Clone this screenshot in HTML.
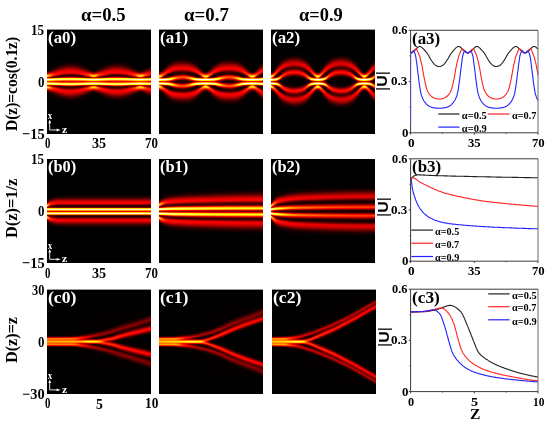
<!DOCTYPE html><html><head><meta charset="utf-8"><title>figure</title><style>
html,body{margin:0;padding:0;background:#fff}
body{width:550px;height:423px;position:relative;overflow:hidden}
.p{position:absolute;width:104px;height:104px;background:#000}
.q{box-shadow:0 -1px 0 rgba(0,0,0,.4)}
.p i{position:absolute;left:0;width:104px;height:1px;display:block}
.t{position:absolute;font-family:"Liberation Serif",serif;font-weight:bold;line-height:1;white-space:pre;transform-origin:0 0;color:#000}
.s{font-family:"Liberation Sans",sans-serif}

</style></head><body>
<div class="p q" style="left:47px;top:30px">
<i style="top:30px;background:linear-gradient(90deg,#000 0.5px,#000 103.5px)"></i>
<i style="top:31px;background:linear-gradient(90deg,#000 0.5px,#040000 29.5px,#050000 65.5px,#000 103.5px)"></i>
<i style="top:32px;background:linear-gradient(90deg,#000 0.5px,#090000 17.5px,#0a0000 28.5px,#000 45.5px,#080000 63.5px,#0b0000 74.5px,#000 90.5px,#010000 103.5px)"></i>
<i style="top:33px;background:linear-gradient(90deg,#000 0.5px,#090000 14.5px,#190000 24.5px,#000 40.5px,#060000 59.5px,#190000 70.5px,#000 87.5px,#020000 103.5px)"></i>
<i style="top:34px;background:linear-gradient(90deg,#000 0.5px,#080000 11.5px,#290000 22.5px,#1c0000 29.5px,#010000 38.5px,#060000 57.5px,#290000 69.5px,#170000 77.5px,#010000 85.5px,#040000 103.5px)"></i>
<i style="top:35px;background:linear-gradient(90deg,#000 0.5px,#070000 9.5px,#3f0000 21.5px,#380000 27.5px,#030000 38.5px,#050000 55.5px,#3d0000 67.5px,#3b0000 73.5px,#030000 85.5px,#030000 101.5px,#090000 103.5px)"></i>
<i style="top:36px;background:linear-gradient(90deg,#000 0.5px,#0a0000 8.5px,#5a0000 20.5px,#590000 26.5px,#050000 39.5px,#050000 53.5px,#190000 57.5px,#570000 66.5px,#5b0000 72.5px,#2a0000 80.5px,#070000 85.5px,#010000 97.5px,#130000 103.5px)"></i>
<i style="top:37px;background:linear-gradient(90deg,#000 0.5px,#0a0000 6.5px,#290000 10.5px,#6d0000 17.5px,#810000 22.5px,#700 27.5px,#3e0000 34.5px,#130000 38.5px,#000 44.5px,#080000 52.5px,#210000 56.5px,#680000 63.5px,#820000 69.5px,#750000 74.5px,#3a0000 81.5px,#100 85.5px,#000 91.5px,#090000 99.5px,#250000 103.5px)"></i>
<i style="top:38px;background:linear-gradient(90deg,#000 0.5px,#0a0000 4.5px,#290000 8.5px,#6f0000 13.5px,#9f0000 19.5px,#a50000 25.5px,#890000 30.5px,#510000 35.5px,#250000 38.5px,#010000 44.5px,#060000 50.5px,#2d0000 55.5px,#730000 60.5px,#a10000 66.5px,#a70000 71.5px,#8e0000 76.5px,#5b0000 81.5px,#200 85.5px,#020000 90.5px,#030000 96.5px,#250000 101.5px,#400000 103.5px)"></i>
<i style="top:39px;background:linear-gradient(90deg,#020000 0.5px,#0e0000 3.5px,#5a0000 9.5px,#8e0000 12.5px,#c00000 18.5px,#cb0000 24.5px,#b10000 30.5px,#890000 34.5px,#380000 39.5px,#050000 44.5px,#040000 48.5px,#1d0000 51.5px,#4e0000 55.5px,#920000 59.5px,#c20000 65.5px,#cb0000 71.5px,#b60000 76.5px,#850000 81.5px,#400000 85.5px,#090000 90.5px,#030000 94.5px,#150000 97.5px,#530000 102.5px,#600 103.5px)"></i>
<i style="top:40px;background:linear-gradient(90deg,#090000 0.5px,#170000 2.5px,#9b0000 10.5px,#c30000 13.5px,#e60000 20.5px,#e30000 27.5px,#c10000 33.5px,#950000 36.5px,#130000 44.5px,#0a0000 47.5px,#1b0000 49.5px,#8e0000 56.5px,#bd0000 59.5px,#e20000 65.5px,#e60000 72.5px,#cd0000 78.5px,#b20000 81.5px,#5d0000 86.5px,#100000 91.5px,#0b0000 94.5px,#320000 97.5px,#950000 103.5px)"></i>
<i style="top:41px;background:linear-gradient(90deg,#200000 0.5px,#3d0000 2.5px,#810000 5.5px,#e20000 12.5px,#f80000 20.5px,#f00000 30.5px,#df0000 34.5px,#7b0000 41.5px,#360000 44.5px,#1f0000 46.5px,#300000 48.5px,#860000 52.5px,#dc0000 58.5px,#f40000 64.5px,#f40000 75.5px,#d00 81.5px,#750000 88.5px,#300000 91.5px,#1f0000 93.5px,#360000 95.5px,#7b0000 98.5px,#c60000 103.5px)"></i>
<i style="top:42px;background:linear-gradient(90deg,#5b0000 0.5px,#870000 2.5px,#b80000 4.5px,#fb0000 11.5px,#f80000 26.5px,#fd0000 34.5px,#c20000 41.5px,#9a0000 43.5px,#650000 45.5px,#590000 46.5px,#5f0000 47.5px,#ab0000 50.5px,#d20000 53.5px,#fc0000 58.5px,#fa0000 74.5px,#fc0000 81.5px,#bd0000 88.5px,#910000 90.5px,#5f0000 92.5px,#590000 93.5px,#640000 94.5px,#b20000 97.5px,#dc0000 101.5px,#f10000 103.5px)"></i>
<i style="top:43px;background:linear-gradient(90deg,#c80000 0.5px,#f40000 2.5px,#ff0700 3.5px,#ff0c00 11.5px,#f00 13.5px,#cb0000 18.5px,#ba0000 23.5px,#ce0000 28.5px,#ff0300 33.5px,#ff0d00 36.5px,#ff0b00 42.5px,#ff0300 43.5px,#d30000 45.5px,#c50000 46.5px,#c00 47.5px,#fb0000 49.5px,#ff0a00 51.5px,#ff0b00 58.5px,#fb0000 60.5px,#c90000 65.5px,#ba0000 70.5px,#d00000 75.5px,#fb0000 79.5px,#ff0d00 83.5px,#ff0a00 89.5px,#fc0000 90.5px,#cd0000 92.5px,#c50000 93.5px,#eb0000 95.5px,#ff0200 96.5px,#ff0b00 98.5px,#ff0d00 103.5px)"></i>
<i style="top:44px;background:linear-gradient(90deg,#ff5800 0.5px,#ff6a00 2.5px,#ff6500 3.5px,#ff3c00 5.5px,#ff1700 9.5px,#ff0500 10.5px,#a50000 14.5px,#7f0000 17.5px,#680000 22.5px,#730000 27.5px,#900 31.5px,#d80000 34.5px,#f30000 35.5px,#ff0c00 36.5px,#ff4000 41.5px,#ff6900 43.5px,#ff5e00 45.5px,#ff5600 46.5px,#ff6b00 49.5px,#ff5e00 50.5px,#ff4500 51.5px,#ff1300 56.5px,#fc0000 57.5px,#b20000 60.5px,#850000 63.5px,#690000 68.5px,#700000 73.5px,#900000 77.5px,#c80000 80.5px,#fc0000 82.5px,#ff1c00 84.5px,#ff4500 88.5px,#ff6b00 90.5px,#ff5600 93.5px,#ff6800 95.5px,#ff6900 96.5px,#ff3400 99.5px,#ff0d00 103.5px)"></i>
<i style="top:45px;background:linear-gradient(90deg,#ffcd00 0.5px,#ffb700 2.5px,#ff9700 3.5px,#f60 4.5px,#ff0500 7.5px,#e60000 8.5px,#7f0000 11.5px,#5a0000 13.5px,#3b0000 17.5px,#340000 25.5px,#410000 30.5px,#5e0000 33.5px,#800 35.5px,#f00000 38.5px,#ff0f00 39.5px,#ff4d00 41.5px,#ffa500 43.5px,#ffbe00 44.5px,#ffcd00 46.5px,#ffc300 48.5px,#ffaf00 49.5px,#ff5900 51.5px,#fb0000 54.5px,#700 58.5px,#4b0000 61.5px,#350000 66.5px,#3a0000 75.5px,#500 79.5px,#760000 81.5px,#b50000 83.5px,#fa0000 85.5px,#ff3700 87.5px,#ff5800 88.5px,#ffaf00 90.5px,#ffc300 91.5px,#ffce00 93.5px,#ffbe00 95.5px,#ffa600 96.5px,#ff4e00 98.5px,#ff1000 100.5px,#f10000 101.5px,#a00 103.5px)"></i>
<i style="top:46px;background:linear-gradient(90deg,#ffd000 0.5px,#ffb500 1.5px,#ff8200 2.5px,#ff3800 3.5px,#de0000 4.5px,#a90000 5.5px,#790000 7.5px,#450000 10.5px,#370000 12.5px,#510000 23.5px,#370000 33.5px,#3e0000 35.5px,#7f0000 39.5px,#940000 40.5px,#b60000 41.5px,#f90000 42.5px,#ff5400 43.5px,#ff9500 44.5px,#ffc100 45.5px,#ffd300 46.5px,#ffca00 47.5px,#ffa700 48.5px,#ff6d00 49.5px,#ff1a00 50.5px,#c80000 51.5px,#9e0000 52.5px,#620000 55.5px,#410000 57.5px,#370000 60.5px,#510000 70.5px,#370000 80.5px,#410000 82.5px,#850000 86.5px,#9d0000 87.5px,#c60000 88.5px,#ff1700 89.5px,#ff6c00 90.5px,#ffa600 91.5px,#ffc900 92.5px,#ffd300 93.5px,#ffc100 94.5px,#ff9600 95.5px,#ff5600 96.5px,#fb0000 97.5px,#b70000 98.5px,#940000 99.5px,#4a0000 103.5px)"></i>
<i style="top:47px;background:linear-gradient(90deg,#e90000 0.5px,#d70000 1.5px,#7d0000 4.5px,#750000 5.5px,#a00000 11.5px,#fe0000 18.5px,#ff1500 22.5px,#ff0c00 26.5px,#fb0000 28.5px,#930000 36.5px,#760000 41.5px,#840000 42.5px,#df0000 45.5px,#eb0000 46.5px,#e50000 47.5px,#b00000 49.5px,#8e0000 50.5px,#790000 51.5px,#7a0000 53.5px,#a40000 58.5px,#f70000 64.5px,#ff0a00 66.5px,#ff1600 70.5px,#ff0200 74.5px,#d00000 78.5px,#900 82.5px,#760000 87.5px,#780000 88.5px,#8e0000 89.5px,#ce0000 91.5px,#e50000 92.5px,#eb0000 93.5px,#df0000 94.5px,#850000 97.5px,#760000 98.5px,#920000 103.5px)"></i>
<i style="top:48px;background:linear-gradient(90deg,#ff8e00 0.5px,#f90 4.5px,#fffd00 13.5px,#ffff2f 18.5px,#ffff3a 24.5px,#ffff26 29.5px,#fffa00 33.5px,#ff9600 42.5px,#ff8e00 47.5px,#ff9c00 51.5px,#ffff02 60.5px,#ffff2b 64.5px,#ffff3b 70.5px,#ffff2b 75.5px,#ffff02 79.5px,#ff9400 89.5px,#ff8e00 95.5px,#ff9f00 98.5px,#ffda00 103.5px)"></i>
<i style="top:49px;background:linear-gradient(90deg,#ffffe3 0.5px,#ffffae 8.5px,#ffff5e 18.5px,#ffff50 23.5px,#ff6 29.5px,#ffffdc 44.5px,#ffffe2 47.5px,#ffffab 55.5px,#ffff5c 65.5px,#ffff52 71.5px,#ffff6f 77.5px,#ffffde 91.5px,#ffffe1 94.5px,#ffffa0 103.5px)"></i>
<i style="top:50px;background:linear-gradient(90deg,#ffe600 0.5px,#ffac00 8.5px,#ff7000 17.5px,#ff6500 24.5px,#ff7c00 31.5px,#ffe400 45.5px,#ffe100 48.5px,#ff7800 62.5px,#ff6400 70.5px,#ff7800 77.5px,#ffd200 89.5px,#ffe700 93.5px,#ffc800 98.5px,#ff9e00 103.5px)"></i>
<i style="top:51px;background:linear-gradient(90deg,#ff2f00 0.5px,#fa0000 9.5px,#d00 17.5px,#da0000 27.5px,#f60000 36.5px,#ff0f00 40.5px,#ff2f00 46.5px,#f10 52.5px,#f80000 56.5px,#da0000 65.5px,#dc0000 75.5px,#f80000 83.5px,#ff1e00 89.5px,#ff2f00 93.5px,#fc0000 102.5px,#f60000 103.5px)"></i>
<i style="top:52px;background:linear-gradient(90deg,#ffb200 0.5px,#ff4c00 15.5px,#ff3a00 23.5px,#ff4e00 31.5px,#ffb000 45.5px,#ffac00 48.5px,#ff5000 61.5px,#ff3a00 68.5px,#ff4600 76.5px,#ff7f00 85.5px,#ffb100 92.5px,#fa0 95.5px,#ff6d00 103.5px)"></i>
<i style="top:53px;background:linear-gradient(90deg,#ffffd2 0.5px,#ffffa2 6.5px,#ffff36 17.5px,#ffff21 22.5px,#ffff2b 27.5px,#ffff67 34.5px,#ffffc9 44.5px,#ffffd1 47.5px,#ffff95 54.5px,#ff3 64.5px,#ffff20 69.5px,#ffff2d 74.5px,#ffff75 82.5px,#ffffcb 91.5px,#ffffcf 94.5px,#ffff87 102.5px,#ffff7c 103.5px)"></i>
<i style="top:54px;background:linear-gradient(90deg,#ffde00 0.5px,#ffeb00 4.5px,#fffd00 6.5px,#ffff54 14.5px,#ffff69 20.5px,#ffff62 29.5px,#ffff3f 34.5px,#fff900 40.5px,#ffdf00 44.5px,#ffe600 50.5px,#ffff01 53.5px,#ffff4f 60.5px,#ffff68 66.5px,#ffff64 75.5px,#ffff46 80.5px,#ffff01 86.5px,#ffe200 90.5px,#ffe300 96.5px,#ffff06 100.5px,#ffff2a 103.5px)"></i>
<i style="top:55px;background:linear-gradient(90deg,#dc0000 0.5px,#960000 4.5px,#9d0000 6.5px,#d40000 11.5px,#ff0500 14.5px,#ff3900 18.5px,#ff4f00 22.5px,#ff4600 26.5px,#ff1e00 30.5px,#f00 32.5px,#b90000 37.5px,#940000 41.5px,#900 42.5px,#d40000 45.5px,#d00 46.5px,#d90000 47.5px,#9f0000 50.5px,#940000 51.5px,#ab0000 54.5px,#d90000 58.5px,#f90000 60.5px,#f40 66.5px,#ff5000 70.5px,#ff3c00 74.5px,#fa0000 79.5px,#c00000 83.5px,#970000 87.5px,#940000 88.5px,#b40000 90.5px,#d90000 92.5px,#de0000 93.5px,#c20000 95.5px,#9a0000 97.5px,#940000 98.5px,#c30000 103.5px)"></i>
<i style="top:56px;background:linear-gradient(90deg,#ffa700 0.5px,#ff8900 1.5px,#ff5300 2.5px,#ff0900 3.5px,#b70000 4.5px,#890000 5.5px,#600 7.5px,#420000 10.5px,#3f0000 13.5px,#690000 22.5px,#590000 28.5px,#3c0000 34.5px,#510000 37.5px,#790000 40.5px,#940000 41.5px,#cf0000 42.5px,#ff2500 43.5px,#f60 44.5px,#ff9600 45.5px,#fa0 46.5px,#ffa000 47.5px,#ff7900 48.5px,#ff3e00 49.5px,#ec0000 50.5px,#a30000 51.5px,#810000 52.5px,#490000 56.5px,#3d0000 59.5px,#680000 68.5px,#610000 73.5px,#3c0000 81.5px,#500 84.5px,#800000 87.5px,#a20000 88.5px,#ea0000 89.5px,#ff3c00 90.5px,#ff7800 91.5px,#ffa000 92.5px,#fa0 93.5px,#ff9600 94.5px,#ff6800 95.5px,#ff2700 96.5px,#d10000 97.5px,#950000 98.5px,#7a0000 99.5px,#450000 103.5px)"></i>
<i style="top:57px;background:linear-gradient(90deg,#ffdb00 0.5px,#ffd200 1.5px,#ffbe00 2.5px,#ff9a00 3.5px,#ff3000 5.5px,#ff0b00 6.5px,#eb0000 7.5px,#6b0000 11.5px,#4b0000 13.5px,#320000 18.5px,#350000 29.5px,#4f0000 33.5px,#730000 35.5px,#f50000 39.5px,#ff1700 40.5px,#ff3e00 41.5px,#ffa900 43.5px,#ffc600 44.5px,#ffdc00 46.5px,#ffcd00 48.5px,#ffb500 49.5px,#ff8900 50.5px,#ff4e00 51.5px,#ff0100 53.5px,#7c0000 57.5px,#530000 59.5px,#360000 63.5px,#320000 74.5px,#3f0000 78.5px,#630000 81.5px,#9c0000 83.5px,#f00 86.5px,#ff4d00 88.5px,#ff8700 89.5px,#ffb400 90.5px,#fc0 91.5px,#ffdc00 93.5px,#ffc600 95.5px,#fa0 96.5px,#ff3f00 98.5px,#ff1700 99.5px,#f50000 100.5px,#910000 103.5px)"></i>
<i style="top:58px;background:linear-gradient(90deg,#ff7400 0.5px,#ff7e00 2.5px,#ff7300 3.5px,#f50 4.5px,#ff2800 7.5px,#f10 9.5px,#f60000 10.5px,#a50000 13.5px,#700 16.5px,#5b0000 21.5px,#5f0000 26.5px,#7a0000 30.5px,#ac0000 33.5px,#f00 36.5px,#ff1700 37.5px,#ff4700 41.5px,#ff7a00 43.5px,#ff7900 45.5px,#ff7600 47.5px,#ff7d00 49.5px,#ff6b00 50.5px,#ff4d00 51.5px,#ff0a00 56.5px,#ec0000 57.5px,#9e0000 60.5px,#740000 63.5px,#5b0000 68.5px,#650000 74.5px,#8c0000 78.5px,#cd0000 81.5px,#ff0900 83.5px,#ff2500 85.5px,#ff4c00 88.5px,#ff6a00 89.5px,#ff7d00 90.5px,#ff7300 93.5px,#ff7e00 95.5px,#ff7a00 96.5px,#ff4700 98.5px,#ff1700 102.5px,#ff0100 103.5px)"></i>
<i style="top:59px;background:linear-gradient(90deg,#e30000 0.5px,#f50000 1.5px,#ff1c00 3.5px,#ff0d00 11.5px,#f70000 13.5px,#c40000 17.5px,#a00 22.5px,#b70000 27.5px,#de0000 31.5px,#fc0000 33.5px,#ff1000 36.5px,#ff1900 43.5px,#ff0600 44.5px,#e10000 46.5px,#e70000 47.5px,#fd0000 48.5px,#ff1d00 50.5px,#ff0b00 58.5px,#ff0200 59.5px,#c10000 64.5px,#ab0000 68.5px,#b30000 73.5px,#d50000 77.5px,#ff0100 80.5px,#ff1000 83.5px,#ff1d00 89.5px,#ff1400 90.5px,#fd0000 91.5px,#e80000 92.5px,#e00000 93.5px,#ff0500 95.5px,#ff1800 96.5px,#ff1600 99.5px,#ff1000 103.5px)"></i>
<i style="top:60px;background:linear-gradient(90deg,#6c0000 0.5px,#9a0000 2.5px,#c80000 4.5px,#ff0100 11.5px,#ef0000 24.5px,#ff0200 34.5px,#e70000 38.5px,#c30000 42.5px,#700 45.5px,#6a0000 46.5px,#710000 47.5px,#bd0000 50.5px,#de0000 53.5px,#ff0100 58.5px,#ef0000 71.5px,#ff0100 81.5px,#d70000 87.5px,#be0000 89.5px,#710000 92.5px,#6a0000 93.5px,#700 94.5px,#c30000 97.5px,#e70000 101.5px,#f80000 103.5px)"></i>
<i style="top:61px;background:linear-gradient(90deg,#290000 0.5px,#490000 2.5px,#8e0000 5.5px,#e10000 11.5px,#f70000 17.5px,#f60000 29.5px,#e60000 34.5px,#890000 41.5px,#2f0000 45.5px,#270000 46.5px,#2b0000 47.5px,#510000 49.5px,#930000 52.5px,#e40000 58.5px,#f90000 66.5px,#f10000 78.5px,#d90000 82.5px,#820000 88.5px,#3a0000 91.5px,#2b0000 92.5px,#270000 93.5px,#410000 95.5px,#800 98.5px,#cf0000 103.5px)"></i>
<i style="top:62px;background:linear-gradient(90deg,#0c0000 0.5px,#1c0000 2.5px,#620000 6.5px,#c30000 12.5px,#e90000 19.5px,#e80000 27.5px,#c90000 33.5px,#9f0000 36.5px,#180000 44.5px,#0b0000 46.5px,#140000 48.5px,#b00 58.5px,#df0000 63.5px,#ed0000 70.5px,#da0000 77.5px,#b00 81.5px,#140000 91.5px,#0b0000 93.5px,#260000 96.5px,#5d0000 99.5px,#9e0000 103.5px)"></i>
<i style="top:63px;background:linear-gradient(90deg,#030000 0.5px,#100 3.5px,#620000 9.5px,#970000 12.5px,#c70000 18.5px,#d20000 24.5px,#b90000 30.5px,#920000 34.5px,#3f0000 39.5px,#070000 44.5px,#060000 48.5px,#200 51.5px,#680000 56.5px,#9a0000 59.5px,#c90000 65.5px,#d10000 71.5px,#be0000 76.5px,#8e0000 81.5px,#470000 85.5px,#0b0000 90.5px,#040000 94.5px,#190000 97.5px,#5b0000 102.5px,#6f0000 103.5px)"></i>
<i style="top:64px;background:linear-gradient(90deg,#000 0.5px,#0c0000 4.5px,#3c0000 9.5px,#700 13.5px,#a70000 19.5px,#ad0000 25.5px,#910000 30.5px,#680000 34.5px,#2a0000 38.5px,#040000 43.5px,#030000 49.5px,#320000 55.5px,#700000 59.5px,#a40000 65.5px,#ae0000 71.5px,#960000 76.5px,#630000 81.5px,#270000 85.5px,#030000 90.5px,#040000 96.5px,#370000 102.5px,#470000 103.5px)"></i>
<i style="top:65px;background:linear-gradient(90deg,#000 0.5px,#0c0000 6.5px,#2e0000 10.5px,#6c0000 16.5px,#870000 21.5px,#830000 26.5px,#580000 32.5px,#150000 38.5px,#000 44.5px,#090000 52.5px,#250000 56.5px,#670000 62.5px,#860000 67.5px,#820000 73.5px,#4b0000 80.5px,#130000 85.5px,#000 91.5px,#060000 98.5px,#1e0000 102.5px,#2a0000 103.5px)"></i>
<i style="top:66px;background:linear-gradient(90deg,#000 0.5px,#0b0000 8.5px,#5c0000 19.5px,#640000 24.5px,#480000 30.5px,#0a0000 38.5px,#000 48.5px,#0d0000 55.5px,#590000 65.5px,#650000 70.5px,#4d0000 76.5px,#090000 85.5px,#000 96.5px,#0f0000 102.5px,#160000 103.5px)"></i>
<i style="top:67px;background:linear-gradient(90deg,#000 0.5px,#080000 9.5px,#420000 20.5px,#410000 26.5px,#040000 38.5px,#030000 54.5px,#430000 67.5px,#400000 73.5px,#030000 85.5px,#040000 101.5px,#0b0000 103.5px)"></i>
<i style="top:68px;background:linear-gradient(90deg,#000 0.5px,#090000 11.5px,#2d0000 22.5px,#1f0000 29.5px,#010000 39.5px,#040000 56.5px,#2d0000 69.5px,#1e0000 76.5px,#010000 85.5px,#050000 103.5px)"></i>
<i style="top:69px;background:linear-gradient(90deg,#000 0.5px,#080000 13.5px,#1c0000 23.5px,#000 40.5px,#050000 58.5px,#1c0000 70.5px,#000 86.5px,#020000 103.5px)"></i>
<i style="top:70px;background:linear-gradient(90deg,#000 0.5px,#080000 16.5px,#0e0000 26.5px,#000 41.5px,#070000 62.5px,#0e0000 73.5px,#000 88.5px,#010000 103.5px)"></i>
<i style="top:71px;background:linear-gradient(90deg,#000 0.5px,#060000 28.5px,#020000 60.5px,#060000 74.5px,#000 103.5px)"></i>
<i style="top:72px;background:linear-gradient(90deg,#000 0.5px,#000 103.5px)"></i>
</div>
<div class="p q" style="left:159px;top:30px">
<i style="top:27px;background:linear-gradient(90deg,#000 0.5px,#000 103.5px)"></i>
<i style="top:28px;background:linear-gradient(90deg,#000 0.5px,#070000 29.5px,#000 53.5px,#080000 75.5px,#000 93.5px,#000 103.5px)"></i>
<i style="top:29px;background:linear-gradient(90deg,#000 0.5px,#060000 13.5px,#120000 25.5px,#000 41.5px,#060000 60.5px,#120000 72.5px,#000 86.5px,#010000 103.5px)"></i>
<i style="top:30px;background:linear-gradient(90deg,#000 0.5px,#050000 11.5px,#1f0000 21.5px,#150000 30.5px,#000 38.5px,#030000 57.5px,#1f0000 68.5px,#140000 77.5px,#000 85.5px,#020000 103.5px)"></i>
<i style="top:31px;background:linear-gradient(90deg,#000 0.5px,#060000 10.5px,#2f0000 19.5px,#2e0000 27.5px,#020000 37.5px,#030000 56.5px,#2d0000 65.5px,#300000 73.5px,#000 85.5px,#040000 103.5px)"></i>
<i style="top:32px;background:linear-gradient(90deg,#000 0.5px,#060000 9.5px,#450000 18.5px,#4b0000 25.5px,#300 31.5px,#050000 37.5px,#030000 55.5px,#420000 64.5px,#4c0000 71.5px,#380000 77.5px,#030000 84.5px,#040000 102.5px,#0a0000 103.5px)"></i>
<i style="top:33px;background:linear-gradient(90deg,#000 0.5px,#060000 8.5px,#590000 16.5px,#6c0000 22.5px,#620000 28.5px,#450000 32.5px,#0b0000 37.5px,#000 41.5px,#030000 54.5px,#1c0000 57.5px,#540000 62.5px,#6c0000 68.5px,#610000 75.5px,#350000 80.5px,#080000 84.5px,#000 92.5px,#040000 101.5px,#140000 103.5px)"></i>
<i style="top:34px;background:linear-gradient(90deg,#000 0.5px,#060000 7.5px,#2c0000 10.5px,#6a0000 14.5px,#800 18.5px,#8f0000 25.5px,#7a0000 30.5px,#490000 34.5px,#0b0000 38.5px,#000 42.5px,#030000 53.5px,#200000 56.5px,#6d0000 61.5px,#890000 65.5px,#8f0000 72.5px,#700 77.5px,#400 81.5px,#080000 85.5px,#000 93.5px,#040000 100.5px,#260000 103.5px)"></i>
<i style="top:35px;background:linear-gradient(90deg,#000 0.5px,#050000 6.5px,#1d0000 8.5px,#730000 12.5px,#9b0000 15.5px,#b10000 19.5px,#b00000 27.5px,#980000 31.5px,#6d0000 34.5px,#180000 38.5px,#040000 40.5px,#020000 52.5px,#230000 55.5px,#780000 59.5px,#a60000 63.5px,#b50000 69.5px,#ab0000 75.5px,#950000 78.5px,#670000 81.5px,#130000 85.5px,#020000 87.5px,#040000 99.5px,#180000 101.5px,#410000 103.5px)"></i>
<i style="top:36px;background:linear-gradient(90deg,#000 0.5px,#050000 5.5px,#1f0000 7.5px,#890000 11.5px,#b90000 14.5px,#d10000 18.5px,#d00000 28.5px,#b50000 32.5px,#820000 35.5px,#190000 39.5px,#030000 41.5px,#020000 51.5px,#130000 53.5px,#5d0000 56.5px,#a20000 59.5px,#c50000 62.5px,#d50000 68.5px,#cb0000 76.5px,#b10000 79.5px,#790000 82.5px,#270000 85.5px,#070000 87.5px,#000 94.5px,#0a0000 99.5px,#2e0000 101.5px,#600 103.5px)"></i>
<i style="top:37px;background:linear-gradient(90deg,#000 0.5px,#040000 4.5px,#1f0000 6.5px,#9e0000 10.5px,#c60000 12.5px,#e30000 15.5px,#ec0000 24.5px,#e10000 31.5px,#c10000 34.5px,#950000 36.5px,#320000 39.5px,#180000 40.5px,#030000 42.5px,#020000 50.5px,#120000 52.5px,#470000 54.5px,#a60000 57.5px,#d60000 60.5px,#ea0000 64.5px,#e80000 76.5px,#d70000 79.5px,#a70000 82.5px,#280000 86.5px,#120000 87.5px,#020000 89.5px,#030000 97.5px,#180000 99.5px,#520000 101.5px,#940000 103.5px)"></i>
<i style="top:38px;background:linear-gradient(90deg,#000 0.5px,#040000 3.5px,#1f0000 5.5px,#670000 7.5px,#b20000 9.5px,#d00 11.5px,#f50000 14.5px,#f40000 32.5px,#d80000 35.5px,#a70000 37.5px,#300 40.5px,#180000 41.5px,#020000 43.5px,#060000 50.5px,#280000 52.5px,#b00 56.5px,#e20000 58.5px,#f80000 62.5px,#f60000 78.5px,#e20000 81.5px,#bc0000 83.5px,#760000 85.5px,#290000 87.5px,#120000 88.5px,#010000 90.5px,#080000 97.5px,#170000 98.5px,#320000 99.5px,#a60000 102.5px,#c40000 103.5px)"></i>
<i style="top:39px;background:linear-gradient(90deg,#010000 0.5px,#0c0000 3.5px,#200000 4.5px,#410000 5.5px,#9e0000 7.5px,#c50000 8.5px,#e10000 9.5px,#fa0000 11.5px,#fc0000 15.5px,#de0000 21.5px,#e20000 26.5px,#f00 32.5px,#f80000 35.5px,#d90000 37.5px,#ba0000 38.5px,#350000 41.5px,#180000 42.5px,#080000 43.5px,#020000 48.5px,#100 50.5px,#2a0000 51.5px,#4e0000 52.5px,#ac0000 54.5px,#cf0000 55.5px,#f50000 57.5px,#fe0000 61.5px,#dc0000 69.5px,#e00 75.5px,#f00 79.5px,#f50000 82.5px,#e80000 83.5px,#d00000 84.5px,#ad0000 85.5px,#500000 87.5px,#2a0000 88.5px,#120000 89.5px,#020000 91.5px,#080000 96.5px,#180000 97.5px,#340000 98.5px,#b90000 101.5px,#ed0000 103.5px)"></i>
<i style="top:40px;background:linear-gradient(90deg,#050000 0.5px,#0f0000 2.5px,#200 3.5px,#460000 4.5px,#d80000 7.5px,#f50000 8.5px,#ff0700 10.5px,#fc0000 12.5px,#b50000 17.5px,#9b0000 21.5px,#a00000 26.5px,#c50000 30.5px,#f00 34.5px,#ff0700 36.5px,#f00 37.5px,#ed0000 38.5px,#ca0000 39.5px,#390000 42.5px,#1a0000 43.5px,#060000 45.5px,#090000 48.5px,#130000 49.5px,#2c0000 50.5px,#860000 52.5px,#ba0000 53.5px,#e30000 54.5px,#fb0000 55.5px,#ff0300 58.5px,#e90000 60.5px,#b20000 64.5px,#9a0000 68.5px,#a20000 73.5px,#ca0000 77.5px,#f70000 80.5px,#ff0700 82.5px,#fb0000 84.5px,#e40000 85.5px,#800 87.5px,#2d0000 89.5px,#140000 90.5px,#050000 92.5px,#0b0000 95.5px,#190000 96.5px,#380000 97.5px,#c90000 100.5px,#ed0000 101.5px,#f00 102.5px,#ff0700 103.5px)"></i>
<i style="top:41px;background:linear-gradient(90deg,#120000 0.5px,#1a0000 1.5px,#2d0000 2.5px,#500000 3.5px,#e80000 6.5px,#ff0800 7.5px,#ff1300 8.5px,#ff1000 9.5px,#fb0000 10.5px,#a60000 13.5px,#730000 16.5px,#570000 20.5px,#580000 26.5px,#700 30.5px,#ad0000 33.5px,#ff0500 36.5px,#ff1200 37.5px,#f10 38.5px,#f00 39.5px,#da0000 40.5px,#420000 43.5px,#250000 44.5px,#120000 46.5px,#1f0000 48.5px,#360000 49.5px,#940000 51.5px,#f40000 53.5px,#ff0d00 54.5px,#ff1300 55.5px,#ff0c00 56.5px,#f20000 57.5px,#9e0000 60.5px,#6f0000 63.5px,#560000 67.5px,#590000 73.5px,#7b0000 77.5px,#b60000 80.5px,#f10000 82.5px,#ff0b00 83.5px,#ff1300 84.5px,#f50000 86.5px,#cb0000 87.5px,#610000 89.5px,#360000 90.5px,#1f0000 91.5px,#120000 93.5px,#160000 94.5px,#250000 95.5px,#410000 96.5px,#d90000 99.5px,#f00 100.5px,#f10 101.5px,#ff1200 102.5px,#ff0500 103.5px)"></i>
<i style="top:42px;background:linear-gradient(90deg,#3b0000 0.5px,#4b0000 1.5px,#6b0000 2.5px,#fd0000 5.5px,#ff1900 6.5px,#ff1f00 7.5px,#ff0d00 8.5px,#de0000 9.5px,#850000 11.5px,#500 13.5px,#350000 16.5px,#2b0000 22.5px,#310000 29.5px,#4b0000 32.5px,#710000 34.5px,#910000 35.5px,#e00 37.5px,#ff1700 38.5px,#ff2000 39.5px,#ff1300 40.5px,#f00000 41.5px,#5f0000 44.5px,#400 45.5px,#390000 46.5px,#3e0000 47.5px,#530000 48.5px,#790000 49.5px,#e00000 51.5px,#ff0900 52.5px,#ff1e00 53.5px,#ff1d00 54.5px,#fe0000 55.5px,#9f0000 57.5px,#7b0000 58.5px,#500000 60.5px,#300 63.5px,#2b0000 71.5px,#320000 76.5px,#4f0000 79.5px,#7a0000 81.5px,#c00 83.5px,#fd0000 84.5px,#ff1d00 85.5px,#ff1e00 86.5px,#ff0a00 87.5px,#e10000 88.5px,#7a0000 90.5px,#540000 91.5px,#3e0000 92.5px,#390000 93.5px,#430000 94.5px,#5e0000 95.5px,#890000 96.5px,#ef0000 98.5px,#ff1200 99.5px,#ff2000 100.5px,#ff1800 101.5px,#ef0000 102.5px,#bd0000 103.5px)"></i>
<i style="top:43px;background:linear-gradient(90deg,#920000 0.5px,#a90000 1.5px,#f00 3.5px,#ff1f00 4.5px,#ff2f00 5.5px,#ff2c00 6.5px,#f90000 7.5px,#b20000 8.5px,#7a0000 9.5px,#530000 10.5px,#2a0000 12.5px,#190000 15.5px,#2e0000 24.5px,#190000 31.5px,#2f0000 34.5px,#410000 35.5px,#5e0000 36.5px,#8a0000 37.5px,#c80000 38.5px,#ff1000 39.5px,#ff2f00 40.5px,#ff2b00 41.5px,#ff1700 42.5px,#f00000 43.5px,#9f0000 45.5px,#900000 46.5px,#970000 47.5px,#b50000 48.5px,#e00000 49.5px,#ff0d00 50.5px,#ff2500 51.5px,#ff3000 52.5px,#ff2300 53.5px,#e10000 54.5px,#9e0000 55.5px,#6b0000 56.5px,#490000 57.5px,#270000 59.5px,#190000 62.5px,#2f0000 70.5px,#190000 77.5px,#270000 80.5px,#490000 82.5px,#6a0000 83.5px,#9d0000 84.5px,#df0000 85.5px,#f20 86.5px,#ff3000 87.5px,#ff2500 88.5px,#ff0d00 89.5px,#e10000 90.5px,#b60000 91.5px,#980000 92.5px,#900000 93.5px,#9f0000 94.5px,#ef0000 96.5px,#ff1600 97.5px,#ff2b00 98.5px,#ff2f00 99.5px,#ff1200 100.5px,#ca0000 101.5px,#8c0000 102.5px,#5e0000 103.5px)"></i>
<i style="top:44px;background:linear-gradient(90deg,#ff1d00 0.5px,#ff4b00 2.5px,#ff5a00 3.5px,#ff4e00 4.5px,#ff3600 5.5px,#d00 6.5px,#840000 7.5px,#4c0000 8.5px,#2d0000 9.5px,#130000 11.5px,#150000 14.5px,#630000 21.5px,#600 24.5px,#400000 28.5px,#130000 32.5px,#150000 35.5px,#350000 37.5px,#5b0000 38.5px,#9d0000 39.5px,#fe0000 40.5px,#ff4200 41.5px,#ff5400 42.5px,#ff5800 43.5px,#ff2800 45.5px,#ff1b00 46.5px,#f20 47.5px,#ff5200 49.5px,#ff5900 50.5px,#ff4800 51.5px,#ff1f00 52.5px,#bd0000 53.5px,#6e0000 54.5px,#400000 55.5px,#260000 56.5px,#100 58.5px,#180000 61.5px,#5e0000 67.5px,#680000 70.5px,#500 73.5px,#180000 78.5px,#100 81.5px,#260000 83.5px,#3f0000 84.5px,#6c0000 85.5px,#ba0000 86.5px,#ff1d00 87.5px,#ff4700 88.5px,#ff5900 89.5px,#ff5300 90.5px,#f20 92.5px,#ff1b00 93.5px,#ff2800 94.5px,#ff5800 96.5px,#f50 97.5px,#ff4200 98.5px,#ff0100 99.5px,#9f0000 100.5px,#5c0000 101.5px,#360000 102.5px,#210000 103.5px)"></i>
<i style="top:45px;background:linear-gradient(90deg,#ffb000 0.5px,#ffa700 2.5px,#ff8700 3.5px,#ff2f00 4.5px,#b40000 5.5px,#590000 6.5px,#2a0000 7.5px,#160000 8.5px,#0b0000 10.5px,#1c0000 12.5px,#610000 15.5px,#a70000 18.5px,#ca0000 21.5px,#cd0000 24.5px,#b20000 27.5px,#730000 30.5px,#280000 33.5px,#0e0000 35.5px,#0f0000 37.5px,#1b0000 38.5px,#350000 39.5px,#710000 40.5px,#db0000 41.5px,#ff5600 42.5px,#ff9500 43.5px,#ffac00 44.5px,#ffae00 48.5px,#ffa100 49.5px,#ff7500 50.5px,#ff0600 51.5px,#910000 52.5px,#450000 53.5px,#200 54.5px,#0c0000 56.5px,#140000 58.5px,#360000 60.5px,#900 64.5px,#c50000 67.5px,#ce0000 70.5px,#b00 73.5px,#830000 76.5px,#200 80.5px,#0c0000 82.5px,#120000 84.5px,#210000 85.5px,#400 86.5px,#8f0000 87.5px,#ff0300 88.5px,#ff7300 89.5px,#ffa000 90.5px,#ffae00 91.5px,#ffac00 95.5px,#ff9600 96.5px,#ff5800 97.5px,#de0000 98.5px,#730000 99.5px,#360000 100.5px,#1b0000 101.5px,#0b0000 103.5px)"></i>
<i style="top:46px;background:linear-gradient(90deg,#ffff06 0.5px,#ffe800 1.5px,#ffa400 2.5px,#ff1600 3.5px,#810000 4.5px,#380000 5.5px,#1b0000 6.5px,#120000 8.5px,#1b0000 9.5px,#310000 10.5px,#f50000 15.5px,#ff2000 17.5px,#ff3500 20.5px,#ff3100 27.5px,#ff1b00 29.5px,#ff0700 30.5px,#ea0000 31.5px,#480000 35.5px,#280000 36.5px,#170000 37.5px,#140000 39.5px,#200 40.5px,#490000 41.5px,#a90000 42.5px,#ff4c00 43.5px,#ffc200 44.5px,#fff300 45.5px,#ffff0b 46.5px,#fffc00 47.5px,#ffd900 48.5px,#ff7f00 49.5px,#de0000 50.5px,#620000 51.5px,#2b0000 52.5px,#170000 53.5px,#140000 55.5px,#200000 56.5px,#610000 58.5px,#de0000 61.5px,#fe0000 62.5px,#ff2500 64.5px,#ff3500 67.5px,#ff2f00 74.5px,#ff1600 76.5px,#fe0000 77.5px,#b80000 79.5px,#3d0000 82.5px,#210000 83.5px,#140000 84.5px,#170000 86.5px,#2a0000 87.5px,#600000 88.5px,#da0000 89.5px,#ff7c00 90.5px,#ffd800 91.5px,#fffc00 92.5px,#ffff0b 93.5px,#fff400 94.5px,#ffc400 95.5px,#ff5000 96.5px,#ad0000 97.5px,#4b0000 98.5px,#200 99.5px,#120000 101.5px,#160000 102.5px,#280000 103.5px)"></i>
<i style="top:47px;background:linear-gradient(90deg,#ff8e00 0.5px,#ff4800 1.5px,#e10000 2.5px,#890000 3.5px,#5f0000 4.5px,#5a0000 5.5px,#810000 8.5px,#a80000 9.5px,#e60000 10.5px,#ff2800 11.5px,#ff5b00 12.5px,#ff8000 13.5px,#ff9400 14.5px,#f90 15.5px,#ff6f00 19.5px,#ff5400 22.5px,#ff5c00 25.5px,#ff9600 30.5px,#f90 31.5px,#ff9000 32.5px,#ff7600 33.5px,#ff4c00 34.5px,#ff1400 35.5px,#d10000 36.5px,#980000 37.5px,#7b0000 38.5px,#5f0000 40.5px,#590000 41.5px,#670000 42.5px,#a20000 43.5px,#ff0300 44.5px,#ff6500 45.5px,#ff9700 46.5px,#ff7e00 47.5px,#ff2700 48.5px,#c20000 49.5px,#750000 50.5px,#5b0000 51.5px,#600 53.5px,#8a0000 55.5px,#ba0000 56.5px,#fc0000 57.5px,#ff3a00 58.5px,#ff6900 59.5px,#ff8900 60.5px,#ff9700 61.5px,#ff9100 63.5px,#ff5700 68.5px,#ff5700 71.5px,#ff9800 77.5px,#ff9700 78.5px,#ff8900 79.5px,#ff6a00 80.5px,#ff3b00 81.5px,#fe0000 82.5px,#bc0000 83.5px,#8b0000 84.5px,#670000 86.5px,#5b0000 88.5px,#740000 89.5px,#c00000 90.5px,#ff2500 91.5px,#ff7c00 92.5px,#ff9700 93.5px,#ff6700 94.5px,#ff0600 95.5px,#a40000 96.5px,#670000 97.5px,#590000 98.5px,#6b0000 100.5px,#7b0000 101.5px,#960000 102.5px,#cf0000 103.5px)"></i>
<i style="top:48px;background:linear-gradient(90deg,#ff9f00 0.5px,#ff7800 2.5px,#ff7300 3.5px,#ff8c00 5.5px,#ffcb00 8.5px,#fe0 9.5px,#ffff20 10.5px,#ffff3c 11.5px,#ffff39 12.5px,#ffff17 13.5px,#ffe900 14.5px,#ff6f00 17.5px,#ff3100 19.5px,#ff0d00 21.5px,#ff0200 23.5px,#f10 25.5px,#ff3a00 27.5px,#ffa100 30.5px,#fff600 32.5px,#ffff25 33.5px,#ffff3d 34.5px,#ffff36 35.5px,#ffff10 36.5px,#ffe100 37.5px,#ffae00 39.5px,#ff7800 42.5px,#ff7300 43.5px,#ff7d00 44.5px,#ffa200 46.5px,#ff9a00 47.5px,#ff7500 49.5px,#ff7500 50.5px,#ffa700 53.5px,#ffd400 55.5px,#fffc00 56.5px,#ffff2d 57.5px,#ffff3e 58.5px,#ffff31 59.5px,#ffff07 60.5px,#ff8700 63.5px,#f40 65.5px,#ff1600 67.5px,#ff0200 69.5px,#ff0900 71.5px,#ff2900 73.5px,#ff8600 76.5px,#ffff05 79.5px,#ffff30 80.5px,#ffff3e 81.5px,#ffff2e 82.5px,#fffd00 83.5px,#ffd500 84.5px,#ff8100 88.5px,#ff7500 89.5px,#ff7500 90.5px,#f90 92.5px,#ffa200 93.5px,#ff7d00 95.5px,#ff7300 96.5px,#ff8600 98.5px,#ffc300 101.5px,#ffe000 102.5px,#ffff0e 103.5px)"></i>
<i style="top:49px;background:linear-gradient(90deg,#fff 0.5px,#ffffef 6.5px,#ffd 8.5px,#ffffc0 9.5px,#ffff85 10.5px,#ffff39 11.5px,#ffef00 12.5px,#ff3400 15.5px,#ff0500 16.5px,#c00000 18.5px,#980000 20.5px,#860000 22.5px,#8f0000 25.5px,#b00000 27.5px,#ea0000 29.5px,#ff1300 30.5px,#ff8200 32.5px,#ffff04 34.5px,#ffff9b 36.5px,#ffffcd 37.5px,#ffffe1 38.5px,#fffff8 42.5px,#fffffd 48.5px,#ffffed 53.5px,#ffffd7 55.5px,#ffffaf 56.5px,#ffff6d 57.5px,#ffff20 58.5px,#ffdb00 59.5px,#ff5a00 61.5px,#ff2400 62.5px,#f70000 63.5px,#b80000 65.5px,#930000 67.5px,#850000 70.5px,#930000 72.5px,#b70000 74.5px,#f60000 76.5px,#f20 77.5px,#ff9800 79.5px,#ffda00 80.5px,#ffff1e 81.5px,#ffffae 83.5px,#ffffd7 84.5px,#fffff7 88.5px,#fff 94.5px,#ffffea 100.5px,#ffffce 102.5px,#ffff9c 103.5px)"></i>
<i style="top:50px;background:linear-gradient(90deg,#fff400 0.5px,#ffeb00 3.5px,#ffbc00 7.5px,#ffad00 8.5px,#ff8e00 9.5px,#ff0300 12.5px,#a00 14.5px,#6e0000 16.5px,#400000 19.5px,#2f0000 23.5px,#430000 27.5px,#760000 30.5px,#b70000 32.5px,#e30000 33.5px,#ff1200 34.5px,#ff9b00 37.5px,#ffc100 39.5px,#ffed00 43.5px,#fff300 48.5px,#ffd400 52.5px,#ffa500 55.5px,#ff8000 56.5px,#ff2100 58.5px,#f30000 59.5px,#9e0000 61.5px,#680000 63.5px,#3d0000 66.5px,#2f0000 70.5px,#470000 74.5px,#7e0000 77.5px,#c50000 79.5px,#f20000 80.5px,#ff2000 81.5px,#ff7f00 83.5px,#ffa500 84.5px,#ffdf00 88.5px,#fff300 91.5px,#ffed00 96.5px,#ffc100 100.5px,#ff9b00 102.5px,#ff7100 103.5px)"></i>
<i style="top:51px;background:linear-gradient(90deg,#ff0800 0.5px,#fa0000 4.5px,#d50000 8.5px,#930000 11.5px,#3e0000 15.5px,#1a0000 19.5px,#150000 25.5px,#2a0000 29.5px,#500 32.5px,#cb0000 37.5px,#fc0000 42.5px,#ff0700 48.5px,#f70000 51.5px,#d10000 55.5px,#490000 61.5px,#240000 64.5px,#130000 69.5px,#1e0000 74.5px,#390000 77.5px,#740000 80.5px,#d10000 84.5px,#fe0000 89.5px,#ff0600 95.5px,#f50000 98.5px,#c00 102.5px,#b50000 103.5px)"></i>
<i style="top:52px;background:linear-gradient(90deg,#ffb300 0.5px,#ffa100 4.5px,#ff6e00 8.5px,#ff5300 9.5px,#f00 11.5px,#8d0000 14.5px,#5a0000 16.5px,#300 19.5px,#250000 23.5px,#360000 27.5px,#600000 30.5px,#980000 32.5px,#e50000 34.5px,#ff0d00 35.5px,#ff5e00 37.5px,#ff8e00 40.5px,#ffb000 44.5px,#ffad00 49.5px,#ff8600 53.5px,#ff6800 55.5px,#ff1c00 57.5px,#f20000 58.5px,#830000 61.5px,#540000 63.5px,#310000 66.5px,#250000 70.5px,#390000 74.5px,#670000 77.5px,#a30000 79.5px,#f10000 81.5px,#ff1b00 82.5px,#ff6700 84.5px,#ff9e00 88.5px,#ffb200 92.5px,#ffab00 96.5px,#ff8200 100.5px,#ff5e00 102.5px,#ff3900 103.5px)"></i>
<i style="top:53px;background:linear-gradient(90deg,#fff 0.5px,#fffff1 4.5px,#ffffd0 7.5px,#ffffc0 8.5px,#ff9 9.5px,#ffff52 10.5px,#fffe00 11.5px,#ff0f00 15.5px,#e20000 16.5px,#a40000 18.5px,#800000 20.5px,#6f0000 23.5px,#780000 25.5px,#950000 27.5px,#ca0000 29.5px,#ef0000 30.5px,#ff1f00 31.5px,#ffd900 34.5px,#ffff1a 35.5px,#ffff6c 36.5px,#ffa 37.5px,#ffffc6 38.5px,#ffffec 41.5px,#fff 46.5px,#fffff5 50.5px,#ffffcb 54.5px,#ffffb8 55.5px,#ffff85 56.5px,#ffff38 57.5px,#ffec00 58.5px,#f30 61.5px,#fe0000 62.5px,#b60000 64.5px,#890000 66.5px,#6f0000 69.5px,#7c0000 72.5px,#9c0000 74.5px,#d50000 76.5px,#fd0000 77.5px,#ff3100 78.5px,#ffea00 81.5px,#ffff36 82.5px,#ffff83 83.5px,#ffffb7 84.5px,#ffffe5 87.5px,#fffffd 91.5px,#fffff8 96.5px,#ffffe2 99.5px,#ffffc6 101.5px,#ffffab 102.5px,#ffff6e 103.5px)"></i>
<i style="top:54px;background:linear-gradient(90deg,#fd0 0.5px,#ffc500 2.5px,#ffcf00 4.5px,#ffff02 7.5px,#ffff1c 8.5px,#ffff63 10.5px,#ffff65 11.5px,#ffff4d 12.5px,#ffff19 13.5px,#ffe000 14.5px,#ff7f00 16.5px,#ff3500 18.5px,#ff0300 20.5px,#ea0000 22.5px,#ec0000 24.5px,#ff0900 26.5px,#ff3f00 28.5px,#ff8e00 30.5px,#fff000 32.5px,#ffff2d 33.5px,#ffff58 34.5px,#ffff68 35.5px,#ffff5b 36.5px,#ffff14 38.5px,#fffb00 39.5px,#ffcb00 42.5px,#ffc700 44.5px,#ffdf00 46.5px,#ffc400 49.5px,#ffd300 51.5px,#fff400 53.5px,#ffff0b 54.5px,#ffff27 55.5px,#ffff50 56.5px,#ffff67 57.5px,#ffff60 58.5px,#ffff3f 59.5px,#ffff03 60.5px,#ff7200 63.5px,#ff2b00 65.5px,#fc0000 67.5px,#e90000 69.5px,#ef0000 71.5px,#fc0000 72.5px,#ff2a00 74.5px,#ff7100 76.5px,#ffff01 79.5px,#ffff3e 80.5px,#ffff60 81.5px,#ffff67 82.5px,#ffff51 83.5px,#ffff28 84.5px,#ffff0b 85.5px,#fff500 86.5px,#ffc800 89.5px,#ffc400 90.5px,#ffdf00 93.5px,#ffc400 96.5px,#ffd800 98.5px,#fffa00 100.5px,#ffff13 101.5px,#ffff5b 103.5px)"></i>
<i style="top:55px;background:linear-gradient(90deg,#ff6b00 0.5px,#ff2b00 1.5px,#d60000 2.5px,#950000 3.5px,#7c0000 4.5px,#8c0000 6.5px,#b30000 8.5px,#de0000 9.5px,#ff2100 10.5px,#ff6000 11.5px,#ff8e00 12.5px,#fa0 13.5px,#ffb400 14.5px,#ffa100 16.5px,#ff5e00 20.5px,#ff4c00 22.5px,#ff5600 25.5px,#ffb100 31.5px,#ffb300 32.5px,#ffa300 33.5px,#ff8100 34.5px,#ff4d00 35.5px,#ff0b00 36.5px,#c00 37.5px,#ac0000 38.5px,#7d0000 41.5px,#800000 42.5px,#a70000 43.5px,#f00000 44.5px,#ff4500 45.5px,#ff7300 46.5px,#ff5c00 47.5px,#ff1000 48.5px,#be0000 49.5px,#800 50.5px,#7c0000 51.5px,#920000 53.5px,#bd0000 55.5px,#f20000 56.5px,#ff3700 57.5px,#ff7100 58.5px,#f90 59.5px,#ffaf00 60.5px,#ffb300 61.5px,#ff9c00 63.5px,#ff5a00 67.5px,#ff4b00 70.5px,#ff6800 73.5px,#fa0 77.5px,#ffb300 78.5px,#ffb000 79.5px,#ff9a00 80.5px,#ff7200 81.5px,#ff3900 82.5px,#f40000 83.5px,#be0000 84.5px,#920000 86.5px,#7c0000 88.5px,#800 89.5px,#bd0000 90.5px,#ff0d00 91.5px,#ff5a00 92.5px,#ff7300 93.5px,#ff4700 94.5px,#f30000 95.5px,#a80000 96.5px,#810000 97.5px,#7d0000 98.5px,#980000 100.5px,#ab0000 101.5px,#cb0000 102.5px,#ff0900 103.5px)"></i>
<i style="top:56px;background:linear-gradient(90deg,#ffff0d 0.5px,#ffe000 1.5px,#ff8100 2.5px,#e90000 3.5px,#600 4.5px,#2f0000 5.5px,#1c0000 6.5px,#1b0000 8.5px,#280000 9.5px,#470000 10.5px,#f90000 14.5px,#ff2e00 16.5px,#ff4300 18.5px,#ff4200 28.5px,#ff2900 30.5px,#ff1000 31.5px,#ec0000 32.5px,#3b0000 36.5px,#200 37.5px,#180000 39.5px,#1f0000 40.5px,#3b0000 41.5px,#800 42.5px,#ff2000 43.5px,#ffa700 44.5px,#fff200 45.5px,#ffff13 46.5px,#ffff01 47.5px,#ffc800 48.5px,#ff5600 49.5px,#b70000 50.5px,#4e0000 51.5px,#260000 52.5px,#1a0000 53.5px,#1d0000 55.5px,#300000 56.5px,#810000 58.5px,#d00 60.5px,#ff0500 61.5px,#ff3400 63.5px,#ff4600 66.5px,#ff4500 74.5px,#ff3400 76.5px,#ff0600 78.5px,#de0000 79.5px,#500 82.5px,#310000 83.5px,#1e0000 84.5px,#190000 86.5px,#250000 87.5px,#4c0000 88.5px,#b30000 89.5px,#ff5300 90.5px,#ffc600 91.5px,#ff0 92.5px,#ffff13 93.5px,#fff300 94.5px,#ffa900 95.5px,#ff2400 96.5px,#8b0000 97.5px,#3c0000 98.5px,#200000 99.5px,#190000 101.5px,#200 102.5px,#3a0000 103.5px)"></i>
<i style="top:57px;background:linear-gradient(90deg,#ffc800 0.5px,#ffb200 2.5px,#f80 3.5px,#ff1000 4.5px,#940000 5.5px,#450000 6.5px,#200000 7.5px,#0b0000 9.5px,#160000 11.5px,#3e0000 13.5px,#ac0000 17.5px,#d00000 19.5px,#e40000 22.5px,#df0000 25.5px,#ba0000 28.5px,#6f0000 31.5px,#350000 33.5px,#120000 35.5px,#0c0000 37.5px,#140000 38.5px,#290000 39.5px,#590000 40.5px,#b80000 41.5px,#ff3e00 42.5px,#f90 43.5px,#ffb900 44.5px,#ffc900 46.5px,#ffbe00 48.5px,#ffa800 49.5px,#ff6a00 50.5px,#e30000 51.5px,#750000 52.5px,#350000 53.5px,#1a0000 54.5px,#0b0000 56.5px,#1b0000 58.5px,#470000 60.5px,#b30000 64.5px,#d00 67.5px,#e30000 71.5px,#c60000 74.5px,#820000 77.5px,#2e0000 80.5px,#0f0000 82.5px,#0e0000 84.5px,#190000 85.5px,#340000 86.5px,#730000 87.5px,#e00000 88.5px,#ff6800 89.5px,#ffa700 90.5px,#ffbe00 91.5px,#ffc900 93.5px,#ffb900 95.5px,#ff9b00 96.5px,#ff4200 97.5px,#b00 98.5px,#5b0000 99.5px,#2a0000 100.5px,#150000 101.5px,#0b0000 103.5px)"></i>
<i style="top:58px;background:linear-gradient(90deg,#ff3c00 0.5px,#ff6200 2.5px,#ff6800 3.5px,#ff5200 4.5px,#ff2700 5.5px,#c10000 6.5px,#6d0000 7.5px,#3d0000 8.5px,#230000 9.5px,#0f0000 11.5px,#190000 14.5px,#6c0000 20.5px,#7a0000 23.5px,#690000 26.5px,#160000 32.5px,#100 35.5px,#2a0000 37.5px,#490000 38.5px,#840000 39.5px,#e30000 40.5px,#ff3d00 41.5px,#ff5b00 42.5px,#ff6900 43.5px,#ff4500 45.5px,#ff3b00 46.5px,#ff4000 47.5px,#ff6700 49.5px,#ff6400 50.5px,#ff4900 51.5px,#ff0900 52.5px,#a20000 53.5px,#5a0000 54.5px,#300 55.5px,#130000 57.5px,#130000 60.5px,#6f0000 67.5px,#790000 70.5px,#650000 73.5px,#140000 79.5px,#0e0000 81.5px,#1d0000 83.5px,#320000 84.5px,#590000 85.5px,#a00000 86.5px,#ff0600 87.5px,#ff4900 88.5px,#ff6300 89.5px,#ff6700 90.5px,#ff4000 92.5px,#ff3b00 93.5px,#ff4500 94.5px,#ff6900 96.5px,#ff5c00 97.5px,#ff3f00 98.5px,#e60000 99.5px,#860000 100.5px,#4a0000 101.5px,#2b0000 102.5px,#190000 103.5px)"></i>
<i style="top:59px;background:linear-gradient(90deg,#ab0000 0.5px,#c10000 1.5px,#e90000 2.5px,#ff1400 3.5px,#ff2b00 4.5px,#ff3400 5.5px,#ff2800 6.5px,#e40000 7.5px,#9c0000 8.5px,#670000 9.5px,#400 10.5px,#200 12.5px,#160000 15.5px,#360000 23.5px,#160000 31.5px,#260000 34.5px,#4e0000 36.5px,#760000 37.5px,#b10000 38.5px,#fe0000 39.5px,#ff3000 40.5px,#f30 41.5px,#ff2600 42.5px,#ff0700 43.5px,#b80000 45.5px,#a80000 46.5px,#b00000 47.5px,#cd0000 48.5px,#f70000 49.5px,#ff1e00 50.5px,#ff2f00 51.5px,#f30 52.5px,#ff1800 53.5px,#cb0000 54.5px,#890000 55.5px,#5a0000 56.5px,#3c0000 57.5px,#1f0000 59.5px,#170000 62.5px,#360000 69.5px,#2b0000 73.5px,#160000 78.5px,#2a0000 81.5px,#3c0000 82.5px,#590000 83.5px,#870000 84.5px,#c90000 85.5px,#ff1600 86.5px,#f30 87.5px,#ff2f00 88.5px,#ff1f00 89.5px,#f80000 90.5px,#ce0000 91.5px,#b00000 92.5px,#a80000 93.5px,#b70000 94.5px,#ff0600 96.5px,#ff2600 97.5px,#f30 98.5px,#ff3100 99.5px,#ff0100 100.5px,#b30000 101.5px,#700 102.5px,#4f0000 103.5px)"></i>
<i style="top:60px;background:linear-gradient(90deg,#480000 0.5px,#5a0000 1.5px,#7d0000 2.5px,#e20000 4.5px,#ff0a00 5.5px,#ff2000 6.5px,#ff2000 7.5px,#ff0100 8.5px,#900 10.5px,#740000 11.5px,#480000 13.5px,#2c0000 16.5px,#270000 28.5px,#3f0000 32.5px,#610000 34.5px,#7f0000 35.5px,#a80000 36.5px,#d00 37.5px,#ff0f00 38.5px,#f20 39.5px,#ff1b00 40.5px,#fd0000 41.5px,#d30000 42.5px,#700000 44.5px,#520000 45.5px,#460000 46.5px,#4c0000 47.5px,#630000 48.5px,#8b0000 49.5px,#ef0000 51.5px,#ff1300 52.5px,#f20 53.5px,#ff1b00 54.5px,#ef0000 55.5px,#8c0000 57.5px,#6a0000 58.5px,#430000 60.5px,#2b0000 63.5px,#2a0000 76.5px,#430000 79.5px,#6a0000 81.5px,#8b0000 82.5px,#e00 84.5px,#ff1a00 85.5px,#f20 86.5px,#ff1400 87.5px,#f00000 88.5px,#8d0000 90.5px,#640000 91.5px,#4c0000 92.5px,#460000 93.5px,#510000 94.5px,#6f0000 95.5px,#fc0000 98.5px,#ff1b00 99.5px,#f20 100.5px,#ff1000 101.5px,#de0000 102.5px,#a00 103.5px)"></i>
<i style="top:61px;background:linear-gradient(90deg,#180000 0.5px,#210000 1.5px,#360000 2.5px,#5d0000 3.5px,#c70000 5.5px,#f40000 6.5px,#ff0f00 7.5px,#ff1500 8.5px,#ff0e00 9.5px,#f00000 10.5px,#940000 13.5px,#640000 16.5px,#4b0000 20.5px,#4c0000 26.5px,#680000 30.5px,#9c0000 33.5px,#fb0000 36.5px,#ff1200 37.5px,#ff1500 38.5px,#ff0900 39.5px,#e70000 40.5px,#4e0000 43.5px,#2e0000 44.5px,#1d0000 45.5px,#1a0000 47.5px,#260000 48.5px,#400000 49.5px,#d70000 52.5px,#fe0000 53.5px,#ff1300 54.5px,#ff1400 55.5px,#ff0600 56.5px,#8d0000 60.5px,#610000 63.5px,#4b0000 67.5px,#4d0000 73.5px,#6c0000 77.5px,#a40000 80.5px,#ff0500 83.5px,#ff1400 84.5px,#ff1300 85.5px,#f00 86.5px,#d80000 87.5px,#410000 90.5px,#270000 91.5px,#170000 93.5px,#1c0000 94.5px,#2d0000 95.5px,#4d0000 96.5px,#e60000 99.5px,#ff0800 100.5px,#ff1500 101.5px,#ff1200 102.5px,#fc0000 103.5px)"></i>
<i style="top:62px;background:linear-gradient(90deg,#060000 0.5px,#130000 2.5px,#290000 3.5px,#820000 5.5px,#e20000 7.5px,#fc0000 8.5px,#ff0900 10.5px,#ff0400 11.5px,#a60000 17.5px,#8c0000 21.5px,#910000 26.5px,#b60000 30.5px,#fa0000 34.5px,#ff0600 37.5px,#f60000 38.5px,#d60000 39.5px,#420000 42.5px,#200000 43.5px,#080000 45.5px,#0c0000 48.5px,#180000 49.5px,#340000 50.5px,#c60000 53.5px,#ed0000 54.5px,#ff0200 55.5px,#ff0800 57.5px,#f00 58.5px,#ae0000 63.5px,#8e0000 67.5px,#8e0000 72.5px,#ad0000 76.5px,#fe0000 81.5px,#ff0900 83.5px,#ff0200 84.5px,#e00 85.5px,#c80000 86.5px,#350000 89.5px,#190000 90.5px,#070000 92.5px,#0f0000 95.5px,#1f0000 96.5px,#410000 97.5px,#d50000 100.5px,#f50000 101.5px,#ff0900 103.5px)"></i>
<i style="top:63px;background:linear-gradient(90deg,#010000 0.5px,#050000 2.5px,#0f0000 3.5px,#260000 4.5px,#4a0000 5.5px,#a90000 7.5px,#d00000 8.5px,#e90000 9.5px,#fd0000 11.5px,#f80000 15.5px,#d30000 21.5px,#d80000 26.5px,#fe0000 32.5px,#fc0000 35.5px,#e20000 37.5px,#c50000 38.5px,#3d0000 41.5px,#1d0000 42.5px,#0b0000 43.5px,#010000 47.5px,#070000 49.5px,#150000 50.5px,#300000 51.5px,#b70000 54.5px,#d90000 55.5px,#fa0000 57.5px,#fc0000 61.5px,#d20000 68.5px,#d90000 73.5px,#f00 79.5px,#fa0000 82.5px,#da0000 84.5px,#b80000 85.5px,#310000 88.5px,#160000 89.5px,#030000 91.5px,#040000 95.5px,#0a0000 96.5px,#1d0000 97.5px,#3c0000 98.5px,#c40000 101.5px,#e10000 102.5px,#f30000 103.5px)"></i>
<i style="top:64px;background:linear-gradient(90deg,#000 0.5px,#050000 3.5px,#0f0000 4.5px,#250000 5.5px,#b00 9.5px,#e40000 11.5px,#f80000 14.5px,#f90000 28.5px,#f30000 33.5px,#e00000 35.5px,#b10000 37.5px,#3a0000 40.5px,#1c0000 41.5px,#030000 43.5px,#020000 49.5px,#150000 51.5px,#2e0000 52.5px,#a60000 55.5px,#da0000 57.5px,#f60000 60.5px,#f60000 79.5px,#db0000 82.5px,#a70000 84.5px,#2f0000 87.5px,#070000 89.5px,#010000 95.5px,#0b0000 97.5px,#1c0000 98.5px,#390000 99.5px,#b10000 102.5px,#cd0000 103.5px)"></i>
<i style="top:65px;background:linear-gradient(90deg,#000 0.5px,#050000 4.5px,#240000 6.5px,#a70000 10.5px,#ce0000 12.5px,#ec0000 16.5px,#eb0000 30.5px,#d60000 33.5px,#b70000 35.5px,#7f0000 37.5px,#380000 39.5px,#0c0000 41.5px,#000 44.5px,#020000 50.5px,#150000 52.5px,#4f0000 54.5px,#af0000 57.5px,#d20000 59.5px,#ec0000 63.5px,#ea0000 77.5px,#d30000 80.5px,#b00000 82.5px,#500000 85.5px,#160000 87.5px,#020000 89.5px,#030000 97.5px,#1c0000 99.5px,#9e0000 103.5px)"></i>
<i style="top:66px;background:linear-gradient(90deg,#000 0.5px,#060000 5.5px,#240000 7.5px,#920000 11.5px,#c00000 14.5px,#d70000 18.5px,#d60000 28.5px,#bd0000 32.5px,#8a0000 35.5px,#1d0000 39.5px,#040000 41.5px,#030000 51.5px,#160000 53.5px,#900 58.5px,#c40000 61.5px,#d90000 66.5px,#d50000 75.5px,#b90000 79.5px,#820000 82.5px,#160000 86.5px,#030000 88.5px,#040000 98.5px,#1c0000 100.5px,#6f0000 103.5px)"></i>
<i style="top:67px;background:linear-gradient(90deg,#000 0.5px,#070000 6.5px,#200 8.5px,#7b0000 12.5px,#a30000 15.5px,#ba0000 20.5px,#b40000 28.5px,#950000 32.5px,#600000 35.5px,#1c0000 38.5px,#050000 40.5px,#030000 52.5px,#160000 54.5px,#800000 59.5px,#a60000 62.5px,#b00 67.5px,#b30000 75.5px,#900000 79.5px,#590000 82.5px,#160000 85.5px,#030000 87.5px,#040000 99.5px,#1b0000 101.5px,#480000 103.5px)"></i>
<i style="top:68px;background:linear-gradient(90deg,#000 0.5px,#070000 7.5px,#310000 10.5px,#710000 14.5px,#900000 18.5px,#970000 25.5px,#820000 30.5px,#4f0000 34.5px,#0d0000 38.5px,#000 42.5px,#040000 53.5px,#240000 56.5px,#680000 60.5px,#8d0000 64.5px,#980000 71.5px,#870000 76.5px,#5a0000 80.5px,#0a0000 85.5px,#000 90.5px,#050000 100.5px,#2a0000 103.5px)"></i>
<i style="top:69px;background:linear-gradient(90deg,#000 0.5px,#070000 8.5px,#600000 16.5px,#730000 22.5px,#690000 28.5px,#4b0000 32.5px,#0c0000 37.5px,#000 41.5px,#040000 54.5px,#200000 57.5px,#5b0000 62.5px,#730000 68.5px,#680000 75.5px,#3b0000 80.5px,#0a0000 84.5px,#000 89.5px,#050000 101.5px,#170000 103.5px)"></i>
<i style="top:70px;background:linear-gradient(90deg,#000 0.5px,#070000 9.5px,#460000 17.5px,#520000 24.5px,#3f0000 30.5px,#050000 37.5px,#040000 55.5px,#480000 64.5px,#520000 71.5px,#3d0000 77.5px,#040000 84.5px,#050000 102.5px,#0b0000 103.5px)"></i>
<i style="top:71px;background:linear-gradient(90deg,#000 0.5px,#070000 10.5px,#300 19.5px,#320000 27.5px,#010000 38.5px,#040000 56.5px,#320000 65.5px,#320000 74.5px,#020000 84.5px,#050000 103.5px)"></i>
<i style="top:72px;background:linear-gradient(90deg,#000 0.5px,#060000 11.5px,#200 21.5px,#1a0000 29.5px,#000 38.5px,#040000 57.5px,#200 67.5px,#1a0000 76.5px,#000 85.5px,#020000 103.5px)"></i>
<i style="top:73px;background:linear-gradient(90deg,#000 0.5px,#060000 13.5px,#140000 24.5px,#000 40.5px,#050000 59.5px,#150000 70.5px,#000 87.5px,#010000 103.5px)"></i>
<i style="top:74px;background:linear-gradient(90deg,#000 0.5px,#090000 18.5px,#040000 32.5px,#050000 61.5px,#090000 75.5px,#000 92.5px,#000 103.5px)"></i>
<i style="top:75px;background:linear-gradient(90deg,#000 0.5px,#020000 32.5px,#010000 80.5px,#000 103.5px)"></i>
</div>
<div class="p q" style="left:271px;top:30px">
<i style="top:24px;background:linear-gradient(90deg,#000 0.5px,#030000 29.5px,#050000 65.5px,#000 103.5px)"></i>
<i style="top:25px;background:linear-gradient(90deg,#000 0.5px,#060000 16.5px,#0d0000 26.5px,#000 39.5px,#050000 62.5px,#0d0000 72.5px,#000 86.5px,#000 103.5px)"></i>
<i style="top:26px;background:linear-gradient(90deg,#000 0.5px,#070000 14.5px,#1b0000 24.5px,#000 37.5px,#050000 60.5px,#1b0000 70.5px,#000 84.5px,#000 103.5px)"></i>
<i style="top:27px;background:linear-gradient(90deg,#000 0.5px,#060000 12.5px,#2c0000 21.5px,#260000 27.5px,#020000 35.5px,#040000 58.5px,#2d0000 68.5px,#240000 74.5px,#020000 82.5px,#010000 103.5px)"></i>
<i style="top:28px;background:linear-gradient(90deg,#000 0.5px,#030000 10.5px,#400 20.5px,#460000 25.5px,#020000 36.5px,#040000 57.5px,#450000 67.5px,#450000 72.5px,#040000 82.5px,#020000 103.5px)"></i>
<i style="top:29px;background:linear-gradient(90deg,#000 0.5px,#030000 9.5px,#230000 13.5px,#5f0000 19.5px,#690000 24.5px,#560000 28.5px,#060000 36.5px,#000 54.5px,#120000 58.5px,#5b0000 65.5px,#6a0000 70.5px,#5b0000 74.5px,#0a0000 82.5px,#000 87.5px,#060000 103.5px)"></i>
<i style="top:30px;background:linear-gradient(90deg,#000 0.5px,#030000 8.5px,#1d0000 11.5px,#740000 17.5px,#8d0000 21.5px,#800 26.5px,#640000 30.5px,#0d0000 36.5px,#000 40.5px,#040000 55.5px,#200 58.5px,#6c0000 63.5px,#8b0000 67.5px,#8b0000 72.5px,#6d0000 76.5px,#0a0000 83.5px,#000 88.5px,#050000 102.5px,#0d0000 103.5px)"></i>
<i style="top:31px;background:linear-gradient(90deg,#000 0.5px,#020000 7.5px,#200000 10.5px,#820000 15.5px,#a00 19.5px,#b30000 24.5px,#a10000 28.5px,#6b0000 32.5px,#1b0000 36.5px,#050000 38.5px,#030000 54.5px,#150000 56.5px,#870000 62.5px,#ac0000 66.5px,#b20000 71.5px,#9e0000 75.5px,#700 78.5px,#160000 83.5px,#030000 85.5px,#050000 101.5px,#1a0000 103.5px)"></i>
<i style="top:32px;background:linear-gradient(90deg,#000 0.5px,#050000 7.5px,#200 9.5px,#9a0000 14.5px,#bf0000 17.5px,#d00000 22.5px,#c40000 28.5px,#a50000 31.5px,#670000 34.5px,#1b0000 37.5px,#030000 39.5px,#020000 53.5px,#150000 55.5px,#8e0000 60.5px,#ba0000 63.5px,#cf0000 68.5px,#c70000 74.5px,#af0000 77.5px,#780000 80.5px,#150000 84.5px,#020000 86.5px,#030000 100.5px,#1b0000 102.5px,#310000 103.5px)"></i>
<i style="top:33px;background:linear-gradient(90deg,#000 0.5px,#030000 6.5px,#210000 8.5px,#9b0000 12.5px,#c20000 14.5px,#da0000 17.5px,#dc0000 28.5px,#ca0000 31.5px,#a00 33.5px,#540000 36.5px,#1a0000 38.5px,#020000 40.5px,#010000 52.5px,#130000 54.5px,#480000 56.5px,#a30000 59.5px,#d00000 62.5px,#df0000 67.5px,#d70000 76.5px,#b70000 79.5px,#890000 81.5px,#2a0000 84.5px,#060000 86.5px,#000 98.5px,#090000 100.5px,#300 102.5px,#530000 103.5px)"></i>
<i style="top:34px;background:linear-gradient(90deg,#000 0.5px,#020000 5.5px,#090000 6.5px,#1e0000 7.5px,#ac0000 11.5px,#d50000 13.5px,#e60000 16.5px,#d90000 24.5px,#e50000 30.5px,#d00000 33.5px,#a20000 35.5px,#320000 38.5px,#150000 39.5px,#010000 41.5px,#030000 52.5px,#0e0000 53.5px,#4a0000 55.5px,#970000 57.5px,#cb0000 59.5px,#e10000 61.5px,#e30000 65.5px,#d90000 71.5px,#e50000 77.5px,#d90000 79.5px,#b60000 81.5px,#720000 83.5px,#280000 85.5px,#0f0000 86.5px,#000 88.5px,#060000 99.5px,#150000 100.5px,#570000 102.5px,#7e0000 103.5px)"></i>
<i style="top:35px;background:linear-gradient(90deg,#000 0.5px,#060000 5.5px,#170000 6.5px,#670000 8.5px,#ba0000 10.5px,#d50000 11.5px,#eb0000 13.5px,#e80000 15.5px,#b30000 20.5px,#ab0000 24.5px,#ca0000 28.5px,#ea0000 31.5px,#ea0000 33.5px,#ce0000 35.5px,#860000 37.5px,#2c0000 39.5px,#0f0000 40.5px,#000 42.5px,#020000 51.5px,#090000 52.5px,#200000 53.5px,#a20000 56.5px,#c40000 57.5px,#db0000 58.5px,#ec0000 60.5px,#da0000 63.5px,#b10000 67.5px,#a90000 70.5px,#c20000 74.5px,#eb0000 78.5px,#e70000 80.5px,#dc0000 81.5px,#c50000 82.5px,#700 84.5px,#210000 86.5px,#0a0000 87.5px,#000 90.5px,#030000 98.5px,#0f0000 99.5px,#2b0000 100.5px,#ae0000 103.5px)"></i>
<i style="top:36px;background:linear-gradient(90deg,#000 0.5px,#030000 4.5px,#100000 5.5px,#300000 6.5px,#900 8.5px,#c50000 9.5px,#e20000 10.5px,#f00000 11.5px,#eb0000 13.5px,#8a0000 18.5px,#6e0000 22.5px,#790000 26.5px,#9f0000 29.5px,#ef0000 33.5px,#ed0000 35.5px,#da0000 36.5px,#b80000 37.5px,#230000 40.5px,#0a0000 41.5px,#000 44.5px,#060000 51.5px,#180000 52.5px,#3f0000 53.5px,#a90000 55.5px,#d00000 56.5px,#e80000 57.5px,#f20000 58.5px,#e60000 60.5px,#940000 64.5px,#750000 67.5px,#700000 71.5px,#860000 74.5px,#ba0000 77.5px,#e50000 79.5px,#f10000 80.5px,#f20000 81.5px,#e80000 82.5px,#d10000 83.5px,#a00 84.5px,#400000 86.5px,#180000 87.5px,#060000 88.5px,#000 96.5px,#0a0000 98.5px,#200 99.5px,#b70000 102.5px,#da0000 103.5px)"></i>
<i style="top:37px;background:linear-gradient(90deg,#000 0.5px,#020000 3.5px,#0b0000 4.5px,#250000 5.5px,#590000 6.5px,#900 7.5px,#cd0000 8.5px,#ec0000 9.5px,#f80000 10.5px,#f50000 11.5px,#bc0000 13.5px,#810000 15.5px,#5e0000 17.5px,#480000 21.5px,#500000 27.5px,#620000 29.5px,#890000 31.5px,#e60000 34.5px,#f80000 35.5px,#f60000 36.5px,#e40000 37.5px,#bf0000 38.5px,#460000 40.5px,#1a0000 41.5px,#060000 42.5px,#000 49.5px,#030000 50.5px,#100 51.5px,#300 52.5px,#ac0000 54.5px,#d90000 55.5px,#f20000 56.5px,#f90000 57.5px,#ef0000 58.5px,#920000 61.5px,#670000 63.5px,#4d0000 66.5px,#4a0000 72.5px,#5a0000 75.5px,#790000 77.5px,#e00 81.5px,#f90000 82.5px,#f20000 83.5px,#da0000 84.5px,#ae0000 85.5px,#350000 87.5px,#100 88.5px,#030000 89.5px,#010000 96.5px,#060000 97.5px,#190000 98.5px,#400 99.5px,#bd0000 101.5px,#e40000 102.5px,#f60000 103.5px)"></i>
<i style="top:38px;background:linear-gradient(90deg,#000 0.5px,#060000 3.5px,#1c0000 4.5px,#4c0000 5.5px,#d10000 7.5px,#f60000 8.5px,#ff0100 9.5px,#f10000 10.5px,#750000 13.5px,#4b0000 15.5px,#410000 18.5px,#480000 25.5px,#410000 29.5px,#4f0000 31.5px,#620000 32.5px,#a80000 34.5px,#fa0000 36.5px,#f00 37.5px,#ed0000 38.5px,#bf0000 39.5px,#390000 41.5px,#130000 42.5px,#030000 43.5px,#020000 49.5px,#0b0000 50.5px,#290000 51.5px,#610000 52.5px,#a80000 53.5px,#e10000 54.5px,#fb0000 55.5px,#f00 56.5px,#e50000 57.5px,#8d0000 59.5px,#6b0000 60.5px,#480000 62.5px,#420000 65.5px,#490000 71.5px,#420000 76.5px,#540000 78.5px,#8c0000 80.5px,#e40000 82.5px,#fe0000 83.5px,#fc0000 84.5px,#e20000 85.5px,#a00 86.5px,#620000 87.5px,#2a0000 88.5px,#0b0000 89.5px,#000 91.5px,#030000 96.5px,#120000 97.5px,#380000 98.5px,#bd0000 100.5px,#ec0000 101.5px,#f00 102.5px,#fa0000 103.5px)"></i>
<i style="top:39px;background:linear-gradient(90deg,#000 0.5px,#040000 2.5px,#140000 3.5px,#410000 4.5px,#cf0000 6.5px,#fe0000 7.5px,#ff0800 8.5px,#ea0000 9.5px,#7a0000 11.5px,#540000 12.5px,#3e0000 13.5px,#370000 14.5px,#510000 17.5px,#700 21.5px,#750000 25.5px,#390000 31.5px,#380000 32.5px,#400 33.5px,#5f0000 34.5px,#8a0000 35.5px,#f90000 37.5px,#ff0900 38.5px,#f30000 39.5px,#b90000 40.5px,#6d0000 41.5px,#2f0000 42.5px,#0c0000 43.5px,#000 45.5px,#070000 49.5px,#1f0000 50.5px,#500 51.5px,#e30000 53.5px,#ff0600 54.5px,#ff0500 55.5px,#d80000 56.5px,#6c0000 58.5px,#4b0000 59.5px,#3b0000 60.5px,#3e0000 62.5px,#730000 67.5px,#7b0000 70.5px,#610000 74.5px,#380000 78.5px,#3a0000 79.5px,#4b0000 80.5px,#6b0000 81.5px,#9b0000 82.5px,#d70000 83.5px,#ff0500 84.5px,#ff0600 85.5px,#e40000 86.5px,#560000 88.5px,#200000 89.5px,#070000 90.5px,#000 94.5px,#0c0000 96.5px,#2e0000 97.5px,#6b0000 98.5px,#b70000 99.5px,#f20000 100.5px,#ff0900 101.5px,#fa0000 102.5px,#c50000 103.5px)"></i>
<i style="top:40px;background:linear-gradient(90deg,#020000 0.5px,#0f0000 2.5px,#350000 3.5px,#cb0000 5.5px,#ff0600 6.5px,#ff1300 7.5px,#e50000 8.5px,#9a0000 9.5px,#5f0000 10.5px,#3b0000 11.5px,#2c0000 12.5px,#300000 13.5px,#a10000 18.5px,#c20000 21.5px,#c50000 24.5px,#ac0000 27.5px,#6f0000 30.5px,#3b0000 32.5px,#2d0000 33.5px,#2f0000 34.5px,#400 35.5px,#6f0000 36.5px,#fb0000 38.5px,#ff1300 39.5px,#f60000 40.5px,#b20000 41.5px,#630000 42.5px,#240000 43.5px,#0a0000 44.5px,#020000 47.5px,#060000 48.5px,#170000 49.5px,#4a0000 50.5px,#e20000 52.5px,#ff0f00 53.5px,#ff0d00 54.5px,#cd0000 55.5px,#840000 56.5px,#510000 57.5px,#340000 58.5px,#2c0000 59.5px,#350000 60.5px,#950000 64.5px,#be0000 67.5px,#c70000 70.5px,#b40000 73.5px,#800000 76.5px,#350000 79.5px,#2c0000 80.5px,#340000 81.5px,#500000 82.5px,#830000 83.5px,#cb0000 84.5px,#ff0c00 85.5px,#ff0f00 86.5px,#e30000 87.5px,#4b0000 89.5px,#180000 90.5px,#070000 91.5px,#030000 94.5px,#0a0000 95.5px,#230000 96.5px,#610000 97.5px,#f50000 99.5px,#ff1300 100.5px,#fc0000 101.5px,#710000 103.5px)"></i>
<i style="top:41px;background:linear-gradient(90deg,#090000 0.5px,#130000 1.5px,#2f0000 2.5px,#740000 3.5px,#cb0000 4.5px,#ff0c00 5.5px,#ff2000 6.5px,#e80000 7.5px,#800 8.5px,#480000 9.5px,#280000 10.5px,#200 11.5px,#320000 12.5px,#7f0000 14.5px,#c70000 16.5px,#ed0000 18.5px,#ff0300 21.5px,#fc0000 26.5px,#d80000 29.5px,#9b0000 31.5px,#470000 33.5px,#2a0000 34.5px,#210000 35.5px,#300000 36.5px,#590000 37.5px,#a50000 38.5px,#ff0600 39.5px,#ff2000 40.5px,#fa0000 41.5px,#b00000 42.5px,#590000 43.5px,#230000 44.5px,#0e0000 45.5px,#0b0000 47.5px,#190000 48.5px,#410000 49.5px,#e30000 51.5px,#ff1900 52.5px,#ff1b00 53.5px,#c70000 54.5px,#700000 55.5px,#3b0000 56.5px,#230000 57.5px,#250000 58.5px,#3b0000 59.5px,#b30000 62.5px,#e40000 64.5px,#f00 67.5px,#fa0000 73.5px,#e40000 75.5px,#b40000 77.5px,#3c0000 80.5px,#250000 81.5px,#230000 82.5px,#3a0000 83.5px,#6e0000 84.5px,#c40000 85.5px,#ff1a00 86.5px,#ff1900 87.5px,#e50000 88.5px,#420000 90.5px,#1a0000 91.5px,#0b0000 92.5px,#0e0000 94.5px,#200 95.5px,#570000 96.5px,#ae0000 97.5px,#f90000 98.5px,#ff1f00 99.5px,#ff0800 100.5px,#a70000 101.5px,#5b0000 102.5px,#300000 103.5px)"></i>
<i style="top:42px;background:linear-gradient(90deg,#270000 0.5px,#3f0000 1.5px,#760000 2.5px,#d00000 3.5px,#ff1900 4.5px,#ff3100 5.5px,#f80000 6.5px,#7f0000 7.5px,#380000 8.5px,#1a0000 9.5px,#1b0000 10.5px,#390000 11.5px,#d70000 14.5px,#f80000 15.5px,#ff1200 17.5px,#ff1000 26.5px,#ff1000 29.5px,#ff0600 30.5px,#ef0000 31.5px,#c90000 32.5px,#5a0000 34.5px,#2c0000 35.5px,#170000 36.5px,#210000 37.5px,#490000 38.5px,#a30000 39.5px,#ff1c00 40.5px,#ff2f00 41.5px,#ff0700 42.5px,#600000 44.5px,#340000 45.5px,#240000 46.5px,#2c0000 47.5px,#4d0000 48.5px,#900000 49.5px,#ec0000 50.5px,#ff2700 51.5px,#ff2e00 52.5px,#cf0000 53.5px,#610000 54.5px,#2b0000 55.5px,#170000 56.5px,#210000 57.5px,#480000 58.5px,#b70000 60.5px,#e40000 61.5px,#f00 62.5px,#ff1300 64.5px,#ff0f00 72.5px,#ff0e00 76.5px,#ff0100 77.5px,#e50000 78.5px,#b80000 79.5px,#4a0000 81.5px,#200 82.5px,#170000 83.5px,#2a0000 84.5px,#5f0000 85.5px,#c00 86.5px,#ff2e00 87.5px,#ff2700 88.5px,#e00 89.5px,#930000 90.5px,#4e0000 91.5px,#2c0000 92.5px,#240000 93.5px,#300 94.5px,#5e0000 95.5px,#ff0500 97.5px,#ff2f00 98.5px,#ff1e00 99.5px,#a60000 100.5px,#4a0000 101.5px,#210000 102.5px,#170000 103.5px)"></i>
<i style="top:43px;background:linear-gradient(90deg,#750000 0.5px,#9e0000 1.5px,#e50000 2.5px,#f30 3.5px,#ff4900 4.5px,#ff1200 5.5px,#800000 6.5px,#2d0000 7.5px,#120000 8.5px,#150000 9.5px,#3f0000 10.5px,#cd0000 12.5px,#ff0200 13.5px,#ff1a00 14.5px,#ff1c00 15.5px,#f90000 18.5px,#d00 22.5px,#e80000 26.5px,#fd0000 28.5px,#ff1d00 31.5px,#ff1500 32.5px,#f30000 33.5px,#b80000 34.5px,#2d0000 36.5px,#100000 37.5px,#170000 38.5px,#3f0000 39.5px,#ac0000 40.5px,#ff3600 41.5px,#ff4900 42.5px,#ff1e00 43.5px,#c00 44.5px,#8d0000 45.5px,#710000 46.5px,#7e0000 47.5px,#b30000 48.5px,#ff0200 49.5px,#ff4100 50.5px,#ff4500 51.5px,#e20000 52.5px,#5c0000 53.5px,#200000 54.5px,#100000 55.5px,#1e0000 56.5px,#500 57.5px,#e10000 59.5px,#ff0c00 60.5px,#ff1c00 61.5px,#ff0f00 63.5px,#ff0200 64.5px,#df0000 68.5px,#df0000 71.5px,#ff0200 75.5px,#ff1a00 77.5px,#ff1c00 78.5px,#ff0d00 79.5px,#e20000 80.5px,#a20000 81.5px,#570000 82.5px,#1f0000 83.5px,#0f0000 84.5px,#1f0000 85.5px,#5a0000 86.5px,#de0000 87.5px,#f40 88.5px,#ff4200 89.5px,#ff0400 90.5px,#b50000 91.5px,#7f0000 92.5px,#710000 93.5px,#8c0000 94.5px,#ca0000 95.5px,#ff1c00 96.5px,#ff4900 97.5px,#ff3800 98.5px,#b00000 99.5px,#410000 100.5px,#170000 101.5px,#100000 102.5px,#2b0000 103.5px)"></i>
<i style="top:44px;background:linear-gradient(90deg,#ff0800 0.5px,#ff6200 2.5px,#ff7300 3.5px,#ff2900 4.5px,#850000 5.5px,#270000 6.5px,#0e0000 7.5px,#150000 8.5px,#400 9.5px,#f80000 11.5px,#ff2500 12.5px,#ff2b00 13.5px,#f90000 15.5px,#b50000 18.5px,#960000 21.5px,#980000 25.5px,#ba0000 28.5px,#ff0400 31.5px,#ff2000 32.5px,#ff2d00 33.5px,#ff1b00 34.5px,#e00000 35.5px,#800000 36.5px,#2f0000 37.5px,#100000 38.5px,#100 39.5px,#3b0000 40.5px,#b70000 41.5px,#ff5400 42.5px,#ff7400 43.5px,#ff5300 44.5px,#ff2000 45.5px,#ff0300 46.5px,#ff1200 47.5px,#ff6e00 49.5px,#ff6a00 50.5px,#f30000 51.5px,#5c0000 52.5px,#1a0000 53.5px,#0d0000 54.5px,#1f0000 55.5px,#5f0000 56.5px,#c10000 57.5px,#ff0c00 58.5px,#ff2b00 59.5px,#ff2700 60.5px,#ff0e00 61.5px,#f00000 62.5px,#c00000 64.5px,#9a0000 67.5px,#920000 70.5px,#a30000 73.5px,#d50000 76.5px,#ef0000 77.5px,#ff0e00 78.5px,#ff2600 79.5px,#ff2b00 80.5px,#ff0d00 81.5px,#c30000 82.5px,#610000 83.5px,#1f0000 84.5px,#0d0000 85.5px,#190000 86.5px,#590000 87.5px,#ef0000 88.5px,#ff6900 89.5px,#ff6f00 90.5px,#ff1300 92.5px,#ff0300 93.5px,#ff1f00 94.5px,#ff5100 95.5px,#ff7400 96.5px,#ff5700 97.5px,#bc0000 98.5px,#3d0000 99.5px,#120000 100.5px,#100000 101.5px,#2d0000 102.5px,#7e0000 103.5px)"></i>
<i style="top:45px;background:linear-gradient(90deg,#ffb500 0.5px,#ffba00 1.5px,#ffad00 2.5px,#ff4b00 3.5px,#820000 4.5px,#230000 5.5px,#0e0000 6.5px,#210000 7.5px,#560000 8.5px,#bd0000 9.5px,#ff2500 10.5px,#ff4500 11.5px,#ff3100 12.5px,#ff0500 13.5px,#ab0000 15.5px,#780000 17.5px,#560000 20.5px,#4f0000 24.5px,#610000 27.5px,#7e0000 29.5px,#b70000 31.5px,#e30000 32.5px,#ff1500 33.5px,#ff3b00 34.5px,#ff4300 35.5px,#ff0900 36.5px,#970000 37.5px,#410000 38.5px,#170000 39.5px,#100000 40.5px,#370000 41.5px,#b00 42.5px,#ff8100 43.5px,#ffb500 44.5px,#ffb900 48.5px,#ff9f00 49.5px,#ff0600 50.5px,#580000 51.5px,#170000 52.5px,#100000 53.5px,#2f0000 54.5px,#720000 55.5px,#e30000 56.5px,#ff3800 57.5px,#ff4200 58.5px,#ff2400 59.5px,#f40000 60.5px,#a10000 62.5px,#720000 64.5px,#540000 67.5px,#500000 71.5px,#640000 74.5px,#850000 76.5px,#c50000 78.5px,#f30000 79.5px,#ff2300 80.5px,#ff4200 81.5px,#ff3900 82.5px,#e60000 83.5px,#740000 84.5px,#300000 85.5px,#100 86.5px,#160000 87.5px,#500 88.5px,#f00 89.5px,#ff9e00 90.5px,#ffb900 91.5px,#ffb500 95.5px,#ff8500 96.5px,#c00000 97.5px,#390000 98.5px,#100000 99.5px,#160000 100.5px,#400000 101.5px,#940000 102.5px,#ff0700 103.5px)"></i>
<i style="top:46px;background:linear-gradient(90deg,#ffff29 0.5px,#ffe700 1.5px,#f50 2.5px,#850000 3.5px,#280000 4.5px,#1d0000 5.5px,#3e0000 6.5px,#900000 7.5px,#f60000 8.5px,#ff5b00 9.5px,#ff6d00 10.5px,#ff2f00 11.5px,#e90000 12.5px,#ab0000 13.5px,#7c0000 14.5px,#5c0000 15.5px,#390000 17.5px,#230000 21.5px,#270000 26.5px,#3d0000 29.5px,#650000 31.5px,#8a0000 32.5px,#be0000 33.5px,#f00 34.5px,#ff4700 35.5px,#ff7300 36.5px,#ff3f00 37.5px,#d40000 38.5px,#710000 39.5px,#2e0000 40.5px,#1c0000 41.5px,#380000 42.5px,#c20000 43.5px,#ff9100 44.5px,#ff0 45.5px,#ff3 46.5px,#ffff18 47.5px,#ffc400 48.5px,#ff0f00 49.5px,#580000 50.5px,#1f0000 51.5px,#200 52.5px,#540000 53.5px,#b00000 54.5px,#ff1a00 55.5px,#ff6d00 56.5px,#ff5e00 57.5px,#ff1700 58.5px,#d30000 59.5px,#9a0000 60.5px,#700000 61.5px,#420000 63.5px,#280000 66.5px,#250000 72.5px,#360000 75.5px,#540000 77.5px,#6f0000 78.5px,#900 79.5px,#d20000 80.5px,#ff1600 81.5px,#ff5c00 82.5px,#ff6e00 83.5px,#ff1d00 84.5px,#b30000 85.5px,#560000 86.5px,#230000 87.5px,#1f0000 88.5px,#500 89.5px,#ff0900 90.5px,#ffc100 91.5px,#ffff17 92.5px,#ff3 93.5px,#ffff01 94.5px,#ff9500 95.5px,#c70000 96.5px,#3a0000 97.5px,#1c0000 98.5px,#2d0000 99.5px,#6e0000 100.5px,#d20000 101.5px,#ff3d00 102.5px,#ff7300 103.5px)"></i>
<i style="top:47px;background:linear-gradient(90deg,#f90 0.5px,#ff2300 1.5px,#a60000 2.5px,#6e0000 3.5px,#7a0000 4.5px,#a10000 5.5px,#f00 6.5px,#ff6f00 7.5px,#ffab00 8.5px,#ff9e00 9.5px,#ff3500 10.5px,#c80000 11.5px,#830000 12.5px,#500 13.5px,#380000 14.5px,#1c0000 16.5px,#0c0000 22.5px,#180000 29.5px,#2b0000 31.5px,#400000 32.5px,#620000 33.5px,#960000 34.5px,#e70000 35.5px,#ff5c00 36.5px,#ffae00 37.5px,#ff9e00 38.5px,#ff4f00 39.5px,#db0000 40.5px,#910000 41.5px,#730000 42.5px,#700 43.5px,#c90000 44.5px,#ff5000 45.5px,#fa0 46.5px,#ff7b00 47.5px,#f50000 48.5px,#8a0000 49.5px,#6e0000 50.5px,#850000 51.5px,#b90000 52.5px,#ff2700 53.5px,#ff8a00 54.5px,#ffb200 55.5px,#ff8300 56.5px,#ff0e00 57.5px,#ae0000 58.5px,#720000 59.5px,#4a0000 60.5px,#310000 61.5px,#140000 64.5px,#0d0000 72.5px,#1a0000 76.5px,#310000 78.5px,#490000 79.5px,#700000 80.5px,#ac0000 81.5px,#ff0b00 82.5px,#ff8000 83.5px,#ffb200 84.5px,#ff8b00 85.5px,#ff2a00 86.5px,#bc0000 87.5px,#850000 88.5px,#6e0000 89.5px,#800 90.5px,#f20000 91.5px,#ff7800 92.5px,#fa0 93.5px,#ff5300 94.5px,#c00 95.5px,#780000 96.5px,#720000 97.5px,#900000 98.5px,#d80000 99.5px,#ff4c00 100.5px,#ff9d00 101.5px,#ffaf00 102.5px,#ff5f00 103.5px)"></i>
<i style="top:48px;background:linear-gradient(90deg,#ff8f00 0.5px,#ff7300 1.5px,#ff7000 2.5px,#ff8900 3.5px,#ffde00 5.5px,#ffff1f 6.5px,#ffff13 7.5px,#ffc000 8.5px,#ff3800 9.5px,#af0000 10.5px,#5e0000 11.5px,#360000 12.5px,#130000 14.5px,#040000 19.5px,#0a0000 30.5px,#170000 32.5px,#260000 33.5px,#400000 34.5px,#720000 35.5px,#d60000 36.5px,#ff6900 37.5px,#ffde00 38.5px,#ffff25 39.5px,#ffff0b 40.5px,#ffce00 41.5px,#ff7f00 43.5px,#ff6d00 44.5px,#ff7b00 45.5px,#ff9500 46.5px,#ff6e00 48.5px,#ff7500 49.5px,#ffc000 51.5px,#fff200 52.5px,#ffff29 53.5px,#fff900 54.5px,#ff9a00 55.5px,#ff0800 56.5px,#8e0000 57.5px,#4e0000 58.5px,#2d0000 59.5px,#100 61.5px,#030000 68.5px,#0b0000 77.5px,#1a0000 79.5px,#2d0000 80.5px,#4d0000 81.5px,#8c0000 82.5px,#ff0400 83.5px,#ff9700 84.5px,#fff700 85.5px,#ffff29 86.5px,#fff300 87.5px,#ff9700 89.5px,#ff7600 90.5px,#ff6e00 91.5px,#ff9500 93.5px,#ff6d00 95.5px,#ff7e00 96.5px,#ffcd00 98.5px,#ffff09 99.5px,#ffff25 100.5px,#ffe000 101.5px,#ff6d00 102.5px,#da0000 103.5px)"></i>
<i style="top:49px;background:linear-gradient(90deg,#fffff1 0.5px,#ffffe8 3.5px,#ffffda 4.5px,#ffffb9 5.5px,#ffff36 6.5px,#ff9300 7.5px,#ff0d00 8.5px,#910000 9.5px,#430000 10.5px,#1f0000 11.5px,#090000 13.5px,#010000 25.5px,#060000 32.5px,#140000 34.5px,#270000 35.5px,#570000 36.5px,#b60000 37.5px,#ff3500 38.5px,#ffc400 39.5px,#ffff6d 40.5px,#ffffc8 41.5px,#ffffe0 42.5px,#ffffef 45.5px,#ffffe5 50.5px,#ffffd2 51.5px,#ffff9c 52.5px,#fff700 53.5px,#ff6400 54.5px,#e20000 55.5px,#720000 56.5px,#340000 57.5px,#190000 58.5px,#040000 61.5px,#040000 78.5px,#190000 81.5px,#300 82.5px,#700000 83.5px,#df0000 84.5px,#ff6000 85.5px,#fff300 86.5px,#ff9 87.5px,#ffffd2 88.5px,#ffffec 90.5px,#ffffef 94.5px,#ffffe0 97.5px,#ffffc9 98.5px,#ffff71 99.5px,#ffc800 100.5px,#ff3800 101.5px,#b90000 102.5px,#580000 103.5px)"></i>
<i style="top:50px;background:linear-gradient(90deg,#fff600 0.5px,#fff100 1.5px,#ffdf00 2.5px,#ff9a00 4.5px,#ff6900 5.5px,#ff0600 6.5px,#9f0000 7.5px,#5b0000 8.5px,#2a0000 9.5px,#100 10.5px,#020000 13.5px,#050000 34.5px,#170000 36.5px,#380000 37.5px,#6e0000 38.5px,#bd0000 39.5px,#ff2900 40.5px,#ff7c00 41.5px,#fc0 43.5px,#ffe600 44.5px,#fff400 45.5px,#fff600 47.5px,#ffed00 48.5px,#ffd700 49.5px,#ff8b00 51.5px,#ff4d00 52.5px,#e10000 53.5px,#850000 54.5px,#490000 55.5px,#200000 56.5px,#0d0000 57.5px,#010000 61.5px,#060000 81.5px,#0d0000 82.5px,#1f0000 83.5px,#480000 84.5px,#830000 85.5px,#de0000 86.5px,#ff4b00 87.5px,#ff8a00 88.5px,#ffd600 90.5px,#ffec00 91.5px,#fff600 93.5px,#fff400 94.5px,#ffe700 95.5px,#ffcd00 96.5px,#ff7d00 98.5px,#ff2c00 99.5px,#c00000 100.5px,#6f0000 101.5px,#390000 102.5px,#180000 103.5px)"></i>
<i style="top:51px;background:linear-gradient(90deg,#e30000 0.5px,#d10000 2.5px,#890000 5.5px,#340000 7.5px,#0c0000 9.5px,#010000 13.5px,#030000 35.5px,#100 37.5px,#3f0000 39.5px,#930000 41.5px,#d70000 44.5px,#e30000 46.5px,#db0000 48.5px,#9c0000 51.5px,#7b0000 52.5px,#4d0000 53.5px,#2b0000 54.5px,#090000 56.5px,#000 64.5px,#040000 82.5px,#160000 84.5px,#2a0000 85.5px,#4c0000 86.5px,#7a0000 87.5px,#b40000 89.5px,#db0000 91.5px,#e10000 94.5px,#c50000 96.5px,#930000 98.5px,#400000 100.5px,#230000 101.5px,#070000 103.5px)"></i>
<i style="top:52px;background:linear-gradient(90deg,#ffab00 0.5px,#ffa600 1.5px,#ff9400 2.5px,#ff5200 4.5px,#ff2500 5.5px,#cf0000 6.5px,#7c0000 7.5px,#450000 8.5px,#200000 9.5px,#0d0000 10.5px,#010000 14.5px,#030000 34.5px,#100 36.5px,#2a0000 37.5px,#540000 38.5px,#940000 39.5px,#ed0000 40.5px,#ff3600 41.5px,#ff8100 43.5px,#ff9b00 44.5px,#ffab00 46.5px,#ffa100 48.5px,#ff8c00 49.5px,#ff4500 51.5px,#ff0d00 52.5px,#b10000 53.5px,#670000 54.5px,#370000 55.5px,#180000 56.5px,#040000 58.5px,#040000 81.5px,#170000 83.5px,#360000 84.5px,#650000 85.5px,#af0000 86.5px,#ff0b00 87.5px,#f40 88.5px,#ff8b00 90.5px,#ffa100 91.5px,#ffab00 93.5px,#ffa900 94.5px,#ff9c00 95.5px,#ff5f00 97.5px,#ff3700 98.5px,#ef0000 99.5px,#960000 100.5px,#500 101.5px,#2b0000 102.5px,#120000 103.5px)"></i>
<i style="top:53px;background:linear-gradient(90deg,#fff 0.5px,#fffff6 2.5px,#ffffe4 3.5px,#ffffc4 4.5px,#ffff90 5.5px,#fff600 6.5px,#ff6100 7.5px,#e10000 8.5px,#760000 9.5px,#350000 10.5px,#180000 11.5px,#070000 13.5px,#020000 30.5px,#0f0000 34.5px,#1f0000 35.5px,#450000 36.5px,#950000 37.5px,#ff0700 38.5px,#ff9100 39.5px,#ffff31 40.5px,#ffffa7 41.5px,#ffffd0 42.5px,#ffffeb 43.5px,#fff 45.5px,#fffffc 48.5px,#fffff1 49.5px,#ffffdb 50.5px,#ffffb7 51.5px,#ffff6a 52.5px,#ffc600 53.5px,#f30 54.5px,#bc0000 55.5px,#5b0000 56.5px,#280000 57.5px,#130000 58.5px,#020000 62.5px,#050000 79.5px,#130000 81.5px,#270000 82.5px,#590000 83.5px,#b90000 84.5px,#ff3000 85.5px,#ffc300 86.5px,#ff6 87.5px,#ffffb6 88.5px,#ffffda 89.5px,#fffff1 90.5px,#fff 92.5px,#fffffa 95.5px,#ffffeb 96.5px,#ffffd1 97.5px,#ffffa8 98.5px,#ffff36 99.5px,#ff9500 100.5px,#ff0a00 101.5px,#980000 102.5px,#460000 103.5px)"></i>
<i style="top:54px;background:linear-gradient(90deg,#ffc700 0.5px,#ffb700 1.5px,#ffbc00 2.5px,#fff900 4.5px,#ffff53 6.5px,#ffff14 7.5px,#ffa700 8.5px,#ff1700 9.5px,#950000 10.5px,#4d0000 11.5px,#2c0000 12.5px,#0f0000 14.5px,#030000 21.5px,#0b0000 31.5px,#1e0000 33.5px,#340000 34.5px,#5f0000 35.5px,#b90000 36.5px,#ff4800 37.5px,#ffcb00 38.5px,#ffff35 39.5px,#ffff4e 40.5px,#ffff19 41.5px,#ffed00 42.5px,#fc0 43.5px,#ffb700 44.5px,#fb0 45.5px,#ffcb00 46.5px,#ffb600 48.5px,#ffc200 49.5px,#ffff08 51.5px,#ffff3e 52.5px,#ffff4c 53.5px,#ffef00 54.5px,#ff7d00 55.5px,#e60000 56.5px,#780000 57.5px,#400000 58.5px,#240000 59.5px,#0d0000 61.5px,#030000 71.5px,#0d0000 78.5px,#240000 80.5px,#3f0000 81.5px,#760000 82.5px,#e30000 83.5px,#ff7900 84.5px,#ffed00 85.5px,#ffff4b 86.5px,#ffff40 87.5px,#ffff09 88.5px,#ffc300 90.5px,#ffb600 91.5px,#ffcb00 93.5px,#ffb700 95.5px,#ffcb00 96.5px,#ffec00 97.5px,#ffff18 98.5px,#ffff4d 99.5px,#ffff37 100.5px,#ffce00 101.5px,#ff4c00 102.5px,#bc0000 103.5px)"></i>
<i style="top:55px;background:linear-gradient(90deg,#ff7100 0.5px,#ff0a00 1.5px,#ac0000 2.5px,#900000 3.5px,#a80000 4.5px,#d50000 5.5px,#ff3a00 6.5px,#ff9d00 7.5px,#ffc100 8.5px,#ff9700 9.5px,#ff1d00 10.5px,#b00000 11.5px,#700000 12.5px,#470000 13.5px,#1f0000 15.5px,#0b0000 20.5px,#0f0000 28.5px,#230000 31.5px,#350000 32.5px,#530000 33.5px,#820000 34.5px,#ce0000 35.5px,#ff4700 36.5px,#ffb000 37.5px,#ffbd00 38.5px,#ff8200 39.5px,#ff1500 40.5px,#c30000 41.5px,#9d0000 42.5px,#910000 43.5px,#c40000 44.5px,#ff3000 45.5px,#ff8000 46.5px,#ff5600 47.5px,#e50000 48.5px,#9a0000 49.5px,#940000 50.5px,#b40000 51.5px,#f00000 52.5px,#ff5e00 53.5px,#ffb000 54.5px,#ffbf00 55.5px,#ff7300 56.5px,#f40000 57.5px,#980000 58.5px,#610000 59.5px,#3e0000 60.5px,#1c0000 62.5px,#0a0000 67.5px,#100000 75.5px,#280000 78.5px,#3d0000 79.5px,#600000 80.5px,#960000 81.5px,#f10000 82.5px,#ff7000 83.5px,#ffbe00 84.5px,#ffb100 85.5px,#ff6100 86.5px,#f20000 87.5px,#b50000 88.5px,#940000 89.5px,#900 90.5px,#e30000 91.5px,#ff5300 92.5px,#ff8100 93.5px,#f30 94.5px,#c60000 95.5px,#910000 96.5px,#9c0000 97.5px,#c20000 98.5px,#ff1200 99.5px,#ff8000 100.5px,#ffbc00 101.5px,#ffb200 102.5px,#ff4b00 103.5px)"></i>
<i style="top:56px;background:linear-gradient(90deg,#ffff31 0.5px,#ffd000 1.5px,#ff2500 2.5px,#6b0000 3.5px,#280000 4.5px,#280000 5.5px,#570000 6.5px,#b50000 7.5px,#ff1e00 8.5px,#ff7400 9.5px,#ff6c00 10.5px,#ff1f00 11.5px,#d50000 12.5px,#980000 13.5px,#6c0000 14.5px,#3c0000 16.5px,#230000 19.5px,#1e0000 25.5px,#340000 29.5px,#570000 31.5px,#780000 32.5px,#a00 33.5px,#eb0000 34.5px,#ff3a00 35.5px,#ff7a00 36.5px,#ff5f00 37.5px,#fd0000 38.5px,#930000 39.5px,#420000 40.5px,#240000 41.5px,#320000 42.5px,#9c0000 43.5px,#ff6500 44.5px,#fff500 45.5px,#ffff3d 46.5px,#ffff19 47.5px,#ffa100 48.5px,#e00000 49.5px,#480000 50.5px,#240000 51.5px,#320000 52.5px,#710000 53.5px,#d80000 54.5px,#ff3f00 55.5px,#ff7e00 56.5px,#ff5600 57.5px,#ff0500 58.5px,#800 60.5px,#610000 61.5px,#380000 63.5px,#1e0000 67.5px,#210000 73.5px,#370000 76.5px,#600000 78.5px,#870000 79.5px,#ff0300 81.5px,#ff5400 82.5px,#ff7e00 83.5px,#ff4200 84.5px,#db0000 85.5px,#730000 86.5px,#300 87.5px,#240000 88.5px,#460000 89.5px,#db0000 90.5px,#ff9d00 91.5px,#ffff17 92.5px,#ffff3d 93.5px,#fff700 94.5px,#ff6a00 95.5px,#a10000 96.5px,#300 97.5px,#240000 98.5px,#400000 99.5px,#900000 100.5px,#fa0000 101.5px,#ff5d00 102.5px,#ff7b00 103.5px)"></i>
<i style="top:57px;background:linear-gradient(90deg,#ffd300 0.5px,#ffcd00 1.5px,#ffb100 2.5px,#ff2600 3.5px,#650000 4.5px,#1a0000 5.5px,#100000 6.5px,#2d0000 7.5px,#6f0000 8.5px,#dc0000 9.5px,#ff3b00 10.5px,#ff4900 11.5px,#f50000 13.5px,#c20000 14.5px,#9a0000 15.5px,#6a0000 17.5px,#4a0000 20.5px,#400 24.5px,#540000 27.5px,#6f0000 29.5px,#a60000 31.5px,#ff0700 33.5px,#ff3600 34.5px,#ff4d00 35.5px,#ff2500 36.5px,#b50000 37.5px,#560000 38.5px,#200000 39.5px,#0f0000 40.5px,#290000 41.5px,#970000 42.5px,#ff6900 43.5px,#ffbe00 44.5px,#ffd000 45.5px,#ffd200 47.5px,#ffc700 48.5px,#ff9c00 49.5px,#dc0000 50.5px,#420000 51.5px,#120000 52.5px,#160000 53.5px,#3f0000 54.5px,#8e0000 55.5px,#ff0300 56.5px,#ff4800 57.5px,#ff4200 58.5px,#ff1900 59.5px,#e30000 60.5px,#b40000 61.5px,#760000 63.5px,#4f0000 66.5px,#430000 70.5px,#570000 74.5px,#760000 76.5px,#8f0000 77.5px,#b30000 78.5px,#e20000 79.5px,#ff1800 80.5px,#ff4100 81.5px,#ff4900 82.5px,#ff0600 83.5px,#900000 84.5px,#410000 85.5px,#160000 86.5px,#120000 87.5px,#400000 88.5px,#d70000 89.5px,#f90 90.5px,#ffc700 91.5px,#ffd300 93.5px,#ffd000 94.5px,#ffbf00 95.5px,#ff6e00 96.5px,#9b0000 97.5px,#2b0000 98.5px,#0f0000 99.5px,#1f0000 100.5px,#540000 101.5px,#b20000 102.5px,#ff2300 103.5px)"></i>
<i style="top:58px;background:linear-gradient(90deg,#ff2c00 0.5px,#f70 2.5px,#ff7800 3.5px,#ff0c00 4.5px,#6a0000 5.5px,#1d0000 6.5px,#0d0000 7.5px,#1c0000 8.5px,#560000 9.5px,#b00 10.5px,#ff0d00 11.5px,#ff2f00 12.5px,#ff2a00 13.5px,#ff0e00 14.5px,#ec0000 15.5px,#b70000 17.5px,#8e0000 20.5px,#830000 23.5px,#900000 26.5px,#be0000 29.5px,#f70000 31.5px,#ff2f00 33.5px,#ff2900 34.5px,#f70000 35.5px,#3d0000 37.5px,#140000 38.5px,#0e0000 39.5px,#2d0000 40.5px,#980000 41.5px,#ff4300 42.5px,#ff7f00 43.5px,#ff6b00 44.5px,#ff4100 45.5px,#ff2700 46.5px,#ff3400 47.5px,#ff7e00 49.5px,#ff6a00 50.5px,#d20000 51.5px,#470000 52.5px,#140000 53.5px,#0f0000 54.5px,#280000 55.5px,#740000 56.5px,#db0000 57.5px,#ff1d00 58.5px,#ff3100 59.5px,#f20 60.5px,#ff0300 61.5px,#b10000 64.5px,#8b0000 67.5px,#830000 70.5px,#930000 73.5px,#c60000 76.5px,#ff0300 78.5px,#f20 79.5px,#ff3100 80.5px,#ff1e00 81.5px,#d00 82.5px,#700 83.5px,#2a0000 84.5px,#0f0000 85.5px,#130000 86.5px,#450000 87.5px,#ce0000 88.5px,#ff6800 89.5px,#ff7e00 90.5px,#ff3500 92.5px,#ff2700 93.5px,#ff4000 94.5px,#ff6b00 95.5px,#ff7f00 96.5px,#ff4600 97.5px,#9c0000 98.5px,#2e0000 99.5px,#0f0000 100.5px,#140000 101.5px,#3b0000 102.5px,#960000 103.5px)"></i>
<i style="top:59px;background:linear-gradient(90deg,#8d0000 0.5px,#b80000 1.5px,#f00 2.5px,#f40 3.5px,#ff4d00 4.5px,#f90000 5.5px,#690000 6.5px,#230000 7.5px,#0f0000 8.5px,#190000 9.5px,#4e0000 10.5px,#e20000 12.5px,#ff1000 13.5px,#ff1f00 14.5px,#ff0d00 16.5px,#fc0000 17.5px,#d90000 20.5px,#ce0000 23.5px,#db0000 26.5px,#ff0200 29.5px,#ff1e00 31.5px,#ff1d00 32.5px,#ff0400 33.5px,#ce0000 34.5px,#380000 36.5px,#120000 37.5px,#120000 38.5px,#320000 39.5px,#910000 40.5px,#ff2700 41.5px,#ff5100 42.5px,#ff3200 43.5px,#e60000 44.5px,#a60000 45.5px,#800 46.5px,#970000 47.5px,#cd0000 48.5px,#ff1a00 49.5px,#ff4e00 50.5px,#ff4500 51.5px,#c60000 52.5px,#4a0000 53.5px,#190000 54.5px,#0f0000 55.5px,#250000 56.5px,#670000 57.5px,#b60000 58.5px,#f40000 59.5px,#ff1800 60.5px,#ff1f00 61.5px,#ff0800 63.5px,#ea0000 65.5px,#d10000 68.5px,#d60000 72.5px,#f70000 75.5px,#ff1600 77.5px,#ff1f00 78.5px,#ff1800 79.5px,#f50000 80.5px,#b70000 81.5px,#690000 82.5px,#270000 83.5px,#0f0000 84.5px,#180000 85.5px,#480000 86.5px,#c20000 87.5px,#ff4300 88.5px,#ff4e00 89.5px,#ff1b00 90.5px,#cf0000 91.5px,#980000 92.5px,#800 93.5px,#a50000 94.5px,#e40000 95.5px,#ff3100 96.5px,#ff5100 97.5px,#ff2a00 98.5px,#950000 99.5px,#300 100.5px,#120000 101.5px,#120000 102.5px,#360000 103.5px)"></i>
<i style="top:60px;background:linear-gradient(90deg,#310000 0.5px,#4d0000 1.5px,#890000 2.5px,#e40000 3.5px,#ff2600 4.5px,#ff3400 5.5px,#e30000 6.5px,#6a0000 7.5px,#2c0000 8.5px,#160000 9.5px,#1d0000 10.5px,#450000 11.5px,#b90000 13.5px,#e80000 14.5px,#ff0500 15.5px,#ff1500 17.5px,#ff0800 24.5px,#ff1500 29.5px,#fd0000 31.5px,#da0000 32.5px,#350000 35.5px,#170000 36.5px,#1a0000 37.5px,#3b0000 38.5px,#8c0000 39.5px,#ff0d00 40.5px,#ff3500 41.5px,#ff1700 42.5px,#c60000 43.5px,#710000 44.5px,#410000 45.5px,#2e0000 46.5px,#370000 47.5px,#5d0000 48.5px,#a50000 49.5px,#f00 50.5px,#ff3000 51.5px,#ff2b00 52.5px,#b70000 53.5px,#500000 54.5px,#200 55.5px,#150000 56.5px,#270000 57.5px,#560000 58.5px,#ca0000 60.5px,#f30000 61.5px,#ff0b00 62.5px,#ff1500 64.5px,#ff0700 70.5px,#ff1400 76.5px,#ff0b00 77.5px,#f40000 78.5px,#cb0000 79.5px,#570000 81.5px,#280000 82.5px,#150000 83.5px,#210000 84.5px,#4e0000 85.5px,#b40000 86.5px,#ff2a00 87.5px,#ff3100 88.5px,#ff0200 89.5px,#a70000 90.5px,#5e0000 91.5px,#380000 92.5px,#2e0000 93.5px,#400000 94.5px,#700000 95.5px,#c40000 96.5px,#ff1600 97.5px,#ff3500 98.5px,#ff1000 99.5px,#8f0000 100.5px,#3c0000 101.5px,#1b0000 102.5px,#170000 103.5px)"></i>
<i style="top:61px;background:linear-gradient(90deg,#0d0000 0.5px,#190000 1.5px,#3a0000 2.5px,#840000 3.5px,#db0000 4.5px,#ff1700 5.5px,#ff2100 6.5px,#d50000 7.5px,#750000 8.5px,#3c0000 9.5px,#200 10.5px,#200 11.5px,#390000 12.5px,#b90000 15.5px,#ec0000 17.5px,#ff0200 19.5px,#ff0b00 24.5px,#f00 27.5px,#e60000 29.5px,#cf0000 30.5px,#810000 32.5px,#530000 33.5px,#300000 34.5px,#200000 35.5px,#270000 36.5px,#4b0000 37.5px,#900000 38.5px,#f70000 39.5px,#ff2400 40.5px,#ff0800 41.5px,#c10000 42.5px,#680000 43.5px,#2c0000 44.5px,#130000 45.5px,#0f0000 47.5px,#200000 48.5px,#4e0000 49.5px,#f20000 51.5px,#ff2000 52.5px,#ff1500 53.5px,#b20000 54.5px,#5f0000 55.5px,#300000 56.5px,#1f0000 57.5px,#280000 58.5px,#450000 59.5px,#c40000 62.5px,#f10000 64.5px,#ff0400 66.5px,#ff0b00 71.5px,#fd0000 74.5px,#e00000 76.5px,#c50000 77.5px,#460000 80.5px,#280000 81.5px,#1f0000 82.5px,#300000 83.5px,#5d0000 84.5px,#b00000 85.5px,#ff1300 86.5px,#ff2000 87.5px,#f40000 88.5px,#4f0000 90.5px,#210000 91.5px,#0f0000 92.5px,#130000 94.5px,#2b0000 95.5px,#600 96.5px,#bf0000 97.5px,#ff0700 98.5px,#ff2400 99.5px,#f90000 100.5px,#920000 101.5px,#4c0000 102.5px,#280000 103.5px)"></i>
<i style="top:62px;background:linear-gradient(90deg,#020000 0.5px,#130000 2.5px,#3f0000 3.5px,#d90000 5.5px,#ff0d00 6.5px,#ff1300 7.5px,#d50000 8.5px,#800 9.5px,#510000 10.5px,#300 11.5px,#290000 12.5px,#300 13.5px,#9e0000 17.5px,#ca0000 20.5px,#d60000 23.5px,#c70000 26.5px,#970000 29.5px,#420000 32.5px,#2e0000 33.5px,#2a0000 34.5px,#3a0000 35.5px,#600000 36.5px,#9f0000 37.5px,#e00 38.5px,#ff1600 39.5px,#ff0200 40.5px,#c10000 41.5px,#710000 42.5px,#2c0000 43.5px,#0d0000 44.5px,#020000 46.5px,#090000 48.5px,#1d0000 49.5px,#560000 50.5px,#e00 52.5px,#ff1400 53.5px,#ff0600 54.5px,#730000 56.5px,#400 57.5px,#2d0000 58.5px,#2b0000 59.5px,#3a0000 60.5px,#a50000 64.5px,#cd0000 67.5px,#d60000 70.5px,#c40000 73.5px,#8f0000 76.5px,#3a0000 79.5px,#2b0000 80.5px,#2d0000 81.5px,#400 82.5px,#720000 83.5px,#ff0400 85.5px,#ff1400 86.5px,#f00000 87.5px,#570000 89.5px,#1e0000 90.5px,#090000 91.5px,#040000 94.5px,#0d0000 95.5px,#2b0000 96.5px,#6f0000 97.5px,#bf0000 98.5px,#f00 99.5px,#ff1600 100.5px,#f00000 101.5px,#a10000 102.5px,#610000 103.5px)"></i>
<i style="top:63px;background:linear-gradient(90deg,#000 0.5px,#050000 2.5px,#190000 3.5px,#4b0000 4.5px,#db0000 6.5px,#ff0500 7.5px,#ff0900 8.5px,#d00 9.5px,#6b0000 11.5px,#490000 12.5px,#380000 13.5px,#3e0000 15.5px,#7e0000 20.5px,#890000 23.5px,#7b0000 26.5px,#3a0000 31.5px,#350000 32.5px,#3c0000 33.5px,#520000 34.5px,#7a0000 35.5px,#f00000 37.5px,#ff0b00 38.5px,#fb0000 39.5px,#c60000 40.5px,#790000 41.5px,#370000 42.5px,#0f0000 43.5px,#010000 45.5px,#090000 49.5px,#250000 50.5px,#600000 51.5px,#ac0000 52.5px,#ed0000 53.5px,#ff0a00 54.5px,#f00 55.5px,#8c0000 57.5px,#5e0000 58.5px,#420000 59.5px,#360000 60.5px,#420000 62.5px,#800000 67.5px,#890000 70.5px,#780000 73.5px,#370000 78.5px,#360000 79.5px,#410000 80.5px,#5d0000 81.5px,#8b0000 82.5px,#fe0000 84.5px,#ff0a00 85.5px,#e00 86.5px,#ae0000 87.5px,#620000 88.5px,#270000 89.5px,#090000 90.5px,#010000 94.5px,#0f0000 96.5px,#360000 97.5px,#700 98.5px,#c40000 99.5px,#fb0000 100.5px,#ff0b00 101.5px,#f10000 102.5px,#b40000 103.5px)"></i>
<i style="top:64px;background:linear-gradient(90deg,#000 0.5px,#080000 3.5px,#200 4.5px,#560000 5.5px,#dc0000 7.5px,#fb0000 8.5px,#ff0100 9.5px,#e80000 10.5px,#8b0000 12.5px,#680000 13.5px,#400 15.5px,#430000 18.5px,#500000 24.5px,#400000 30.5px,#570000 32.5px,#720000 33.5px,#f40000 36.5px,#ff0200 37.5px,#f40000 38.5px,#ca0000 39.5px,#420000 41.5px,#170000 42.5px,#040000 43.5px,#020000 49.5px,#0e0000 50.5px,#300000 51.5px,#6c0000 52.5px,#b40000 53.5px,#e90000 54.5px,#f00 55.5px,#fd0000 56.5px,#d90000 57.5px,#7e0000 59.5px,#5f0000 60.5px,#4b0000 61.5px,#3f0000 63.5px,#500000 70.5px,#420000 77.5px,#5e0000 79.5px,#7d0000 80.5px,#d80000 82.5px,#fc0000 83.5px,#ff0100 84.5px,#ea0000 85.5px,#b60000 86.5px,#6e0000 87.5px,#310000 88.5px,#0e0000 89.5px,#000 91.5px,#040000 96.5px,#160000 97.5px,#400000 98.5px,#c90000 100.5px,#f40000 101.5px,#ff0200 102.5px,#f50000 103.5px)"></i>
<i style="top:65px;background:linear-gradient(90deg,#000 0.5px,#020000 3.5px,#0d0000 4.5px,#2b0000 5.5px,#a50000 7.5px,#d60000 8.5px,#f20000 9.5px,#fa0000 10.5px,#f00000 11.5px,#740000 15.5px,#4d0000 18.5px,#450000 25.5px,#590000 29.5px,#7c0000 31.5px,#b90000 33.5px,#d00 34.5px,#f60000 35.5px,#f90000 36.5px,#eb0000 37.5px,#c90000 38.5px,#4f0000 40.5px,#1f0000 41.5px,#080000 42.5px,#000 46.5px,#040000 50.5px,#140000 51.5px,#3b0000 52.5px,#b70000 54.5px,#e20000 55.5px,#f70000 56.5px,#fa0000 57.5px,#e80000 58.5px,#850000 61.5px,#5d0000 63.5px,#480000 66.5px,#470000 73.5px,#5d0000 76.5px,#840000 78.5px,#e70000 81.5px,#f90000 82.5px,#f70000 83.5px,#e20000 84.5px,#b90000 85.5px,#3c0000 87.5px,#150000 88.5px,#040000 89.5px,#010000 96.5px,#080000 97.5px,#1e0000 98.5px,#4d0000 99.5px,#c80000 101.5px,#eb0000 102.5px,#f90000 103.5px)"></i>
<i style="top:66px;background:linear-gradient(90deg,#000 0.5px,#040000 4.5px,#130000 5.5px,#370000 6.5px,#a40000 8.5px,#ce0000 9.5px,#e80000 10.5px,#f30000 11.5px,#f20000 12.5px,#ce0000 14.5px,#8d0000 17.5px,#6c0000 20.5px,#650000 24.5px,#760000 27.5px,#a60000 30.5px,#eb0000 33.5px,#f40000 34.5px,#f10000 35.5px,#e10000 36.5px,#c20000 37.5px,#940000 38.5px,#290000 40.5px,#0c0000 41.5px,#000 43.5px,#010000 50.5px,#070000 51.5px,#1c0000 52.5px,#470000 53.5px,#b30000 55.5px,#d80000 56.5px,#ed0000 57.5px,#f40000 58.5px,#f00000 59.5px,#870000 64.5px,#6a0000 67.5px,#600 71.5px,#7a0000 74.5px,#ae0000 77.5px,#ef0000 80.5px,#f40000 81.5px,#ed0000 82.5px,#d90000 83.5px,#b40000 84.5px,#490000 86.5px,#1d0000 87.5px,#080000 88.5px,#000 92.5px,#020000 97.5px,#0c0000 98.5px,#280000 99.5px,#c10000 102.5px,#e10000 103.5px)"></i>
<i style="top:67px;background:linear-gradient(90deg,#000 0.5px,#070000 5.5px,#1b0000 6.5px,#700000 8.5px,#c30000 10.5px,#dc0000 11.5px,#ed0000 13.5px,#e40000 15.5px,#a70000 20.5px,#9f0000 24.5px,#bf0000 28.5px,#e70000 31.5px,#ec0000 33.5px,#e60000 34.5px,#d50000 35.5px,#b80000 36.5px,#300 39.5px,#120000 40.5px,#040000 41.5px,#020000 51.5px,#0c0000 52.5px,#250000 53.5px,#ab0000 56.5px,#cd0000 57.5px,#eb0000 59.5px,#ea0000 61.5px,#a50000 67.5px,#9d0000 70.5px,#b70000 74.5px,#ea0000 78.5px,#eb0000 80.5px,#cd0000 82.5px,#810000 84.5px,#260000 86.5px,#0c0000 87.5px,#000 89.5px,#040000 98.5px,#120000 99.5px,#320000 100.5px,#b70000 103.5px)"></i>
<i style="top:68px;background:linear-gradient(90deg,#000 0.5px,#020000 5.5px,#0b0000 6.5px,#200 7.5px,#b50000 11.5px,#db0000 13.5px,#e70000 16.5px,#d10000 23.5px,#e70000 30.5px,#d70000 33.5px,#ac0000 35.5px,#190000 39.5px,#070000 40.5px,#000 47.5px,#040000 52.5px,#100 53.5px,#2c0000 54.5px,#a00000 57.5px,#d20000 59.5px,#e70000 62.5px,#d10000 70.5px,#e70000 77.5px,#d20000 80.5px,#a10000 82.5px,#2d0000 85.5px,#120000 86.5px,#040000 87.5px,#010000 98.5px,#070000 99.5px,#180000 100.5px,#5f0000 102.5px,#800 103.5px)"></i>
<i style="top:69px;background:linear-gradient(90deg,#000 0.5px,#040000 6.5px,#260000 8.5px,#a30000 12.5px,#c90000 14.5px,#de0000 17.5px,#d00 29.5px,#c40000 32.5px,#9b0000 34.5px,#1e0000 38.5px,#020000 40.5px,#010000 52.5px,#160000 54.5px,#4f0000 56.5px,#920000 58.5px,#bf0000 60.5px,#db0000 63.5px,#db0000 76.5px,#bf0000 79.5px,#920000 81.5px,#300000 84.5px,#070000 86.5px,#000 93.5px,#020000 99.5px,#1d0000 101.5px,#5b0000 103.5px)"></i>
<i style="top:70px;background:linear-gradient(90deg,#000 0.5px,#070000 7.5px,#270000 9.5px,#8f0000 13.5px,#bd0000 16.5px,#d20000 20.5px,#ce0000 27.5px,#ba0000 30.5px,#800 33.5px,#1f0000 37.5px,#040000 39.5px,#020000 53.5px,#180000 55.5px,#960000 60.5px,#c00000 63.5px,#d40000 68.5px,#cd0000 74.5px,#b60000 77.5px,#800000 80.5px,#190000 84.5px,#030000 86.5px,#040000 100.5px,#1f0000 102.5px,#370000 103.5px)"></i>
<i style="top:71px;background:linear-gradient(90deg,#000 0.5px,#020000 7.5px,#140000 9.5px,#8a0000 15.5px,#ab0000 18.5px,#ba0000 23.5px,#a90000 28.5px,#850000 31.5px,#0f0000 37.5px,#000 40.5px,#040000 54.5px,#190000 56.5px,#8f0000 62.5px,#b30000 66.5px,#b70000 72.5px,#9c0000 76.5px,#580000 80.5px,#190000 83.5px,#010000 86.5px,#010000 100.5px,#0f0000 102.5px,#1e0000 103.5px)"></i>
<i style="top:72px;background:linear-gradient(90deg,#000 0.5px,#030000 8.5px,#210000 11.5px,#7c0000 17.5px,#950000 21.5px,#900000 26.5px,#6c0000 30.5px,#0f0000 36.5px,#000 39.5px,#050000 55.5px,#260000 58.5px,#740000 63.5px,#920000 67.5px,#930000 72.5px,#740000 76.5px,#0c0000 83.5px,#000 87.5px,#020000 101.5px,#0f0000 103.5px)"></i>
<i style="top:73px;background:linear-gradient(90deg,#000 0.5px,#040000 9.5px,#270000 13.5px,#5f0000 18.5px,#720000 23.5px,#5d0000 28.5px,#070000 36.5px,#000 46.5px,#050000 56.5px,#2c0000 60.5px,#620000 65.5px,#710000 70.5px,#620000 74.5px,#0b0000 82.5px,#000 87.5px,#030000 102.5px,#070000 103.5px)"></i>
<i style="top:74px;background:linear-gradient(90deg,#000 0.5px,#040000 10.5px,#4a0000 20.5px,#4c0000 25.5px,#240000 31.5px,#030000 36.5px,#050000 57.5px,#4b0000 67.5px,#4b0000 72.5px,#210000 78.5px,#020000 83.5px,#030000 103.5px)"></i>
<i style="top:75px;background:linear-gradient(90deg,#000 0.5px,#030000 11.5px,#310000 21.5px,#2a0000 27.5px,#030000 35.5px,#040000 58.5px,#320000 68.5px,#280000 74.5px,#020000 82.5px,#010000 103.5px)"></i>
<i style="top:76px;background:linear-gradient(90deg,#000 0.5px,#050000 13.5px,#1e0000 23.5px,#000 37.5px,#060000 60.5px,#1e0000 69.5px,#0c0000 77.5px,#000 86.5px,#000 103.5px)"></i>
<i style="top:77px;background:linear-gradient(90deg,#000 0.5px,#070000 16.5px,#100000 25.5px,#000 39.5px,#060000 62.5px,#0f0000 72.5px,#000 85.5px,#000 103.5px)"></i>
<i style="top:78px;background:linear-gradient(90deg,#000 0.5px,#050000 28.5px,#050000 64.5px,#030000 77.5px,#000 103.5px)"></i>
<i style="top:79px;background:linear-gradient(90deg,#000 0.5px,#000 103.5px)"></i>
</div>
<div class="p" style="left:47px;top:159px">
<i style="top:35px;background:linear-gradient(90deg,#000 0.5px,#050000 103.5px)"></i>
<i style="top:36px;background:linear-gradient(90deg,#000 0.5px,#0c0000 18.5px,#0c0000 103.5px)"></i>
<i style="top:37px;background:linear-gradient(90deg,#000 0.5px,#120000 8.5px,#190000 18.5px,#190000 103.5px)"></i>
<i style="top:38px;background:linear-gradient(90deg,#000 0.5px,#140000 5.5px,#300000 11.5px,#300000 103.5px)"></i>
<i style="top:39px;background:linear-gradient(90deg,#000 0.5px,#0a0000 2.5px,#4d0000 9.5px,#540000 19.5px,#540000 103.5px)"></i>
<i style="top:40px;background:linear-gradient(90deg,#010000 0.5px,#090000 1.5px,#530000 5.5px,#7a0000 9.5px,#810000 16.5px,#810000 103.5px)"></i>
<i style="top:41px;background:linear-gradient(90deg,#060000 0.5px,#1e0000 1.5px,#600 3.5px,#960000 6.5px,#b00000 10.5px,#b20000 103.5px)"></i>
<i style="top:42px;background:linear-gradient(90deg,#1a0000 0.5px,#8a0000 2.5px,#ab0000 3.5px,#cf0000 6.5px,#dc0000 12.5px,#dc0000 103.5px)"></i>
<i style="top:43px;background:linear-gradient(90deg,#580000 0.5px,#b10000 1.5px,#e50000 2.5px,#f40000 3.5px,#f90000 7.5px,#f30000 31.5px,#f30000 103.5px)"></i>
<i style="top:44px;background:linear-gradient(90deg,#d70000 0.5px,#ff2a00 1.5px,#ff3900 2.5px,#ff1b00 4.5px,#ff0200 7.5px,#e40000 11.5px,#e40000 103.5px)"></i>
<i style="top:45px;background:linear-gradient(90deg,#ff7900 0.5px,#f80 1.5px,#ff6000 2.5px,#ff2c00 3.5px,#ff0400 4.5px,#ae0000 8.5px,#950000 11.5px,#940000 103.5px)"></i>
<i style="top:46px;background:linear-gradient(90deg,#ffdb00 0.5px,#ff8300 1.5px,#ff0d00 2.5px,#bd0000 3.5px,#940000 4.5px,#5c0000 7.5px,#400 10.5px,#420000 103.5px)"></i>
<i style="top:47px;background:linear-gradient(90deg,#ff4c00 0.5px,#bd0000 1.5px,#740000 2.5px,#500000 3.5px,#360000 5.5px,#210000 10.5px,#200000 103.5px)"></i>
<i style="top:48px;background:linear-gradient(90deg,#bd0000 0.5px,#a10000 1.5px,#8d0000 3.5px,#840000 16.5px,#840000 103.5px)"></i>
<i style="top:49px;background:linear-gradient(90deg,#ffd900 0.5px,#ffd700 103.5px)"></i>
<i style="top:50px;background:linear-gradient(90deg,#ffffc0 0.5px,#ffffc0 103.5px)"></i>
<i style="top:51px;background:linear-gradient(90deg,#ff8d00 0.5px,#ff8d00 103.5px)"></i>
<i style="top:52px;background:linear-gradient(90deg,#f60000 0.5px,#f60000 103.5px)"></i>
<i style="top:53px;background:linear-gradient(90deg,#ffc900 0.5px,#ffc900 103.5px)"></i>
<i style="top:54px;background:linear-gradient(90deg,#ffffcd 0.5px,#ffffcd 103.5px)"></i>
<i style="top:55px;background:linear-gradient(90deg,#ff8f00 0.5px,#ff8a00 103.5px)"></i>
<i style="top:56px;background:linear-gradient(90deg,#b60000 0.5px,#890000 1.5px,#6b0000 3.5px,#5d0000 11.5px,#5d0000 103.5px)"></i>
<i style="top:57px;background:linear-gradient(90deg,#ff8400 0.5px,#e50000 1.5px,#8b0000 2.5px,#5e0000 3.5px,#3c0000 5.5px,#200 10.5px,#210000 103.5px)"></i>
<i style="top:58px;background:linear-gradient(90deg,#ffd100 0.5px,#ff9600 1.5px,#ff2b00 2.5px,#d80000 3.5px,#ac0000 4.5px,#6e0000 7.5px,#530000 10.5px,#500000 103.5px)"></i>
<i style="top:59px;background:linear-gradient(90deg,#ff5a00 0.5px,#ff7a00 1.5px,#ff5d00 2.5px,#ff1200 4.5px,#fb0000 5.5px,#c10000 8.5px,#a70000 11.5px,#a70000 103.5px)"></i>
<i style="top:60px;background:linear-gradient(90deg,#b80000 0.5px,#ff1200 1.5px,#ff2b00 2.5px,#ff0400 7.5px,#ed0000 12.5px,#ed0000 103.5px)"></i>
<i style="top:61px;background:linear-gradient(90deg,#470000 0.5px,#9b0000 1.5px,#d20000 2.5px,#e60000 3.5px,#f40000 7.5px,#f00000 103.5px)"></i>
<i style="top:62px;background:linear-gradient(90deg,#140000 0.5px,#7a0000 2.5px,#9c0000 3.5px,#c40000 6.5px,#d40000 11.5px,#d40000 103.5px)"></i>
<i style="top:63px;background:linear-gradient(90deg,#040000 0.5px,#180000 1.5px,#5a0000 3.5px,#8a0000 6.5px,#a60000 10.5px,#a80000 103.5px)"></i>
<i style="top:64px;background:linear-gradient(90deg,#010000 0.5px,#060000 1.5px,#490000 5.5px,#700000 9.5px,#700 16.5px,#700 103.5px)"></i>
<i style="top:65px;background:linear-gradient(90deg,#000 0.5px,#120000 3.5px,#450000 9.5px,#4c0000 19.5px,#4c0000 103.5px)"></i>
<i style="top:66px;background:linear-gradient(90deg,#000 0.5px,#100 5.5px,#2b0000 11.5px,#2b0000 103.5px)"></i>
<i style="top:67px;background:linear-gradient(90deg,#000 0.5px,#160000 13.5px,#160000 103.5px)"></i>
<i style="top:68px;background:linear-gradient(90deg,#000 0.5px,#0a0000 22.5px,#0a0000 103.5px)"></i>
<i style="top:69px;background:linear-gradient(90deg,#000 0.5px,#040000 103.5px)"></i>
</div>
<div class="p" style="left:159px;top:159px">
<i style="top:30px;background:linear-gradient(90deg,#000 0.5px,#070000 103.5px)"></i>
<i style="top:31px;background:linear-gradient(90deg,#000 0.5px,#0d0000 103.5px)"></i>
<i style="top:32px;background:linear-gradient(90deg,#000 0.5px,#180000 103.5px)"></i>
<i style="top:33px;background:linear-gradient(90deg,#000 0.5px,#280000 100.5px,#280000 103.5px)"></i>
<i style="top:34px;background:linear-gradient(90deg,#000 0.5px,#3c0000 84.5px,#400000 103.5px)"></i>
<i style="top:35px;background:linear-gradient(90deg,#000 0.5px,#150000 14.5px,#450000 54.5px,#5e0000 99.5px,#5e0000 103.5px)"></i>
<i style="top:36px;background:linear-gradient(90deg,#000 0.5px,#0e0000 6.5px,#400000 24.5px,#760000 71.5px,#820000 103.5px)"></i>
<i style="top:37px;background:linear-gradient(90deg,#000 0.5px,#0d0000 4.5px,#3d0000 12.5px,#670000 26.5px,#900 66.5px,#a70000 103.5px)"></i>
<i style="top:38px;background:linear-gradient(90deg,#000 0.5px,#100000 3.5px,#400 7.5px,#7b0000 17.5px,#9e0000 33.5px,#c40000 74.5px,#cb0000 103.5px)"></i>
<i style="top:39px;background:linear-gradient(90deg,#010000 0.5px,#140000 2.5px,#570000 5.5px,#810000 9.5px,#ae0000 18.5px,#cd0000 37.5px,#e40000 83.5px,#e60000 103.5px)"></i>
<i style="top:40px;background:linear-gradient(90deg,#070000 0.5px,#170000 1.5px,#780000 4.5px,#9e0000 6.5px,#c80000 12.5px,#e30000 23.5px,#f30000 61.5px,#f40000 103.5px)"></i>
<i style="top:41px;background:linear-gradient(90deg,#1b0000 0.5px,#730000 2.5px,#a00000 3.5px,#c00000 4.5px,#da0000 6.5px,#f80000 14.5px,#fd0000 46.5px,#e90000 103.5px)"></i>
<i style="top:42px;background:linear-gradient(90deg,#530000 0.5px,#d20000 2.5px,#f90000 3.5px,#ff0f00 5.5px,#ff0500 23.5px,#da0000 51.5px,#b10000 87.5px,#ac0000 103.5px)"></i>
<i style="top:43px;background:linear-gradient(90deg,#c30000 0.5px,#ff1000 1.5px,#ff3d00 2.5px,#ff4a00 3.5px,#ff3400 5.5px,#ff1e00 7.5px,#fa0000 14.5px,#c10000 26.5px,#7f0000 59.5px,#650000 95.5px,#640000 103.5px)"></i>
<i style="top:44px;background:linear-gradient(90deg,#ff5d00 0.5px,#f80 1.5px,#ff8b00 2.5px,#ff5300 4.5px,#ff0400 6.5px,#b30000 12.5px,#7d0000 20.5px,#5d0000 33.5px,#420000 64.5px,#3b0000 103.5px)"></i>
<i style="top:45px;background:linear-gradient(90deg,#ffd600 0.5px,#ffc300 1.5px,#ff8d00 2.5px,#ff3900 3.5px,#ed0000 4.5px,#b60000 5.5px,#930000 6.5px,#760000 8.5px,#4b0000 15.5px,#390000 27.5px,#4c0000 103.5px)"></i>
<i style="top:46px;background:linear-gradient(90deg,#ffbf00 0.5px,#ff4300 1.5px,#d90000 2.5px,#920000 3.5px,#600 4.5px,#4e0000 5.5px,#3e0000 7.5px,#940000 66.5px,#a40000 103.5px)"></i>
<i style="top:47px;background:linear-gradient(90deg,#b50000 0.5px,#7a0000 1.5px,#5e0000 2.5px,#540000 3.5px,#5d0000 5.5px,#ae0000 12.5px,#da0000 23.5px,#ff0400 38.5px,#ff2c00 66.5px,#ff3b00 103.5px)"></i>
<i style="top:48px;background:linear-gradient(90deg,#c00000 0.5px,#fe0000 3.5px,#ff6500 8.5px,#ff9100 12.5px,#ffb300 24.5px,#fc0 50.5px,#ffcf00 103.5px)"></i>
<i style="top:49px;background:linear-gradient(90deg,#ffff2e 0.5px,#ffff63 3.5px,#ffff7d 7.5px,#ffff1d 68.5px,#ffff09 101.5px,#ffff09 103.5px)"></i>
<i style="top:50px;background:linear-gradient(90deg,#ffffd3 0.5px,#ffff34 10.5px,#ffff10 14.5px,#fffd00 18.5px,#ffb500 48.5px,#ff8d00 82.5px,#ff8600 103.5px)"></i>
<i style="top:51px;background:linear-gradient(90deg,#ff5c00 0.5px,#ff1900 11.5px,#fb0000 25.5px,#cd0000 68.5px,#c30000 103.5px)"></i>
<i style="top:52px;background:linear-gradient(90deg,#b90000 0.5px,#960000 29.5px,#7c0000 87.5px,#7b0000 103.5px)"></i>
<i style="top:53px;background:linear-gradient(90deg,#ffa000 0.5px,#ff5100 10.5px,#ff3000 21.5px,#fe0000 53.5px,#e50000 95.5px,#e50000 103.5px)"></i>
<i style="top:54px;background:linear-gradient(90deg,#fffff5 0.5px,#ffff60 11.5px,#ffff3e 16.5px,#fffe00 32.5px,#ffc400 64.5px,#ffad00 98.5px,#ffac00 103.5px)"></i>
<i style="top:55px;background:linear-gradient(90deg,#ffd300 0.5px,#fff800 2.5px,#ffff2f 5.5px,#ffff4f 9.5px,#ffff52 18.5px,#ffff0e 84.5px,#ffff09 103.5px)"></i>
<i style="top:56px;background:linear-gradient(90deg,#9a0000 0.5px,#b30000 2.5px,#f30000 5.5px,#ff0900 6.5px,#ff4b00 10.5px,#ff6b00 14.5px,#ff9700 32.5px,#ffb100 60.5px,#ffb600 103.5px)"></i>
<i style="top:57px;background:linear-gradient(90deg,#e30000 0.5px,#920000 1.5px,#650000 2.5px,#510000 3.5px,#4c0000 5.5px,#950000 13.5px,#e30000 40.5px,#ff0400 60.5px,#ff1a00 96.5px,#ff1a00 103.5px)"></i>
<i style="top:58px;background:linear-gradient(90deg,#ffdf00 0.5px,#ff0400 2.5px,#b10000 3.5px,#7c0000 4.5px,#5c0000 5.5px,#400 7.5px,#480000 24.5px,#810000 70.5px,#8d0000 103.5px)"></i>
<i style="top:59px;background:linear-gradient(90deg,#ffc400 0.5px,#ffbf00 1.5px,#ff9a00 2.5px,#ff0b00 4.5px,#d10000 5.5px,#ab0000 6.5px,#8a0000 8.5px,#5c0000 14.5px,#410000 23.5px,#3b0000 53.5px,#430000 103.5px)"></i>
<i style="top:60px;background:linear-gradient(90deg,#ff3e00 0.5px,#ff7300 1.5px,#ff7f00 2.5px,#ff7000 3.5px,#ff1400 6.5px,#f00 7.5px,#ae0000 15.5px,#830000 23.5px,#5c0000 43.5px,#420000 82.5px,#3f0000 103.5px)"></i>
<i style="top:61px;background:linear-gradient(90deg,#a80000 0.5px,#f50000 1.5px,#ff2800 2.5px,#ff3c00 3.5px,#ff3b00 4.5px,#ff1d00 7.5px,#fb0000 16.5px,#ca0000 29.5px,#8b0000 62.5px,#720000 96.5px,#710000 103.5px)"></i>
<i style="top:62px;background:linear-gradient(90deg,#400 0.5px,#bd0000 2.5px,#e70000 3.5px,#fc0000 4.5px,#ff0b00 15.5px,#fa0000 36.5px,#c20000 83.5px,#b00 103.5px)"></i>
<i style="top:63px;background:linear-gradient(90deg,#150000 0.5px,#360000 1.5px,#900000 3.5px,#b10000 4.5px,#ce0000 6.5px,#ef0000 13.5px,#fc0000 32.5px,#ef0000 103.5px)"></i>
<i style="top:64px;background:linear-gradient(90deg,#050000 0.5px,#120000 1.5px,#830000 5.5px,#a50000 8.5px,#cd0000 16.5px,#e50000 32.5px,#f20000 88.5px,#f20000 103.5px)"></i>
<i style="top:65px;background:linear-gradient(90deg,#010000 0.5px,#100000 2.5px,#5c0000 6.5px,#8a0000 12.5px,#af0000 22.5px,#d20000 52.5px,#e10000 103.5px)"></i>
<i style="top:66px;background:linear-gradient(90deg,#000 0.5px,#0d0000 3.5px,#3c0000 7.5px,#720000 17.5px,#970000 34.5px,#be0000 76.5px,#c40000 103.5px)"></i>
<i style="top:67px;background:linear-gradient(90deg,#000 0.5px,#0a0000 4.5px,#320000 11.5px,#5e0000 25.5px,#920000 67.5px,#a00000 103.5px)"></i>
<i style="top:68px;background:linear-gradient(90deg,#000 0.5px,#0c0000 6.5px,#3d0000 26.5px,#710000 75.5px,#7a0000 103.5px)"></i>
<i style="top:69px;background:linear-gradient(90deg,#000 0.5px,#3b0000 49.5px,#570000 97.5px,#570000 103.5px)"></i>
<i style="top:70px;background:linear-gradient(90deg,#000 0.5px,#380000 87.5px,#3a0000 103.5px)"></i>
<i style="top:71px;background:linear-gradient(90deg,#000 0.5px,#250000 103.5px)"></i>
<i style="top:72px;background:linear-gradient(90deg,#000 0.5px,#160000 103.5px)"></i>
<i style="top:73px;background:linear-gradient(90deg,#000 0.5px,#0c0000 103.5px)"></i>
<i style="top:74px;background:linear-gradient(90deg,#000 0.5px,#060000 103.5px)"></i>
</div>
<div class="p" style="left:271px;top:159px">
<i style="top:27px;background:linear-gradient(90deg,#000 0.5px,#050000 103.5px)"></i>
<i style="top:28px;background:linear-gradient(90deg,#000 0.5px,#0a0000 103.5px)"></i>
<i style="top:29px;background:linear-gradient(90deg,#000 0.5px,#120000 103.5px)"></i>
<i style="top:30px;background:linear-gradient(90deg,#000 0.5px,#200000 103.5px)"></i>
<i style="top:31px;background:linear-gradient(90deg,#000 0.5px,#100000 30.5px,#340000 95.5px,#350000 103.5px)"></i>
<i style="top:32px;background:linear-gradient(90deg,#000 0.5px,#0d0000 18.5px,#460000 72.5px,#500000 103.5px)"></i>
<i style="top:33px;background:linear-gradient(90deg,#000 0.5px,#0e0000 13.5px,#390000 33.5px,#6a0000 77.5px,#720000 103.5px)"></i>
<i style="top:34px;background:linear-gradient(90deg,#000 0.5px,#0a0000 8.5px,#510000 28.5px,#870000 66.5px,#970000 103.5px)"></i>
<i style="top:35px;background:linear-gradient(90deg,#000 0.5px,#060000 5.5px,#690000 23.5px,#970000 46.5px,#b50000 81.5px,#b90000 103.5px)"></i>
<i style="top:36px;background:linear-gradient(90deg,#000 0.5px,#060000 4.5px,#6e0000 16.5px,#9b0000 25.5px,#bf0000 47.5px,#d20000 87.5px,#d30000 103.5px)"></i>
<i style="top:37px;background:linear-gradient(90deg,#000 0.5px,#050000 3.5px,#500000 8.5px,#9d0000 16.5px,#c30000 24.5px,#db0000 44.5px,#e00000 103.5px)"></i>
<i style="top:38px;background:linear-gradient(90deg,#000 0.5px,#030000 2.5px,#0f0000 3.5px,#5f0000 6.5px,#a30000 11.5px,#d10000 17.5px,#e80000 26.5px,#e70000 60.5px,#d30000 103.5px)"></i>
<i style="top:39px;background:linear-gradient(90deg,#000 0.5px,#0b0000 2.5px,#270000 3.5px,#790000 5.5px,#960000 6.5px,#cd0000 10.5px,#ed0000 15.5px,#f70000 24.5px,#e00000 45.5px,#a70000 81.5px,#9c0000 103.5px)"></i>
<i style="top:40px;background:linear-gradient(90deg,#000 0.5px,#060000 1.5px,#200 2.5px,#8f0000 4.5px,#b90000 5.5px,#d20000 6.5px,#f30000 9.5px,#ff0300 13.5px,#f90000 20.5px,#b90000 37.5px,#7c0000 62.5px,#5e0000 89.5px,#5b0000 103.5px)"></i>
<i style="top:41px;background:linear-gradient(90deg,#030000 0.5px,#190000 1.5px,#540000 2.5px,#a00000 3.5px,#db0000 4.5px,#fa0000 5.5px,#ff1200 9.5px,#ff0800 13.5px,#f60000 15.5px,#a60000 23.5px,#7e0000 31.5px,#4a0000 53.5px,#2e0000 84.5px,#2a0000 103.5px)"></i>
<i style="top:42px;background:linear-gradient(90deg,#100000 0.5px,#4b0000 1.5px,#a00 2.5px,#fb0000 3.5px,#ff2400 4.5px,#ff2b00 5.5px,#ff0e00 9.5px,#fd0000 10.5px,#8b0000 17.5px,#5c0000 22.5px,#3d0000 30.5px,#1f0000 55.5px,#160000 103.5px)"></i>
<i style="top:43px;background:linear-gradient(90deg,#3d0000 0.5px,#ad0000 1.5px,#ff1a00 2.5px,#ff4e00 3.5px,#ff5000 4.5px,#ff3a00 5.5px,#ff1000 6.5px,#ed0000 7.5px,#8c0000 11.5px,#510000 15.5px,#2e0000 20.5px,#1c0000 30.5px,#1d0000 103.5px)"></i>
<i style="top:44px;background:linear-gradient(90deg,#a90000 0.5px,#ff3500 1.5px,#ff7a00 2.5px,#f70 3.5px,#ff3d00 4.5px,#e50000 5.5px,#a40000 6.5px,#800000 7.5px,#480000 10.5px,#280000 14.5px,#1f0000 23.5px,#430000 96.5px,#430000 103.5px)"></i>
<i style="top:45px;background:linear-gradient(90deg,#ff4f00 0.5px,#ffa800 1.5px,#ff9d00 2.5px,#ff2b00 3.5px,#b20000 4.5px,#6a0000 5.5px,#470000 6.5px,#310000 8.5px,#2e0000 13.5px,#580000 31.5px,#810000 73.5px,#890000 103.5px)"></i>
<i style="top:46px;background:linear-gradient(90deg,#ffd800 0.5px,#ffb500 1.5px,#ff0800 2.5px,#870000 3.5px,#510000 4.5px,#430000 5.5px,#610000 10.5px,#980000 18.5px,#b80000 30.5px,#d90000 64.5px,#e10000 103.5px)"></i>
<i style="top:47px;background:linear-gradient(90deg,#ffb200 0.5px,#e10000 1.5px,#830000 2.5px,#700 3.5px,#cf0000 7.5px,#f00 11.5px,#ff2400 17.5px,#ff3100 36.5px,#ff2900 103.5px)"></i>
<i style="top:48px;background:linear-gradient(90deg,#f90000 0.5px,#e80000 1.5px,#ff1000 2.5px,#ff6700 4.5px,#ff9700 6.5px,#ffaf00 10.5px,#ffa700 16.5px,#ff7900 29.5px,#ff3c00 81.5px,#ff3400 103.5px)"></i>
<i style="top:49px;background:linear-gradient(90deg,#ffed00 0.5px,#ffff21 1.5px,#ffff48 2.5px,#ffff58 3.5px,#ffff4e 5.5px,#ff0 10.5px,#ff8c00 20.5px,#f50 28.5px,#ff0d00 56.5px,#f70000 69.5px,#e10000 100.5px,#e10000 103.5px)"></i>
<i style="top:50px;background:linear-gradient(90deg,#ffffe3 0.5px,#ffff2d 3.5px,#fff500 4.5px,#ffb200 6.5px,#ff6200 10.5px,#ff0d00 16.5px,#f70000 18.5px,#c50000 25.5px,#9b0000 43.5px,#700 76.5px,#700000 103.5px)"></i>
<i style="top:51px;background:linear-gradient(90deg,#f60 0.5px,#f10 2.5px,#ef0000 3.5px,#bd0000 5.5px,#950000 8.5px,#5e0000 16.5px,#400000 27.5px,#290000 77.5px,#270000 103.5px)"></i>
<i style="top:52px;background:linear-gradient(90deg,#ad0000 0.5px,#6e0000 3.5px,#480000 7.5px,#250000 19.5px,#170000 54.5px,#140000 103.5px)"></i>
<i style="top:53px;background:linear-gradient(90deg,#ffb100 0.5px,#ff2a00 3.5px,#ff0900 4.5px,#d90000 6.5px,#9d0000 11.5px,#690000 19.5px,#4e0000 30.5px,#340000 76.5px,#310000 103.5px)"></i>
<i style="top:54px;background:linear-gradient(90deg,#ffffef 0.5px,#ffc 1.5px,#ffff01 5.5px,#ffb600 8.5px,#ff5100 14.5px,#ff0c00 20.5px,#f40000 23.5px,#d40000 30.5px,#9f0000 58.5px,#850000 94.5px,#840000 103.5px)"></i>
<i style="top:55px;background:linear-gradient(90deg,#ffa600 0.5px,#ffd700 1.5px,#fffd00 2.5px,#ffff20 3.5px,#ffff2f 4.5px,#ffff2b 6.5px,#fffe00 10.5px,#ff8600 23.5px,#ff6400 30.5px,#ff1f00 59.5px,#fd0000 85.5px,#f70000 103.5px)"></i>
<i style="top:56px;background:linear-gradient(90deg,#ff0200 0.5px,#c60000 1.5px,#ff0a00 3.5px,#ff5300 5.5px,#ff7800 7.5px,#ff9100 11.5px,#ff9000 17.5px,#ff6f00 31.5px,#ff3e00 84.5px,#ff3900 103.5px)"></i>
<i style="top:57px;background:linear-gradient(90deg,#ffda00 0.5px,#ff0b00 1.5px,#8b0000 2.5px,#690000 3.5px,#710000 4.5px,#b90000 8.5px,#f40000 14.5px,#ff0500 17.5px,#ff1700 28.5px,#ff2100 68.5px,#ff1e00 103.5px)"></i>
<i style="top:58px;background:linear-gradient(90deg,#ffc400 0.5px,#ffc400 1.5px,#ff3200 2.5px,#a20000 3.5px,#5a0000 4.5px,#410000 5.5px,#3e0000 7.5px,#890000 20.5px,#a80000 34.5px,#c90000 71.5px,#d00000 103.5px)"></i>
<i style="top:59px;background:linear-gradient(90deg,#ff2c00 0.5px,#ff9600 1.5px,#ff9d00 2.5px,#ff4900 3.5px,#d00000 4.5px,#7f0000 5.5px,#540000 6.5px,#360000 8.5px,#280000 12.5px,#540000 40.5px,#760000 85.5px,#790000 103.5px)"></i>
<i style="top:60px;background:linear-gradient(90deg,#8d0000 0.5px,#ff1900 1.5px,#ff6a00 2.5px,#ff7300 3.5px,#ff4c00 4.5px,#fe0000 5.5px,#bc0000 6.5px,#950000 7.5px,#560000 10.5px,#2e0000 14.5px,#1d0000 21.5px,#390000 103.5px)"></i>
<i style="top:61px;background:linear-gradient(90deg,#300000 0.5px,#ff0300 2.5px,#ff4000 3.5px,#ff4b00 4.5px,#ff3a00 5.5px,#f00 7.5px,#8d0000 12.5px,#540000 16.5px,#2e0000 22.5px,#1b0000 36.5px,#1a0000 103.5px)"></i>
<i style="top:62px;background:linear-gradient(90deg,#0b0000 0.5px,#3d0000 1.5px,#e90000 3.5px,#ff1700 4.5px,#ff2400 5.5px,#ff1400 9.5px,#fa0000 11.5px,#900000 18.5px,#5e0000 24.5px,#3f0000 34.5px,#200000 62.5px,#180000 103.5px)"></i>
<i style="top:63px;background:linear-gradient(90deg,#020000 0.5px,#130000 1.5px,#470000 2.5px,#8f0000 3.5px,#cb0000 4.5px,#e00 5.5px,#fd0000 6.5px,#ff0f00 11.5px,#fe0000 15.5px,#a90000 25.5px,#780000 38.5px,#490000 61.5px,#300 95.5px,#320000 103.5px)"></i>
<i style="top:64px;background:linear-gradient(90deg,#000 0.5px,#050000 1.5px,#1b0000 2.5px,#810000 4.5px,#ac0000 5.5px,#d60000 7.5px,#f70000 11.5px,#f00 18.5px,#940000 57.5px,#6e0000 84.5px,#670000 103.5px)"></i>
<i style="top:65px;background:linear-gradient(90deg,#000 0.5px,#090000 2.5px,#210000 3.5px,#6d0000 5.5px,#9d0000 7.5px,#d50000 12.5px,#f20000 19.5px,#e00 39.5px,#b10000 85.5px,#a90000 103.5px)"></i>
<i style="top:66px;background:linear-gradient(90deg,#000 0.5px,#020000 2.5px,#0c0000 3.5px,#560000 6.5px,#900 11.5px,#c80000 17.5px,#e30000 26.5px,#e80000 56.5px,#da0000 103.5px)"></i>
<i style="top:67px;background:linear-gradient(90deg,#000 0.5px,#040000 3.5px,#520000 9.5px,#9a0000 17.5px,#be0000 25.5px,#d90000 49.5px,#de0000 103.5px)"></i>
<i style="top:68px;background:linear-gradient(90deg,#000 0.5px,#050000 4.5px,#720000 18.5px,#9b0000 28.5px,#c20000 58.5px,#cf0000 103.5px)"></i>
<i style="top:69px;background:linear-gradient(90deg,#000 0.5px,#0a0000 6.5px,#640000 24.5px,#950000 50.5px,#b00000 87.5px,#b30000 103.5px)"></i>
<i style="top:70px;background:linear-gradient(90deg,#000 0.5px,#0b0000 9.5px,#4c0000 29.5px,#820000 69.5px,#8f0000 103.5px)"></i>
<i style="top:71px;background:linear-gradient(90deg,#000 0.5px,#0e0000 14.5px,#380000 36.5px,#600 82.5px,#6b0000 103.5px)"></i>
<i style="top:72px;background:linear-gradient(90deg,#000 0.5px,#0e0000 20.5px,#430000 77.5px,#4a0000 103.5px)"></i>
<i style="top:73px;background:linear-gradient(90deg,#000 0.5px,#180000 46.5px,#300000 101.5px,#300000 103.5px)"></i>
<i style="top:74px;background:linear-gradient(90deg,#000 0.5px,#1d0000 103.5px)"></i>
<i style="top:75px;background:linear-gradient(90deg,#000 0.5px,#100000 103.5px)"></i>
<i style="top:76px;background:linear-gradient(90deg,#000 0.5px,#080000 103.5px)"></i>
<i style="top:77px;background:linear-gradient(90deg,#000 0.5px,#040000 103.5px)"></i>
</div>
<div class="p q" style="left:47px;top:290px">
<i style="top:23px;background:linear-gradient(90deg,#000 0.5px,#050000 103.5px)"></i>
<i style="top:24px;background:linear-gradient(90deg,#000 0.5px,#050000 100.5px,#0d0000 103.5px)"></i>
<i style="top:25px;background:linear-gradient(90deg,#000 0.5px,#050000 97.5px,#1c0000 103.5px)"></i>
<i style="top:26px;background:linear-gradient(90deg,#000 0.5px,#050000 94.5px,#1c0000 100.5px,#340000 103.5px)"></i>
<i style="top:27px;background:linear-gradient(90deg,#000 0.5px,#050000 91.5px,#1c0000 97.5px,#510000 103.5px)"></i>
<i style="top:28px;background:linear-gradient(90deg,#000 0.5px,#050000 88.5px,#1c0000 94.5px,#6c0000 103.5px)"></i>
<i style="top:29px;background:linear-gradient(90deg,#000 0.5px,#050000 85.5px,#1c0000 91.5px,#730000 101.5px,#7a0000 103.5px)"></i>
<i style="top:30px;background:linear-gradient(90deg,#000 0.5px,#050000 82.5px,#1d0000 88.5px,#750000 98.5px,#7c0000 101.5px,#710000 103.5px)"></i>
<i style="top:31px;background:linear-gradient(90deg,#000 0.5px,#050000 79.5px,#1e0000 85.5px,#780000 95.5px,#7a0000 99.5px,#4e0000 103.5px)"></i>
<i style="top:32px;background:linear-gradient(90deg,#000 0.5px,#040000 75.5px,#200000 82.5px,#7a0000 92.5px,#7c0000 96.5px,#290000 103.5px)"></i>
<i style="top:33px;background:linear-gradient(90deg,#000 0.5px,#040000 72.5px,#230000 79.5px,#7d0000 89.5px,#7d0000 93.5px,#210000 101.5px,#180000 103.5px)"></i>
<i style="top:34px;background:linear-gradient(90deg,#000 0.5px,#040000 69.5px,#1f0000 75.5px,#800000 86.5px,#830000 89.5px,#680000 92.5px,#290000 97.5px,#1b0000 101.5px,#230000 103.5px)"></i>
<i style="top:35px;background:linear-gradient(90deg,#000 0.5px,#050000 67.5px,#290000 73.5px,#780000 81.5px,#870000 85.5px,#730000 88.5px,#290000 94.5px,#1e0000 97.5px,#300 101.5px,#4b0000 103.5px)"></i>
<i style="top:36px;background:linear-gradient(90deg,#000 0.5px,#050000 64.5px,#1f0000 69.5px,#7e0000 78.5px,#800 82.5px,#700000 85.5px,#300000 90.5px,#210000 93.5px,#2b0000 96.5px,#5a0000 100.5px,#8d0000 103.5px)"></i>
<i style="top:37px;background:linear-gradient(90deg,#000 0.5px,#050000 61.5px,#1d0000 66.5px,#7b0000 74.5px,#8c0000 78.5px,#790000 81.5px,#2e0000 87.5px,#240000 90.5px,#340000 93.5px,#6b0000 97.5px,#d50000 103.5px)"></i>
<i style="top:38px;background:linear-gradient(90deg,#000 0.5px,#040000 57.5px,#160000 62.5px,#4a0000 67.5px,#860000 72.5px,#8e0000 75.5px,#750000 78.5px,#340000 83.5px,#270000 86.5px,#350000 89.5px,#6c0000 93.5px,#da0000 99.5px,#fc0000 102.5px,#ff0100 103.5px)"></i>
<i style="top:39px;background:linear-gradient(90deg,#000 0.5px,#050000 54.5px,#1f0000 60.5px,#860000 69.5px,#8d0000 72.5px,#6e0000 75.5px,#380000 79.5px,#280000 82.5px,#350000 85.5px,#6d0000 89.5px,#df0000 95.5px,#fa0000 97.5px,#ff0600 101.5px,#f50000 103.5px)"></i>
<i style="top:40px;background:linear-gradient(90deg,#000 0.5px,#040000 50.5px,#1d0000 56.5px,#5b0000 62.5px,#8c0000 67.5px,#8d0000 69.5px,#680000 72.5px,#310000 76.5px,#280000 79.5px,#3e0000 82.5px,#820000 86.5px,#f30000 92.5px,#f00 93.5px,#ff0e00 96.5px,#f80000 99.5px,#b60000 103.5px)"></i>
<i style="top:41px;background:linear-gradient(90deg,#000 0.5px,#040000 46.5px,#1d0000 52.5px,#630000 59.5px,#890000 63.5px,#8d0000 66.5px,#640000 69.5px,#340000 72.5px,#240000 75.5px,#390000 78.5px,#800000 82.5px,#e80000 87.5px,#ff0400 89.5px,#ff1200 92.5px,#fa0000 95.5px,#690000 103.5px)"></i>
<i style="top:42px;background:linear-gradient(90deg,#000 0.5px,#040000 41.5px,#190000 47.5px,#590000 54.5px,#8a0000 59.5px,#920000 62.5px,#820000 64.5px,#2f0000 69.5px,#200000 71.5px,#300000 74.5px,#640000 77.5px,#ea0000 83.5px,#fa0000 84.5px,#ff1400 87.5px,#ff0700 90.5px,#eb0000 92.5px,#500 100.5px,#2f0000 103.5px)"></i>
<i style="top:43px;background:linear-gradient(90deg,#000 0.5px,#050000 37.5px,#1f0000 43.5px,#870000 54.5px,#970000 58.5px,#8d0000 60.5px,#2a0000 66.5px,#1a0000 68.5px,#210000 70.5px,#560000 73.5px,#eb0000 79.5px,#fc0000 80.5px,#ff1700 83.5px,#ff0700 86.5px,#e80000 88.5px,#500000 96.5px,#1b0000 101.5px,#100 103.5px)"></i>
<i style="top:44px;background:linear-gradient(90deg,#000 0.5px,#050000 32.5px,#230000 38.5px,#910000 49.5px,#9c0000 54.5px,#830000 57.5px,#240000 63.5px,#150000 66.5px,#250000 68.5px,#520000 70.5px,#cf0000 74.5px,#fd0000 76.5px,#ff1b00 79.5px,#ff1300 81.5px,#f80000 83.5px,#5a0000 91.5px,#280000 95.5px,#080000 101.5px,#050000 103.5px)"></i>
<i style="top:45px;background:linear-gradient(90deg,#030000 0.5px,#0d0000 28.5px,#2f0000 33.5px,#9d0000 43.5px,#ae0000 47.5px,#a40000 50.5px,#5f0000 55.5px,#260000 59.5px,#160000 62.5px,#250000 65.5px,#480000 67.5px,#b40000 70.5px,#f70000 72.5px,#ff1a00 74.5px,#ff1f00 76.5px,#f90000 79.5px,#650000 86.5px,#2d0000 90.5px,#090000 96.5px,#010000 103.5px)"></i>
<i style="top:46px;background:linear-gradient(90deg,#280000 0.5px,#3a0000 21.5px,#4b0000 27.5px,#7c0000 31.5px,#bd0000 36.5px,#d00000 40.5px,#c40000 44.5px,#970000 47.5px,#410000 52.5px,#1b0000 56.5px,#1c0000 59.5px,#370000 62.5px,#700000 65.5px,#af0000 67.5px,#f90000 69.5px,#ff2300 71.5px,#ff1f00 73.5px,#fd0000 75.5px,#720000 81.5px,#300 85.5px,#130000 89.5px,#020000 97.5px,#000 103.5px)"></i>
<i style="top:47px;background:linear-gradient(90deg,#c60000 0.5px,#dc0000 19.5px,#f30000 27.5px,#ff0d00 30.5px,#ff1a00 33.5px,#ff0700 37.5px,#fc0000 38.5px,#b30000 42.5px,#510000 46.5px,#240000 49.5px,#150000 53.5px,#270000 56.5px,#860000 61.5px,#ff0200 66.5px,#ff2900 68.5px,#ff2c00 69.5px,#f20 70.5px,#ff0c00 71.5px,#ef0000 72.5px,#820000 76.5px,#3a0000 80.5px,#150000 84.5px,#020000 91.5px,#000 103.5px)"></i>
<i style="top:48px;background:linear-gradient(90deg,#ff7a00 0.5px,#ff7300 27.5px,#ff5800 30.5px,#f90000 35.5px,#5d0000 42.5px,#320000 45.5px,#240000 49.5px,#2c0000 51.5px,#570000 54.5px,#a80000 57.5px,#f50000 60.5px,#ff1800 62.5px,#f30 65.5px,#ff2700 67.5px,#f10 68.5px,#f00000 69.5px,#840000 72.5px,#420000 75.5px,#180000 79.5px,#030000 86.5px,#000 103.5px)"></i>
<i style="top:49px;background:linear-gradient(90deg,#ff6d00 0.5px,#ff5a00 25.5px,#f40 28.5px,#fb0000 32.5px,#c10000 36.5px,#9a0000 41.5px,#910000 46.5px,#a30000 50.5px,#ff0400 55.5px,#ff2c00 57.5px,#ff3b00 59.5px,#ff2e00 62.5px,#fe0000 65.5px,#c60000 67.5px,#5d0000 70.5px,#310000 72.5px,#0e0000 76.5px,#000 87.5px,#000 103.5px)"></i>
<i style="top:50px;background:linear-gradient(90deg,#ff7100 0.5px,#ff6c00 27.5px,#ff4f00 33.5px,#ff7a00 43.5px,#ff6f00 53.5px,#ff5c00 55.5px,#ff0600 59.5px,#870000 65.5px,#2b0000 69.5px,#0c0000 72.5px,#000 84.5px,#000 103.5px)"></i>
<i style="top:51px;background:linear-gradient(90deg,#ffac00 0.5px,#ffba00 32.5px,#ffde00 36.5px,#ffff03 39.5px,#ffff26 42.5px,#ffff23 45.5px,#ffff01 48.5px,#ffe800 50.5px,#ff9f00 53.5px,#ff5400 55.5px,#fa0000 57.5px,#b90000 59.5px,#690000 63.5px,#1a0000 68.5px,#030000 72.5px,#000 103.5px)"></i>
<i style="top:52px;background:linear-gradient(90deg,#ff7f00 0.5px,#ff7c00 28.5px,#ff6e00 32.5px,#ff8700 37.5px,#ffa800 42.5px,#ffa200 48.5px,#ff8c00 52.5px,#ff7300 54.5px,#ff2600 57.5px,#ff0a00 58.5px,#da0000 60.5px,#200 69.5px,#090000 72.5px,#000 86.5px,#000 103.5px)"></i>
<i style="top:53px;background:linear-gradient(90deg,#ff6400 0.5px,#ff5400 24.5px,#ff4a00 27.5px,#fe0000 32.5px,#d20000 36.5px,#ba0000 42.5px,#bc0000 47.5px,#cb0000 50.5px,#fb0000 53.5px,#ff3900 57.5px,#ff3600 60.5px,#fd0000 64.5px,#cd0000 66.5px,#4c0000 70.5px,#260000 72.5px,#0b0000 76.5px,#000 89.5px,#000 103.5px)"></i>
<i style="top:54px;background:linear-gradient(90deg,#ff8400 0.5px,#ff7900 26.5px,#ff6100 29.5px,#ff1500 33.5px,#fe0000 34.5px,#680000 41.5px,#3e0000 44.5px,#300000 48.5px,#3d0000 51.5px,#6f0000 54.5px,#f90000 59.5px,#ff3000 63.5px,#f30 65.5px,#ff1b00 67.5px,#fe0000 68.5px,#8e0000 71.5px,#580000 73.5px,#290000 76.5px,#0a0000 81.5px,#000 96.5px,#000 103.5px)"></i>
<i style="top:55px;background:linear-gradient(90deg,#f30000 0.5px,#ff0500 18.5px,#ff1900 27.5px,#ff2c00 32.5px,#ff1300 36.5px,#f70000 38.5px,#860000 43.5px,#410000 46.5px,#1d0000 49.5px,#150000 52.5px,#250000 55.5px,#5b0000 58.5px,#fe0000 65.5px,#ff2500 67.5px,#ff2e00 68.5px,#ff2900 69.5px,#fa0000 71.5px,#870000 75.5px,#4a0000 78.5px,#1d0000 82.5px,#070000 87.5px,#000 103.5px)"></i>
<i style="top:56px;background:linear-gradient(90deg,#3b0000 0.5px,#4e0000 19.5px,#650000 27.5px,#c00 35.5px,#dc0000 39.5px,#cb0000 43.5px,#9b0000 46.5px,#4d0000 50.5px,#210000 54.5px,#180000 57.5px,#2b0000 60.5px,#570000 63.5px,#a30000 66.5px,#eb0000 68.5px,#ff0b00 69.5px,#ff2000 70.5px,#ff2700 71.5px,#ff1700 73.5px,#ff0400 74.5px,#620000 81.5px,#290000 85.5px,#0b0000 90.5px,#000 103.5px)"></i>
<i style="top:57px;background:linear-gradient(90deg,#050000 0.5px,#100 27.5px,#290000 31.5px,#9c0000 41.5px,#b20000 45.5px,#a70000 49.5px,#500000 55.5px,#1f0000 59.5px,#180000 62.5px,#2e0000 65.5px,#590000 67.5px,#ed0000 71.5px,#ff0800 72.5px,#ff2000 74.5px,#ff1b00 76.5px,#fd0000 78.5px,#560000 86.5px,#240000 90.5px,#070000 96.5px,#010000 103.5px)"></i>
<i style="top:58px;background:linear-gradient(90deg,#000 0.5px,#060000 31.5px,#240000 37.5px,#940000 48.5px,#9f0000 52.5px,#920000 55.5px,#270000 62.5px,#150000 65.5px,#1e0000 67.5px,#400 69.5px,#c70000 73.5px,#f90000 75.5px,#ff1c00 78.5px,#ff1600 80.5px,#fb0000 82.5px,#5c0000 90.5px,#200000 95.5px,#060000 101.5px,#030000 103.5px)"></i>
<i style="top:59px;background:linear-gradient(90deg,#000 0.5px,#050000 36.5px,#200000 42.5px,#800 53.5px,#980000 57.5px,#900000 59.5px,#4e0000 63.5px,#200 66.5px,#180000 68.5px,#260000 70.5px,#600 73.5px,#e70000 78.5px,#f90000 79.5px,#ff1700 82.5px,#ff0900 85.5px,#fb0000 86.5px,#520000 95.5px,#1c0000 100.5px,#0d0000 103.5px)"></i>
<i style="top:60px;background:linear-gradient(90deg,#000 0.5px,#040000 40.5px,#180000 46.5px,#630000 54.5px,#8f0000 59.5px,#910000 62.5px,#500 66.5px,#270000 69.5px,#1f0000 71.5px,#380000 74.5px,#8c0000 78.5px,#e60000 82.5px,#f80000 83.5px,#ff1400 86.5px,#ff0900 89.5px,#fc0000 90.5px,#8d0000 96.5px,#490000 100.5px,#270000 103.5px)"></i>
<i style="top:61px;background:linear-gradient(90deg,#000 0.5px,#040000 45.5px,#1c0000 51.5px,#6c0000 59.5px,#8d0000 63.5px,#800 66.5px,#2d0000 72.5px,#250000 75.5px,#420000 78.5px,#bd0000 84.5px,#f50000 87.5px,#ff0c00 89.5px,#ff1000 92.5px,#fd0000 94.5px,#a40000 99.5px,#5b0000 103.5px)"></i>
<i style="top:62px;background:linear-gradient(90deg,#000 0.5px,#040000 49.5px,#1b0000 55.5px,#570000 61.5px,#8a0000 66.5px,#890000 69.5px,#300 75.5px,#270000 78.5px,#3b0000 81.5px,#7e0000 85.5px,#f10000 91.5px,#fe0000 92.5px,#ff0f00 95.5px,#fb0000 98.5px,#a60000 103.5px)"></i>
<i style="top:63px;background:linear-gradient(90deg,#000 0.5px,#050000 53.5px,#1d0000 59.5px,#530000 64.5px,#8a0000 69.5px,#8a0000 72.5px,#310000 79.5px,#290000 82.5px,#3d0000 85.5px,#7d0000 89.5px,#ec0000 95.5px,#ff0300 97.5px,#ff0800 100.5px,#f80000 102.5px,#eb0000 103.5px)"></i>
<i style="top:64px;background:linear-gradient(90deg,#000 0.5px,#050000 57.5px,#1a0000 62.5px,#520000 67.5px,#830000 71.5px,#8f0000 74.5px,#790000 77.5px,#370000 82.5px,#270000 85.5px,#300 88.5px,#690000 92.5px,#e70000 99.5px,#ff0200 102.5px,#ff0400 103.5px)"></i>
<i style="top:65px;background:linear-gradient(90deg,#000 0.5px,#040000 60.5px,#1a0000 65.5px,#810000 74.5px,#8b0000 78.5px,#710000 81.5px,#310000 86.5px,#240000 89.5px,#3c0000 93.5px,#8c0000 98.5px,#e10000 103.5px)"></i>
<i style="top:66px;background:linear-gradient(90deg,#000 0.5px,#040000 63.5px,#1b0000 68.5px,#7c0000 77.5px,#890000 81.5px,#750000 84.5px,#2b0000 90.5px,#200 93.5px,#3c0000 97.5px,#9b0000 103.5px)"></i>
<i style="top:67px;background:linear-gradient(90deg,#000 0.5px,#040000 66.5px,#1d0000 71.5px,#7d0000 81.5px,#860000 85.5px,#6b0000 88.5px,#2c0000 93.5px,#1e0000 96.5px,#310000 100.5px,#560000 103.5px)"></i>
<i style="top:68px;background:linear-gradient(90deg,#000 0.5px,#050000 69.5px,#240000 75.5px,#7f0000 85.5px,#840000 88.5px,#6c0000 91.5px,#2d0000 96.5px,#1b0000 100.5px,#280000 103.5px)"></i>
<i style="top:69px;background:linear-gradient(90deg,#000 0.5px,#040000 71.5px,#1a0000 77.5px,#7b0000 88.5px,#7f0000 92.5px,#530000 96.5px,#240000 100.5px,#180000 103.5px)"></i>
<i style="top:70px;background:linear-gradient(90deg,#000 0.5px,#050000 75.5px,#1e0000 81.5px,#780000 91.5px,#7e0000 95.5px,#530000 99.5px,#240000 103.5px)"></i>
<i style="top:71px;background:linear-gradient(90deg,#000 0.5px,#050000 78.5px,#1c0000 84.5px,#760000 94.5px,#7c0000 98.5px,#610000 101.5px,#460000 103.5px)"></i>
<i style="top:72px;background:linear-gradient(90deg,#000 0.5px,#040000 81.5px,#1b0000 87.5px,#730000 97.5px,#7b0000 101.5px,#6b0000 103.5px)"></i>
<i style="top:73px;background:linear-gradient(90deg,#000 0.5px,#040000 84.5px,#1a0000 90.5px,#700 101.5px,#7b0000 103.5px)"></i>
<i style="top:74px;background:linear-gradient(90deg,#000 0.5px,#040000 87.5px,#200000 94.5px,#700000 103.5px)"></i>
<i style="top:75px;background:linear-gradient(90deg,#000 0.5px,#040000 90.5px,#200000 97.5px,#570000 103.5px)"></i>
<i style="top:76px;background:linear-gradient(90deg,#000 0.5px,#040000 93.5px,#200000 100.5px,#3a0000 103.5px)"></i>
<i style="top:77px;background:linear-gradient(90deg,#000 0.5px,#040000 96.5px,#200000 103.5px)"></i>
<i style="top:78px;background:linear-gradient(90deg,#000 0.5px,#040000 99.5px,#100000 103.5px)"></i>
<i style="top:79px;background:linear-gradient(90deg,#000 0.5px,#040000 102.5px,#060000 103.5px)"></i>
</div>
<div class="p q" style="left:159px;top:290px">
<i style="top:16px;background:linear-gradient(90deg,#000 0.5px,#040000 102.5px,#060000 103.5px)"></i>
<i style="top:17px;background:linear-gradient(90deg,#000 0.5px,#050000 100.5px,#100000 103.5px)"></i>
<i style="top:18px;background:linear-gradient(90deg,#000 0.5px,#050000 98.5px,#200 103.5px)"></i>
<i style="top:19px;background:linear-gradient(90deg,#000 0.5px,#040000 95.5px,#1c0000 100.5px,#3e0000 103.5px)"></i>
<i style="top:20px;background:linear-gradient(90deg,#000 0.5px,#050000 93.5px,#200000 98.5px,#5e0000 103.5px)"></i>
<i style="top:21px;background:linear-gradient(90deg,#000 0.5px,#040000 90.5px,#1b0000 95.5px,#780000 103.5px)"></i>
<i style="top:22px;background:linear-gradient(90deg,#000 0.5px,#050000 88.5px,#200000 93.5px,#7c0000 101.5px,#820000 103.5px)"></i>
<i style="top:23px;background:linear-gradient(90deg,#000 0.5px,#050000 85.5px,#1c0000 90.5px,#790000 98.5px,#820000 101.5px,#6a0000 103.5px)"></i>
<i style="top:24px;background:linear-gradient(90deg,#000 0.5px,#040000 82.5px,#200 88.5px,#7e0000 96.5px,#810000 99.5px,#450000 103.5px)"></i>
<i style="top:25px;background:linear-gradient(90deg,#000 0.5px,#050000 80.5px,#200000 85.5px,#7c0000 93.5px,#860000 96.5px,#610000 99.5px,#400000 102.5px,#410000 103.5px)"></i>
<i style="top:26px;background:linear-gradient(90deg,#000 0.5px,#040000 77.5px,#1e0000 82.5px,#7a0000 90.5px,#800 93.5px,#7a0000 95.5px,#500000 98.5px,#4a0000 100.5px,#5f0000 102.5px,#730000 103.5px)"></i>
<i style="top:27px;background:linear-gradient(90deg,#000 0.5px,#030000 74.5px,#1b0000 79.5px,#820000 88.5px,#800 91.5px,#520000 96.5px,#570000 98.5px,#790000 100.5px,#c40000 103.5px)"></i>
<i style="top:28px;background:linear-gradient(90deg,#000 0.5px,#040000 72.5px,#180000 76.5px,#620000 82.5px,#800 86.5px,#850000 89.5px,#590000 93.5px,#5d0000 95.5px,#7d0000 97.5px,#e10000 101.5px,#fe0000 103.5px)"></i>
<i style="top:29px;background:linear-gradient(90deg,#000 0.5px,#040000 70.5px,#1c0000 74.5px,#830000 82.5px,#8d0000 85.5px,#5e0000 90.5px,#600000 92.5px,#800000 94.5px,#e60000 98.5px,#f80000 99.5px,#ff0700 101.5px,#ff0100 102.5px,#f20000 103.5px)"></i>
<i style="top:30px;background:linear-gradient(90deg,#000 0.5px,#040000 68.5px,#200000 72.5px,#820000 79.5px,#8f0000 82.5px,#5f0000 87.5px,#610000 89.5px,#800000 91.5px,#e90000 95.5px,#fc0000 96.5px,#ff0a00 98.5px,#ff0300 99.5px,#d00 101.5px,#a60000 103.5px)"></i>
<i style="top:31px;background:linear-gradient(90deg,#000 0.5px,#040000 66.5px,#160000 69.5px,#800000 76.5px,#910000 79.5px,#830000 81.5px,#5e0000 84.5px,#5f0000 86.5px,#7e0000 88.5px,#eb0000 92.5px,#fe0000 93.5px,#ff0d00 95.5px,#f50000 97.5px,#520000 103.5px)"></i>
<i style="top:32px;background:linear-gradient(90deg,#000 0.5px,#030000 64.5px,#160000 67.5px,#5a0000 71.5px,#870000 74.5px,#910000 77.5px,#5e0000 81.5px,#5b0000 83.5px,#790000 85.5px,#ea0000 89.5px,#f00 90.5px,#ff1000 92.5px,#f70000 94.5px,#4f0000 100.5px,#1d0000 103.5px)"></i>
<i style="top:33px;background:linear-gradient(90deg,#000 0.5px,#030000 62.5px,#160000 65.5px,#480000 68.5px,#820000 71.5px,#940000 74.5px,#570000 79.5px,#5f0000 81.5px,#8c0000 83.5px,#e80000 86.5px,#f00 87.5px,#ff1300 89.5px,#fa0000 91.5px,#4c0000 97.5px,#1b0000 100.5px,#080000 103.5px)"></i>
<i style="top:34px;background:linear-gradient(90deg,#000 0.5px,#030000 60.5px,#150000 63.5px,#480000 66.5px,#860000 69.5px,#960000 71.5px,#860000 73.5px,#560000 76.5px,#510000 77.5px,#670000 79.5px,#a00000 81.5px,#fc0000 84.5px,#ff1500 86.5px,#fe0000 88.5px,#c70000 90.5px,#4c0000 94.5px,#1a0000 97.5px,#040000 101.5px,#010000 103.5px)"></i>
<i style="top:35px;background:linear-gradient(90deg,#000 0.5px,#040000 58.5px,#150000 61.5px,#4b0000 64.5px,#800 67.5px,#980000 69.5px,#800000 71.5px,#580000 73.5px,#4e0000 75.5px,#5a0000 76.5px,#910000 78.5px,#f60000 81.5px,#ff1600 83.5px,#ff1300 84.5px,#ff0400 85.5px,#eb0000 86.5px,#4e0000 91.5px,#260000 93.5px,#0a0000 96.5px,#000 103.5px)"></i>
<i style="top:36px;background:linear-gradient(90deg,#000 0.5px,#040000 55.5px,#190000 59.5px,#370000 61.5px,#8d0000 65.5px,#9b0000 67.5px,#920000 68.5px,#510000 71.5px,#490000 72.5px,#4e0000 73.5px,#600000 74.5px,#a10000 76.5px,#eb0000 78.5px,#ff0700 79.5px,#ff1600 80.5px,#ff1700 81.5px,#ff0a00 82.5px,#f20000 83.5px,#510000 88.5px,#270000 90.5px,#0a0000 93.5px,#000 103.5px)"></i>
<i style="top:37px;background:linear-gradient(90deg,#000 0.5px,#030000 52.5px,#160000 56.5px,#400000 59.5px,#940000 63.5px,#9e0000 65.5px,#930000 66.5px,#4e0000 69.5px,#480000 70.5px,#510000 71.5px,#680000 72.5px,#fb0000 76.5px,#ff1a00 78.5px,#fc0000 80.5px,#500 85.5px,#290000 87.5px,#0a0000 90.5px,#000 100.5px,#000 103.5px)"></i>
<i style="top:38px;background:linear-gradient(90deg,#000 0.5px,#050000 50.5px,#1e0000 54.5px,#4c0000 57.5px,#9c0000 61.5px,#a50000 62.5px,#a30000 63.5px,#7a0000 65.5px,#4e0000 67.5px,#480000 68.5px,#530000 69.5px,#6f0000 70.5px,#e90000 73.5px,#ff0900 74.5px,#ff1900 75.5px,#ff1900 76.5px,#ff0a00 77.5px,#ed0000 78.5px,#5d0000 82.5px,#2d0000 84.5px,#0b0000 87.5px,#000 95.5px,#000 103.5px)"></i>
<i style="top:39px;background:linear-gradient(90deg,#000 0.5px,#050000 47.5px,#1d0000 51.5px,#5b0000 55.5px,#a30000 59.5px,#a00 60.5px,#a50000 61.5px,#5a0000 64.5px,#4a0000 65.5px,#480000 66.5px,#500 67.5px,#740000 68.5px,#f60000 71.5px,#ff1d00 73.5px,#ff1600 74.5px,#fe0000 75.5px,#4a0000 80.5px,#210000 82.5px,#070000 85.5px,#000 102.5px,#000 103.5px)"></i>
<i style="top:40px;background:linear-gradient(90deg,#000 0.5px,#050000 43.5px,#140000 47.5px,#360000 50.5px,#9f0000 56.5px,#a00 58.5px,#9e0000 59.5px,#4e0000 62.5px,#420000 63.5px,#460000 64.5px,#590000 65.5px,#790000 66.5px,#f00 69.5px,#ff1900 70.5px,#ff1e00 71.5px,#ff1000 72.5px,#f20000 73.5px,#570000 77.5px,#270000 79.5px,#080000 82.5px,#000 94.5px,#000 103.5px)"></i>
<i style="top:41px;background:linear-gradient(90deg,#000 0.5px,#040000 39.5px,#230000 45.5px,#5a0000 49.5px,#9e0000 53.5px,#a00 55.5px,#a30000 56.5px,#730000 58.5px,#400000 60.5px,#390000 61.5px,#430000 62.5px,#5c0000 63.5px,#af0000 65.5px,#de0000 66.5px,#ff0700 67.5px,#ff1e00 68.5px,#ff1f00 69.5px,#ff0b00 70.5px,#e60000 71.5px,#680000 74.5px,#2f0000 76.5px,#120000 78.5px,#010000 82.5px,#000 103.5px)"></i>
<i style="top:42px;background:linear-gradient(90deg,#000 0.5px,#060000 36.5px,#1b0000 40.5px,#640000 46.5px,#9f0000 50.5px,#a00 52.5px,#a50000 53.5px,#7a0000 55.5px,#400 57.5px,#350000 58.5px,#340000 59.5px,#430000 60.5px,#620000 61.5px,#eb0000 64.5px,#ff1000 65.5px,#ff2300 66.5px,#ff2000 67.5px,#ff0700 68.5px,#de0000 69.5px,#800000 71.5px,#3b0000 73.5px,#160000 75.5px,#020000 79.5px,#000 103.5px)"></i>
<i style="top:43px;background:linear-gradient(90deg,#000 0.5px,#060000 31.5px,#1b0000 36.5px,#4c0000 40.5px,#910000 45.5px,#a90000 48.5px,#a20000 50.5px,#790000 52.5px,#320000 55.5px,#2b0000 56.5px,#320000 57.5px,#480000 58.5px,#9b0000 60.5px,#f90000 62.5px,#ff1a00 63.5px,#ff2700 64.5px,#ff1e00 65.5px,#ff0300 66.5px,#a50000 68.5px,#4f0000 70.5px,#310000 71.5px,#100 73.5px,#010000 77.5px,#000 103.5px)"></i>
<i style="top:44px;background:linear-gradient(90deg,#000 0.5px,#060000 23.5px,#1f0000 31.5px,#500000 36.5px,#9b0000 41.5px,#ac0000 44.5px,#a50000 46.5px,#850000 48.5px,#2e0000 52.5px,#240000 54.5px,#320000 55.5px,#500000 56.5px,#af0000 58.5px,#e10000 59.5px,#ff0b00 60.5px,#ff2400 61.5px,#ff2900 62.5px,#f70000 64.5px,#470000 68.5px,#180000 70.5px,#030000 73.5px,#000 103.5px)"></i>
<i style="top:45px;background:linear-gradient(90deg,#020000 0.5px,#0b0000 18.5px,#570000 30.5px,#ac0000 38.5px,#af0000 41.5px,#820000 44.5px,#2f0000 48.5px,#190000 50.5px,#230000 52.5px,#3a0000 53.5px,#5e0000 54.5px,#f80000 57.5px,#ff1d00 58.5px,#ff2d00 59.5px,#ff2700 60.5px,#ff0f00 61.5px,#e70000 62.5px,#610000 65.5px,#260000 67.5px,#0b0000 69.5px,#000 74.5px,#000 103.5px)"></i>
<i style="top:46px;background:linear-gradient(90deg,#230000 0.5px,#360000 13.5px,#4d0000 18.5px,#940000 24.5px,#c10000 33.5px,#b70000 37.5px,#940000 39.5px,#3b0000 43.5px,#160000 46.5px,#100000 48.5px,#280000 50.5px,#460000 51.5px,#ac0000 53.5px,#e30000 54.5px,#ff1200 55.5px,#ff2e00 56.5px,#ff3200 57.5px,#ff1f00 58.5px,#fc0000 59.5px,#700 62.5px,#340000 64.5px,#120000 66.5px,#020000 69.5px,#000 103.5px)"></i>
<i style="top:47px;background:linear-gradient(90deg,#be0000 0.5px,#d90000 11.5px,#f00 18.5px,#ff1600 21.5px,#ff0f00 25.5px,#ff0100 27.5px,#cd0000 32.5px,#7d0000 36.5px,#280000 40.5px,#140000 42.5px,#100 45.5px,#260000 47.5px,#3c0000 48.5px,#5f0000 49.5px,#ff0300 52.5px,#ff2b00 53.5px,#ff3900 54.5px,#ff2d00 55.5px,#ff0d00 56.5px,#e00000 57.5px,#600000 60.5px,#280000 62.5px,#0d0000 64.5px,#000 69.5px,#000 103.5px)"></i>
<i style="top:48px;background:linear-gradient(90deg,#ff8e00 0.5px,#f90 17.5px,#ff8700 19.5px,#fc0000 26.5px,#500 34.5px,#260000 38.5px,#1f0000 41.5px,#3e0000 44.5px,#6f0000 46.5px,#c00000 48.5px,#f20000 49.5px,#ff2000 50.5px,#ff3a00 51.5px,#ff3800 52.5px,#ff1a00 53.5px,#ea0000 54.5px,#890000 56.5px,#400 58.5px,#1c0000 60.5px,#050000 63.5px,#000 103.5px)"></i>
<i style="top:49px;background:linear-gradient(90deg,#ff8c00 0.5px,#ff8600 15.5px,#ff7e00 17.5px,#ff5c00 19.5px,#f00 23.5px,#b90000 28.5px,#890000 34.5px,#850000 39.5px,#900000 41.5px,#d00000 44.5px,#ec0000 45.5px,#ff0c00 46.5px,#ff3c00 48.5px,#ff3f00 49.5px,#ff2a00 50.5px,#fc0000 51.5px,#8a0000 53.5px,#5e0000 54.5px,#280000 56.5px,#0a0000 59.5px,#000 66.5px,#000 103.5px)"></i>
<i style="top:50px;background:linear-gradient(90deg,#ff8200 0.5px,#ff8900 17.5px,#ff6300 23.5px,#ff7000 34.5px,#ff6300 44.5px,#ff4900 46.5px,#ff2e00 47.5px,#ff0700 48.5px,#d30000 49.5px,#600 51.5px,#3e0000 52.5px,#140000 54.5px,#020000 58.5px,#000 103.5px)"></i>
<i style="top:51px;background:linear-gradient(90deg,#ffc300 0.5px,#ffd900 14.5px,#ffef00 23.5px,#fffe00 25.5px,#ffff40 31.5px,#ffff43 34.5px,#ffff17 39.5px,#fff700 41.5px,#ffd900 42.5px,#ff8000 44.5px,#f10 46.5px,#d40000 47.5px,#630000 49.5px,#390000 50.5px,#1d0000 51.5px,#060000 53.5px,#000 77.5px,#000 103.5px)"></i>
<i style="top:52px;background:linear-gradient(90deg,#ff9e00 0.5px,#ffaf00 18.5px,#fa0 23.5px,#ffd300 32.5px,#ffbe00 40.5px,#ffa800 42.5px,#ff7a00 44.5px,#ff3400 46.5px,#ff0600 47.5px,#d10000 48.5px,#650000 50.5px,#3c0000 51.5px,#210000 52.5px,#090000 54.5px,#000 65.5px,#000 103.5px)"></i>
<i style="top:53px;background:linear-gradient(90deg,#ff7900 0.5px,#ff7400 16.5px,#ff6300 18.5px,#ff1000 23.5px,#fd0000 25.5px,#dc0000 32.5px,#d50000 38.5px,#e10000 41.5px,#ff0400 43.5px,#ff3a00 46.5px,#ff4300 47.5px,#ff3e00 48.5px,#ff2600 49.5px,#f80000 50.5px,#850000 52.5px,#570000 53.5px,#370000 54.5px,#150000 56.5px,#010000 61.5px,#000 103.5px)"></i>
<i style="top:54px;background:linear-gradient(90deg,#ffa300 0.5px,#ffa400 16.5px,#ff9400 18.5px,#ff5100 21.5px,#ff0900 24.5px,#d00 26.5px,#6d0000 32.5px,#410000 36.5px,#370000 40.5px,#470000 42.5px,#890000 45.5px,#fe0000 48.5px,#ff2500 49.5px,#ff3c00 50.5px,#ff3900 51.5px,#ff1800 52.5px,#e50000 53.5px,#800000 55.5px,#3d0000 57.5px,#0f0000 60.5px,#000 65.5px,#000 103.5px)"></i>
<i style="top:55px;background:linear-gradient(90deg,#ff1f00 0.5px,#ff3c00 13.5px,#ff4f00 19.5px,#ff4100 22.5px,#ff0800 27.5px,#e80000 29.5px,#9a0000 33.5px,#320000 38.5px,#130000 41.5px,#170000 44.5px,#2f0000 46.5px,#670000 48.5px,#ff0500 51.5px,#ff2d00 52.5px,#ff3b00 53.5px,#ff2d00 54.5px,#ff0a00 55.5px,#db0000 56.5px,#810000 58.5px,#3e0000 60.5px,#170000 62.5px,#030000 65.5px,#000 103.5px)"></i>
<i style="top:56px;background:linear-gradient(90deg,#4d0000 0.5px,#620000 11.5px,#7e0000 17.5px,#c50000 23.5px,#d30000 28.5px,#cd0000 33.5px,#b10000 36.5px,#400000 41.5px,#180000 44.5px,#100 47.5px,#280000 49.5px,#460000 50.5px,#730000 51.5px,#e60000 53.5px,#ff1600 54.5px,#ff3100 55.5px,#ff3400 56.5px,#ff2000 57.5px,#fb0000 58.5px,#760000 61.5px,#340000 63.5px,#120000 65.5px,#010000 69.5px,#000 103.5px)"></i>
<i style="top:57px;background:linear-gradient(90deg,#080000 0.5px,#160000 17.5px,#850000 31.5px,#b50000 37.5px,#b40000 39.5px,#870000 42.5px,#260000 47.5px,#140000 49.5px,#200000 51.5px,#380000 52.5px,#5d0000 53.5px,#f90000 56.5px,#ff1f00 57.5px,#ff2f00 58.5px,#ff2900 59.5px,#ff1000 60.5px,#e80000 61.5px,#630000 64.5px,#280000 66.5px,#0c0000 68.5px,#000 74.5px,#000 103.5px)"></i>
<i style="top:58px;background:linear-gradient(90deg,#000 0.5px,#070000 21.5px,#2c0000 30.5px,#600000 35.5px,#a40000 40.5px,#ae0000 43.5px,#9e0000 45.5px,#350000 50.5px,#1f0000 52.5px,#210000 53.5px,#2f0000 54.5px,#4d0000 55.5px,#ac0000 57.5px,#e00000 58.5px,#ff0b00 59.5px,#ff2500 60.5px,#ff2a00 61.5px,#ff1b00 62.5px,#f90000 63.5px,#4b0000 67.5px,#1a0000 69.5px,#030000 72.5px,#000 103.5px)"></i>
<i style="top:59px;background:linear-gradient(90deg,#000 0.5px,#070000 29.5px,#200 35.5px,#560000 39.5px,#910000 43.5px,#a00 47.5px,#9d0000 49.5px,#2f0000 54.5px,#270000 55.5px,#2e0000 56.5px,#450000 57.5px,#900 59.5px,#f80000 61.5px,#ff1a00 62.5px,#ff2800 63.5px,#ff2100 64.5px,#ff0600 65.5px,#dc0000 66.5px,#530000 69.5px,#1e0000 71.5px,#050000 74.5px,#000 103.5px)"></i>
<i style="top:60px;background:linear-gradient(90deg,#000 0.5px,#050000 34.5px,#170000 38.5px,#610000 44.5px,#a20000 49.5px,#a00 51.5px,#a20000 52.5px,#750000 54.5px,#410000 56.5px,#320000 57.5px,#310000 58.5px,#400000 59.5px,#5e0000 60.5px,#e80000 63.5px,#ff0e00 64.5px,#ff2300 65.5px,#ff2300 66.5px,#ff0d00 67.5px,#e40000 68.5px,#840000 70.5px,#3c0000 72.5px,#160000 74.5px,#020000 78.5px,#000 103.5px)"></i>
<i style="top:61px;background:linear-gradient(90deg,#000 0.5px,#050000 38.5px,#210000 43.5px,#500000 47.5px,#a00000 52.5px,#a00 54.5px,#a20000 55.5px,#3f0000 59.5px,#360000 60.5px,#3e0000 61.5px,#570000 62.5px,#ab0000 64.5px,#ff0300 66.5px,#ff1d00 67.5px,#f20 68.5px,#ff0f00 69.5px,#eb0000 70.5px,#690000 73.5px,#2f0000 75.5px,#100 77.5px,#010000 81.5px,#000 103.5px)"></i>
<i style="top:62px;background:linear-gradient(90deg,#000 0.5px,#040000 41.5px,#180000 46.5px,#3a0000 49.5px,#a00000 55.5px,#a90000 57.5px,#9d0000 58.5px,#4c0000 61.5px,#3f0000 62.5px,#420000 63.5px,#540000 64.5px,#9f0000 66.5px,#fa0000 68.5px,#ff1800 69.5px,#ff2000 70.5px,#ff1300 71.5px,#f40000 72.5px,#570000 76.5px,#260000 78.5px,#080000 81.5px,#000 93.5px,#000 103.5px)"></i>
<i style="top:63px;background:linear-gradient(90deg,#000 0.5px,#040000 45.5px,#150000 49.5px,#4b0000 53.5px,#960000 57.5px,#a00 59.5px,#a60000 60.5px,#750000 62.5px,#490000 64.5px,#460000 65.5px,#520000 66.5px,#6e0000 67.5px,#f20000 70.5px,#ff1200 71.5px,#ff1e00 72.5px,#ff1700 73.5px,#f00 74.5px,#680000 78.5px,#310000 80.5px,#0c0000 83.5px,#000 90.5px,#000 103.5px)"></i>
<i style="top:64px;background:linear-gradient(90deg,#000 0.5px,#050000 49.5px,#200000 53.5px,#4d0000 56.5px,#9d0000 60.5px,#a60000 62.5px,#970000 63.5px,#500000 66.5px,#470000 67.5px,#500000 68.5px,#6a0000 69.5px,#e70000 72.5px,#ff0800 73.5px,#ff1a00 74.5px,#ff1a00 75.5px,#ff0a00 76.5px,#ed0000 77.5px,#5b0000 81.5px,#2b0000 83.5px,#0a0000 86.5px,#000 96.5px,#000 103.5px)"></i>
<i style="top:65px;background:linear-gradient(90deg,#000 0.5px,#040000 51.5px,#170000 55.5px,#400000 58.5px,#940000 62.5px,#a10000 64.5px,#970000 65.5px,#510000 68.5px,#480000 69.5px,#4e0000 70.5px,#650000 71.5px,#fb0000 75.5px,#ff1300 76.5px,#ff1a00 77.5px,#fc0000 79.5px,#520000 84.5px,#190000 87.5px,#030000 91.5px,#000 103.5px)"></i>
<i style="top:66px;background:linear-gradient(90deg,#000 0.5px,#040000 54.5px,#190000 58.5px,#4b0000 61.5px,#8c0000 64.5px,#9c0000 66.5px,#960000 67.5px,#530000 70.5px,#490000 71.5px,#4c0000 72.5px,#5e0000 73.5px,#a00000 75.5px,#ec0000 77.5px,#ff0800 78.5px,#ff1700 79.5px,#ff1700 80.5px,#ff0a00 81.5px,#f00000 82.5px,#690000 86.5px,#360000 88.5px,#0f0000 91.5px,#010000 96.5px,#000 103.5px)"></i>
<i style="top:67px;background:linear-gradient(90deg,#000 0.5px,#040000 57.5px,#140000 60.5px,#470000 63.5px,#870000 66.5px,#900 68.5px,#940000 69.5px,#580000 72.5px,#4d0000 73.5px,#4d0000 74.5px,#590000 75.5px,#900000 77.5px,#f80000 80.5px,#ff1700 82.5px,#ff1200 83.5px,#ff0200 84.5px,#c80000 86.5px,#640000 89.5px,#230000 92.5px,#050000 96.5px,#000 103.5px)"></i>
<i style="top:68px;background:linear-gradient(90deg,#000 0.5px,#050000 60.5px,#1f0000 63.5px,#840000 68.5px,#970000 70.5px,#870000 72.5px,#540000 75.5px,#4f0000 76.5px,#500 77.5px,#810000 79.5px,#e50000 82.5px,#f00 83.5px,#ff1000 84.5px,#ff1500 85.5px,#fc0000 87.5px,#a10000 90.5px,#480000 93.5px,#170000 96.5px,#030000 100.5px,#010000 103.5px)"></i>
<i style="top:69px;background:linear-gradient(90deg,#000 0.5px,#050000 62.5px,#200000 65.5px,#810000 70.5px,#940000 72.5px,#8c0000 74.5px,#500 78.5px,#5f0000 80.5px,#8e0000 82.5px,#eb0000 85.5px,#ff0300 86.5px,#ff1300 88.5px,#f70000 90.5px,#470000 96.5px,#180000 99.5px,#040000 103.5px)"></i>
<i style="top:70px;background:linear-gradient(90deg,#000 0.5px,#030000 63.5px,#140000 66.5px,#430000 69.5px,#7c0000 72.5px,#930000 75.5px,#870000 77.5px,#5d0000 80.5px,#5a0000 82.5px,#7b0000 84.5px,#e00 88.5px,#ff0400 89.5px,#f10 91.5px,#ff0800 92.5px,#f40000 93.5px,#490000 99.5px,#1a0000 102.5px,#120000 103.5px)"></i>
<i style="top:71px;background:linear-gradient(90deg,#000 0.5px,#030000 65.5px,#140000 68.5px,#810000 75.5px,#920000 78.5px,#740000 81.5px,#5d0000 83.5px,#5f0000 85.5px,#810000 87.5px,#ef0000 91.5px,#ff0300 92.5px,#ff0e00 94.5px,#ff0400 95.5px,#f10000 96.5px,#4c0000 102.5px,#390000 103.5px)"></i>
<i style="top:72px;background:linear-gradient(90deg,#000 0.5px,#030000 67.5px,#1f0000 71.5px,#830000 78.5px,#900000 81.5px,#5e0000 86.5px,#620000 88.5px,#840000 90.5px,#e00 94.5px,#ff0100 95.5px,#ff0b00 97.5px,#ff0200 98.5px,#d80000 100.5px,#830000 103.5px)"></i>
<i style="top:73px;background:linear-gradient(90deg,#000 0.5px,#040000 69.5px,#1c0000 73.5px,#840000 81.5px,#8d0000 84.5px,#5e0000 89.5px,#630000 91.5px,#850000 93.5px,#ec0000 97.5px,#fd0000 98.5px,#ff0800 100.5px,#f00 101.5px,#d90000 103.5px)"></i>
<i style="top:74px;background:linear-gradient(90deg,#000 0.5px,#040000 71.5px,#180000 75.5px,#500 80.5px,#840000 84.5px,#8b0000 87.5px,#5a0000 92.5px,#600000 94.5px,#830000 96.5px,#e70000 100.5px,#ff0200 102.5px,#ff0400 103.5px)"></i>
<i style="top:75px;background:linear-gradient(90deg,#000 0.5px,#050000 74.5px,#250000 79.5px,#7c0000 86.5px,#8b0000 89.5px,#800000 91.5px,#540000 95.5px,#5c0000 97.5px,#980000 100.5px,#e10000 103.5px)"></i>
<i style="top:76px;background:linear-gradient(90deg,#000 0.5px,#040000 76.5px,#1f0000 81.5px,#7c0000 89.5px,#890000 92.5px,#7a0000 94.5px,#520000 97.5px,#4e0000 99.5px,#650000 101.5px,#920000 103.5px)"></i>
<i style="top:77px;background:linear-gradient(90deg,#000 0.5px,#050000 79.5px,#210000 84.5px,#7d0000 92.5px,#860000 95.5px,#620000 98.5px,#480000 100.5px,#460000 102.5px,#4f0000 103.5px)"></i>
<i style="top:78px;background:linear-gradient(90deg,#000 0.5px,#040000 81.5px,#1b0000 86.5px,#520000 91.5px,#7f0000 95.5px,#860000 97.5px,#760000 99.5px,#3e0000 103.5px)"></i>
<i style="top:79px;background:linear-gradient(90deg,#000 0.5px,#050000 84.5px,#1d0000 89.5px,#7a0000 97.5px,#830000 100.5px,#5a0000 103.5px)"></i>
<i style="top:80px;background:linear-gradient(90deg,#000 0.5px,#040000 86.5px,#180000 91.5px,#500000 96.5px,#7d0000 100.5px,#7d0000 103.5px)"></i>
<i style="top:81px;background:linear-gradient(90deg,#000 0.5px,#040000 89.5px,#1b0000 94.5px,#780000 102.5px,#7f0000 103.5px)"></i>
<i style="top:82px;background:linear-gradient(90deg,#000 0.5px,#050000 92.5px,#200000 97.5px,#6a0000 103.5px)"></i>
<i style="top:83px;background:linear-gradient(90deg,#000 0.5px,#040000 94.5px,#1c0000 99.5px,#4b0000 103.5px)"></i>
<i style="top:84px;background:linear-gradient(90deg,#000 0.5px,#050000 97.5px,#190000 101.5px,#2c0000 103.5px)"></i>
<i style="top:85px;background:linear-gradient(90deg,#000 0.5px,#040000 99.5px,#160000 103.5px)"></i>
<i style="top:86px;background:linear-gradient(90deg,#000 0.5px,#040000 101.5px,#090000 103.5px)"></i>
</div>
<div class="p q" style="left:272px;top:290px">
<i style="top:8px;background:linear-gradient(90deg,#000 0.5px,#030000 102.5px,#090000 103.5px)"></i>
<i style="top:9px;background:linear-gradient(90deg,#000 0.5px,#030000 100.5px,#120000 102.5px,#240000 103.5px)"></i>
<i style="top:10px;background:linear-gradient(90deg,#000 0.5px,#020000 98.5px,#0f0000 100.5px,#3b0000 102.5px,#5f0000 103.5px)"></i>
<i style="top:11px;background:linear-gradient(90deg,#000 0.5px,#050000 97.5px,#1c0000 99.5px,#590000 101.5px,#a10000 103.5px)"></i>
<i style="top:12px;background:linear-gradient(90deg,#000 0.5px,#040000 95.5px,#190000 97.5px,#300000 98.5px,#9e0000 101.5px,#b30000 102.5px,#b20000 103.5px)"></i>
<i style="top:13px;background:linear-gradient(90deg,#000 0.5px,#030000 93.5px,#150000 95.5px,#4b0000 97.5px,#900 99.5px,#b20000 100.5px,#b60000 101.5px,#7b0000 103.5px)"></i>
<i style="top:14px;background:linear-gradient(90deg,#000 0.5px,#020000 91.5px,#100 93.5px,#430000 95.5px,#930000 97.5px,#b00000 98.5px,#b90000 99.5px,#a50000 100.5px,#820000 101.5px,#6d0000 102.5px,#750000 103.5px)"></i>
<i style="top:15px;background:linear-gradient(90deg,#000 0.5px,#050000 90.5px,#1f0000 92.5px,#610000 94.5px,#ac0000 96.5px,#b00 97.5px,#ac0000 98.5px,#6f0000 100.5px,#720000 101.5px,#910000 102.5px,#bf0000 103.5px)"></i>
<i style="top:16px;background:linear-gradient(90deg,#000 0.5px,#040000 88.5px,#190000 90.5px,#570000 92.5px,#a60000 94.5px,#ba0000 95.5px,#b30000 96.5px,#740000 98.5px,#700000 99.5px,#8a0000 100.5px,#e40000 102.5px,#f00 103.5px)"></i>
<i style="top:17px;background:linear-gradient(90deg,#000 0.5px,#030000 86.5px,#140000 88.5px,#2a0000 89.5px,#9e0000 92.5px,#b80000 93.5px,#b80000 94.5px,#790000 96.5px,#6e0000 97.5px,#830000 98.5px,#d00 100.5px,#fd0000 101.5px,#ff0300 102.5px,#e90000 103.5px)"></i>
<i style="top:18px;background:linear-gradient(90deg,#000 0.5px,#020000 84.5px,#100000 86.5px,#200 87.5px,#6a0000 89.5px,#940000 90.5px,#b30000 91.5px,#b00 92.5px,#a40000 93.5px,#800000 94.5px,#6e0000 95.5px,#7d0000 96.5px,#fa0000 99.5px,#ff0500 100.5px,#f10000 101.5px,#910000 103.5px)"></i>
<i style="top:19px;background:linear-gradient(90deg,#000 0.5px,#050000 83.5px,#1c0000 85.5px,#370000 86.5px,#ac0000 89.5px,#bc0000 90.5px,#ac0000 91.5px,#800 92.5px,#700000 93.5px,#700 94.5px,#9c0000 95.5px,#f50000 97.5px,#ff0700 98.5px,#f80000 99.5px,#d00000 100.5px,#670000 102.5px,#3d0000 103.5px)"></i>
<i style="top:20px;background:linear-gradient(90deg,#000 0.5px,#040000 81.5px,#190000 83.5px,#300000 84.5px,#a30000 87.5px,#ba0000 88.5px,#b50000 89.5px,#740000 91.5px,#730000 92.5px,#920000 93.5px,#ef0000 95.5px,#ff0700 96.5px,#f00 97.5px,#db0000 98.5px,#710000 100.5px,#400 101.5px,#240000 102.5px,#100 103.5px)"></i>
<i style="top:21px;background:linear-gradient(90deg,#000 0.5px,#040000 79.5px,#160000 81.5px,#2b0000 82.5px,#9a0000 85.5px,#b60000 86.5px,#ba0000 87.5px,#7b0000 89.5px,#700000 90.5px,#800 91.5px,#e70000 93.5px,#ff0500 94.5px,#ff0500 95.5px,#e60000 96.5px,#4c0000 99.5px,#290000 100.5px,#090000 102.5px,#030000 103.5px)"></i>
<i style="top:22px;background:linear-gradient(90deg,#000 0.5px,#030000 77.5px,#140000 79.5px,#270000 80.5px,#6c0000 82.5px,#b10000 84.5px,#bc0000 85.5px,#a80000 86.5px,#840000 87.5px,#700000 88.5px,#7e0000 89.5px,#dc0000 91.5px,#ff0200 92.5px,#ff0900 93.5px,#f00000 94.5px,#500 97.5px,#2f0000 98.5px,#170000 99.5px,#040000 101.5px,#000 103.5px)"></i>
<i style="top:23px;background:linear-gradient(90deg,#000 0.5px,#030000 75.5px,#120000 77.5px,#410000 79.5px,#ad0000 82.5px,#bc0000 83.5px,#af0000 84.5px,#720000 86.5px,#700 87.5px,#9b0000 88.5px,#fa0000 90.5px,#ff0c00 91.5px,#fa0000 92.5px,#ce0000 93.5px,#600000 95.5px,#370000 96.5px,#1b0000 97.5px,#050000 99.5px,#000 103.5px)"></i>
<i style="top:24px;background:linear-gradient(90deg,#000 0.5px,#030000 73.5px,#100 75.5px,#3e0000 77.5px,#a00 80.5px,#bc0000 81.5px,#b40000 82.5px,#760000 84.5px,#730000 85.5px,#8f0000 86.5px,#f10000 88.5px,#ff0c00 89.5px,#ff0400 90.5px,#dc0000 91.5px,#6c0000 93.5px,#3f0000 94.5px,#200000 95.5px,#060000 97.5px,#000 103.5px)"></i>
<i style="top:25px;background:linear-gradient(90deg,#000 0.5px,#030000 71.5px,#100 73.5px,#3c0000 75.5px,#a80000 78.5px,#bc0000 79.5px,#b90000 80.5px,#7b0000 82.5px,#710000 83.5px,#870000 84.5px,#e60000 86.5px,#ff0900 87.5px,#ff0b00 88.5px,#eb0000 89.5px,#490000 92.5px,#270000 93.5px,#070000 95.5px,#000 103.5px)"></i>
<i style="top:26px;background:linear-gradient(90deg,#000 0.5px,#040000 69.5px,#120000 71.5px,#3b0000 73.5px,#a70000 76.5px,#bc0000 77.5px,#bd0000 78.5px,#810000 80.5px,#720000 81.5px,#820000 82.5px,#dc0000 84.5px,#ff0400 85.5px,#ff0f00 86.5px,#f80000 87.5px,#c80000 88.5px,#560000 90.5px,#2e0000 91.5px,#160000 92.5px,#030000 94.5px,#000 103.5px)"></i>
<i style="top:27px;background:linear-gradient(90deg,#000 0.5px,#040000 67.5px,#130000 69.5px,#3c0000 71.5px,#a60000 74.5px,#bd0000 75.5px,#c00000 76.5px,#870000 78.5px,#750000 79.5px,#810000 80.5px,#fe0000 83.5px,#f10 84.5px,#ff0300 85.5px,#d80000 86.5px,#650000 88.5px,#390000 89.5px,#1c0000 90.5px,#040000 92.5px,#000 103.5px)"></i>
<i style="top:28px;background:linear-gradient(90deg,#000 0.5px,#050000 65.5px,#160000 67.5px,#400000 69.5px,#a70000 72.5px,#bd0000 73.5px,#c20000 74.5px,#ac0000 75.5px,#8b0000 76.5px,#780000 77.5px,#800000 78.5px,#a30000 79.5px,#fb0000 81.5px,#f10 82.5px,#ff0900 83.5px,#e40000 84.5px,#400 87.5px,#230000 88.5px,#060000 90.5px,#000 103.5px)"></i>
<i style="top:29px;background:linear-gradient(90deg,#000 0.5px,#020000 62.5px,#190000 65.5px,#470000 67.5px,#a90000 70.5px,#be0000 71.5px,#c20000 72.5px,#ad0000 73.5px,#8d0000 74.5px,#7a0000 75.5px,#810000 76.5px,#a10000 77.5px,#f80000 79.5px,#f10 80.5px,#ff0d00 81.5px,#ed0000 82.5px,#500000 85.5px,#2b0000 86.5px,#140000 87.5px,#030000 89.5px,#000 103.5px)"></i>
<i style="top:30px;background:linear-gradient(90deg,#000 0.5px,#020000 60.5px,#0d0000 62.5px,#300000 64.5px,#ad0000 68.5px,#bf0000 69.5px,#c00000 70.5px,#790000 73.5px,#800000 74.5px,#9f0000 75.5px,#f70000 77.5px,#f10 78.5px,#ff0f00 79.5px,#f20000 80.5px,#590000 83.5px,#320000 84.5px,#190000 85.5px,#040000 87.5px,#000 103.5px)"></i>
<i style="top:31px;background:linear-gradient(90deg,#000 0.5px,#030000 58.5px,#0e0000 60.5px,#320000 62.5px,#980000 65.5px,#b20000 66.5px,#c00000 67.5px,#bc0000 68.5px,#860000 70.5px,#750000 71.5px,#7d0000 72.5px,#9d0000 73.5px,#f60000 75.5px,#f10 76.5px,#f10 77.5px,#f60000 78.5px,#5f0000 81.5px,#380000 82.5px,#1d0000 83.5px,#050000 85.5px,#000 103.5px)"></i>
<i style="top:32px;background:linear-gradient(90deg,#000 0.5px,#040000 56.5px,#100000 58.5px,#340000 60.5px,#9c0000 63.5px,#b50000 64.5px,#c00000 65.5px,#b60000 66.5px,#7a0000 68.5px,#6c0000 69.5px,#760000 70.5px,#980000 71.5px,#f40000 73.5px,#f10 74.5px,#ff1300 75.5px,#f90000 76.5px,#640000 79.5px,#3b0000 80.5px,#0f0000 82.5px,#010000 85.5px,#000 103.5px)"></i>
<i style="top:33px;background:linear-gradient(90deg,#000 0.5px,#050000 54.5px,#140000 56.5px,#3a0000 58.5px,#9f0000 61.5px,#b90000 62.5px,#c10000 63.5px,#b10000 64.5px,#6e0000 66.5px,#5f0000 67.5px,#6b0000 68.5px,#8f0000 69.5px,#f10000 71.5px,#f10 72.5px,#ff1500 73.5px,#fc0000 74.5px,#670000 77.5px,#3e0000 78.5px,#100000 80.5px,#000 84.5px,#000 103.5px)"></i>
<i style="top:34px;background:linear-gradient(90deg,#000 0.5px,#040000 51.5px,#1a0000 54.5px,#400 56.5px,#a50000 59.5px,#bd0000 60.5px,#c50000 61.5px,#b30000 62.5px,#670000 64.5px,#570000 65.5px,#610000 66.5px,#850000 67.5px,#ec0000 69.5px,#ff1000 70.5px,#ff1700 71.5px,#ff0100 72.5px,#d40000 73.5px,#6a0000 75.5px,#410000 76.5px,#230000 77.5px,#080000 79.5px,#000 87.5px,#000 103.5px)"></i>
<i style="top:35px;background:linear-gradient(90deg,#000 0.5px,#030000 48.5px,#140000 51.5px,#360000 53.5px,#ad0000 57.5px,#c10000 58.5px,#c70000 59.5px,#b40000 60.5px,#680000 62.5px,#560000 63.5px,#5e0000 64.5px,#7f0000 65.5px,#e50000 67.5px,#ff0d00 68.5px,#ff1900 69.5px,#ff0600 70.5px,#d90000 71.5px,#6e0000 73.5px,#430000 74.5px,#250000 75.5px,#080000 77.5px,#000 85.5px,#000 103.5px)"></i>
<i style="top:36px;background:linear-gradient(90deg,#000 0.5px,#050000 46.5px,#1d0000 49.5px,#400 51.5px,#b60000 55.5px,#c50000 56.5px,#c50000 57.5px,#af0000 58.5px,#6a0000 60.5px,#5a0000 61.5px,#630000 62.5px,#820000 63.5px,#e10000 65.5px,#ff0b00 66.5px,#ff1c00 67.5px,#ff0d00 68.5px,#e30000 69.5px,#730000 71.5px,#460000 72.5px,#270000 73.5px,#090000 75.5px,#000 80.5px,#000 103.5px)"></i>
<i style="top:37px;background:linear-gradient(90deg,#000 0.5px,#030000 43.5px,#170000 46.5px,#560000 49.5px,#ab0000 52.5px,#bf0000 53.5px,#c70000 54.5px,#be0000 55.5px,#670000 58.5px,#5e0000 59.5px,#6a0000 60.5px,#8a0000 61.5px,#e60000 63.5px,#ff0c00 64.5px,#ff1e00 65.5px,#ff1400 66.5px,#ed0000 67.5px,#4b0000 70.5px,#290000 71.5px,#090000 73.5px,#000 78.5px,#000 103.5px)"></i>
<i style="top:38px;background:linear-gradient(90deg,#000 0.5px,#040000 41.5px,#1c0000 44.5px,#4b0000 46.5px,#a40000 49.5px,#ba0000 50.5px,#c50000 51.5px,#c50000 52.5px,#b30000 53.5px,#750000 55.5px,#610000 56.5px,#5f0000 57.5px,#720000 58.5px,#c20000 60.5px,#ef0000 61.5px,#ff1200 62.5px,#ff2000 63.5px,#ff1600 64.5px,#f40000 65.5px,#530000 68.5px,#2e0000 69.5px,#0a0000 71.5px,#000 76.5px,#000 103.5px)"></i>
<i style="top:39px;background:linear-gradient(90deg,#000 0.5px,#040000 38.5px,#140000 41.5px,#370000 43.5px,#b50000 47.5px,#c60000 48.5px,#ca0000 49.5px,#bd0000 50.5px,#680000 53.5px,#5b0000 54.5px,#620000 55.5px,#7b0000 56.5px,#fa0000 59.5px,#ff1900 60.5px,#ff2300 61.5px,#ff1600 62.5px,#f30000 63.5px,#5b0000 66.5px,#340000 67.5px,#1a0000 68.5px,#050000 70.5px,#000 103.5px)"></i>
<i style="top:40px;background:linear-gradient(90deg,#000 0.5px,#050000 35.5px,#1f0000 39.5px,#420000 41.5px,#bf0000 45.5px,#cb0000 46.5px,#c60000 47.5px,#6c0000 50.5px,#590000 51.5px,#580000 52.5px,#680000 53.5px,#870000 54.5px,#de0000 56.5px,#ff0600 57.5px,#ff2000 58.5px,#ff2500 59.5px,#ff1300 60.5px,#ef0000 61.5px,#5d0000 64.5px,#370000 65.5px,#0d0000 67.5px,#000 71.5px,#000 103.5px)"></i>
<i style="top:41px;background:linear-gradient(90deg,#000 0.5px,#050000 32.5px,#260000 36.5px,#5b0000 39.5px,#c40000 43.5px,#c00 44.5px,#bd0000 45.5px,#540000 48.5px,#470000 49.5px,#500000 50.5px,#6c0000 51.5px,#e00 54.5px,#ff1300 55.5px,#ff2600 56.5px,#ff2500 57.5px,#ff0f00 58.5px,#e70000 59.5px,#590000 62.5px,#360000 63.5px,#0f0000 65.5px,#010000 68.5px,#000 103.5px)"></i>
<i style="top:42px;background:linear-gradient(90deg,#000 0.5px,#050000 29.5px,#1a0000 32.5px,#7e0000 37.5px,#bd0000 40.5px,#c90000 41.5px,#ca0000 42.5px,#b40000 43.5px,#600000 45.5px,#420000 46.5px,#390000 47.5px,#470000 48.5px,#6a0000 49.5px,#fd0000 52.5px,#ff1d00 53.5px,#ff2a00 54.5px,#f20 55.5px,#ff0700 56.5px,#d00 57.5px,#520000 60.5px,#1c0000 62.5px,#060000 64.5px,#000 82.5px,#000 103.5px)"></i>
<i style="top:43px;background:linear-gradient(90deg,#000 0.5px,#050000 25.5px,#1a0000 29.5px,#3c0000 31.5px,#a30000 35.5px,#c40000 37.5px,#c00 39.5px,#bf0000 40.5px,#a20000 41.5px,#510000 43.5px,#370000 44.5px,#320000 45.5px,#400 46.5px,#6a0000 47.5px,#d90000 49.5px,#ff0900 50.5px,#ff2600 51.5px,#ff2d00 52.5px,#ff1e00 53.5px,#fc0000 54.5px,#710000 57.5px,#2d0000 59.5px,#0d0000 61.5px,#000 66.5px,#000 103.5px)"></i>
<i style="top:44px;background:linear-gradient(90deg,#000 0.5px,#070000 20.5px,#1d0000 25.5px,#450000 28.5px,#8e0000 31.5px,#c00000 33.5px,#d20000 35.5px,#c00 36.5px,#9f0000 38.5px,#3f0000 41.5px,#2e0000 42.5px,#2f0000 43.5px,#460000 44.5px,#710000 45.5px,#e30000 47.5px,#ff1300 48.5px,#ff2c00 49.5px,#ff2c00 50.5px,#ff1600 51.5px,#f00000 52.5px,#640000 55.5px,#270000 57.5px,#0b0000 59.5px,#000 64.5px,#000 103.5px)"></i>
<i style="top:45px;background:linear-gradient(90deg,#020000 0.5px,#0c0000 14.5px,#300 21.5px,#670000 25.5px,#c70000 30.5px,#d70000 32.5px,#cd0000 33.5px,#930000 35.5px,#390000 38.5px,#280000 39.5px,#230000 40.5px,#2e0000 41.5px,#4b0000 42.5px,#7a0000 43.5px,#f10000 45.5px,#ff1e00 46.5px,#ff3100 47.5px,#ff2900 48.5px,#ff0a00 49.5px,#df0000 50.5px,#580000 53.5px,#210000 55.5px,#090000 57.5px,#000 65.5px,#000 103.5px)"></i>
<i style="top:46px;background:linear-gradient(90deg,#230000 0.5px,#380000 10.5px,#500000 14.5px,#db0000 26.5px,#de0000 29.5px,#d00000 30.5px,#900000 32.5px,#470000 34.5px,#1f0000 36.5px,#1b0000 38.5px,#2b0000 39.5px,#510000 40.5px,#ff0200 43.5px,#ff2a00 44.5px,#ff3500 45.5px,#ff2300 46.5px,#f90000 47.5px,#6d0000 50.5px,#2f0000 52.5px,#0f0000 54.5px,#010000 58.5px,#000 103.5px)"></i>
<i style="top:47px;background:linear-gradient(90deg,#be0000 0.5px,#d90000 8.5px,#ff0200 14.5px,#ff1700 18.5px,#ff0c00 23.5px,#ff0300 24.5px,#e00000 26.5px,#8a0000 29.5px,#2e0000 32.5px,#180000 34.5px,#250000 36.5px,#3b0000 37.5px,#5c0000 38.5px,#910000 39.5px,#d70000 40.5px,#ff1300 41.5px,#ff3600 42.5px,#ff3800 43.5px,#ff1c00 44.5px,#e90000 45.5px,#7c0000 47.5px,#540000 48.5px,#230000 50.5px,#060000 53.5px,#000 71.5px,#000 103.5px)"></i>
<i style="top:48px;background:linear-gradient(90deg,#ff8e00 0.5px,#ff9700 13.5px,#ff5a00 17.5px,#ff0900 21.5px,#d50000 23.5px,#640000 27.5px,#300000 30.5px,#280000 31.5px,#380000 33.5px,#690000 35.5px,#bc0000 37.5px,#e00 38.5px,#f20 39.5px,#ff4000 40.5px,#ff3800 41.5px,#ff1200 42.5px,#d90000 43.5px,#680000 45.5px,#400000 46.5px,#160000 48.5px,#020000 52.5px,#000 103.5px)"></i>
<i style="top:49px;background:linear-gradient(90deg,#ff8c00 0.5px,#ff8600 11.5px,#ff7a00 13.5px,#ff1000 18.5px,#fd0000 19.5px,#a10000 25.5px,#8d0000 28.5px,#950000 31.5px,#c70000 33.5px,#ff0a00 35.5px,#ff3f00 37.5px,#ff4800 38.5px,#ff3600 39.5px,#ff0400 40.5px,#570000 43.5px,#300 44.5px,#1b0000 45.5px,#070000 47.5px,#000 64.5px,#000 103.5px)"></i>
<i style="top:50px;background:linear-gradient(90deg,#ff8200 0.5px,#ff8700 13.5px,#ff6f00 17.5px,#ff7b00 25.5px,#ff6d00 33.5px,#f50 35.5px,#ff1a00 37.5px,#ec0000 38.5px,#740000 40.5px,#470000 41.5px,#270000 42.5px,#0a0000 44.5px,#000 50.5px,#000 103.5px)"></i>
<i style="top:51px;background:linear-gradient(90deg,#ffc300 0.5px,#ffd700 10.5px,#fff100 17.5px,#fffc00 18.5px,#ffff50 23.5px,#ffff56 25.5px,#ffff37 28.5px,#fffc00 31.5px,#ffd700 32.5px,#f20 35.5px,#e70000 36.5px,#4c0000 39.5px,#290000 40.5px,#090000 42.5px,#000 47.5px,#000 103.5px)"></i>
<i style="top:52px;background:linear-gradient(90deg,#ff9e00 0.5px,#ffaf00 14.5px,#ffb000 17.5px,#ffdc00 23.5px,#ffd700 27.5px,#ffbd00 31.5px,#ffac00 32.5px,#ff4300 35.5px,#ff1700 36.5px,#e60000 37.5px,#490000 40.5px,#290000 41.5px,#0a0000 43.5px,#000 49.5px,#000 103.5px)"></i>
<i style="top:53px;background:linear-gradient(90deg,#ff7900 0.5px,#ff7300 12.5px,#ff5c00 14.5px,#ff2900 17.5px,#ff0300 21.5px,#de0000 27.5px,#e80000 31.5px,#f90000 32.5px,#ff3c00 35.5px,#ff4800 36.5px,#ff4800 37.5px,#ff3600 38.5px,#ff0b00 39.5px,#c90000 40.5px,#590000 42.5px,#340000 43.5px,#0e0000 45.5px,#010000 49.5px,#000 103.5px)"></i>
<i style="top:54px;background:linear-gradient(90deg,#ffa300 0.5px,#ffa400 12.5px,#ff8b00 14.5px,#f00 20.5px,#6d0000 26.5px,#470000 29.5px,#420000 31.5px,#4d0000 32.5px,#820000 34.5px,#fb0000 37.5px,#ff4100 39.5px,#ff3d00 40.5px,#ff1700 41.5px,#de0000 42.5px,#6a0000 44.5px,#410000 45.5px,#250000 46.5px,#0b0000 48.5px,#000 55.5px,#000 103.5px)"></i>
<i style="top:55px;background:linear-gradient(90deg,#ff1f00 0.5px,#ff4700 12.5px,#ff4900 16.5px,#ff2f00 20.5px,#ff0700 23.5px,#f20000 24.5px,#430000 30.5px,#1f0000 32.5px,#200000 34.5px,#430000 36.5px,#640000 37.5px,#910000 38.5px,#ce0000 39.5px,#ff0f00 40.5px,#ff3600 41.5px,#ff3c00 42.5px,#ff2100 43.5px,#e00 44.5px,#7d0000 46.5px,#520000 47.5px,#200000 49.5px,#060000 52.5px,#000 70.5px,#000 103.5px)"></i>
<i style="top:56px;background:linear-gradient(90deg,#4d0000 0.5px,#670000 9.5px,#800000 13.5px,#ce0000 20.5px,#ef0000 25.5px,#e90000 27.5px,#ca0000 29.5px,#800 31.5px,#410000 33.5px,#1b0000 35.5px,#1b0000 37.5px,#290000 38.5px,#490000 39.5px,#7f0000 40.5px,#fd0000 42.5px,#ff2900 43.5px,#ff3800 44.5px,#ff2700 45.5px,#fc0000 46.5px,#950000 48.5px,#490000 50.5px,#1c0000 52.5px,#040000 55.5px,#000 103.5px)"></i>
<i style="top:57px;background:linear-gradient(90deg,#080000 0.5px,#170000 13.5px,#4c0000 20.5px,#810000 24.5px,#d10000 29.5px,#d90000 31.5px,#ca0000 32.5px,#470000 36.5px,#200 38.5px,#1d0000 39.5px,#290000 40.5px,#450000 41.5px,#740000 42.5px,#ec0000 44.5px,#ff1c00 45.5px,#ff3200 46.5px,#ff2b00 47.5px,#ff0c00 48.5px,#df0000 49.5px,#5b0000 52.5px,#200 54.5px,#0a0000 56.5px,#000 62.5px,#000 103.5px)"></i>
<i style="top:58px;background:linear-gradient(90deg,#000 0.5px,#090000 18.5px,#1f0000 23.5px,#530000 27.5px,#c50000 32.5px,#d40000 34.5px,#c90000 35.5px,#940000 37.5px,#3a0000 40.5px,#2b0000 41.5px,#2c0000 42.5px,#410000 43.5px,#6a0000 44.5px,#d00 46.5px,#ff1000 47.5px,#ff2c00 48.5px,#ff2e00 49.5px,#ff1900 50.5px,#f20000 51.5px,#670000 54.5px,#290000 56.5px,#0c0000 58.5px,#000 62.5px,#000 103.5px)"></i>
<i style="top:59px;background:linear-gradient(90deg,#000 0.5px,#070000 24.5px,#200000 28.5px,#590000 31.5px,#ac0000 34.5px,#ca0000 36.5px,#cb0000 38.5px,#ba0000 39.5px,#700 41.5px,#510000 42.5px,#370000 43.5px,#300000 44.5px,#3f0000 45.5px,#630000 46.5px,#d10000 48.5px,#ff0500 49.5px,#ff2500 50.5px,#ff2e00 51.5px,#ff2000 52.5px,#f00 53.5px,#740000 56.5px,#2f0000 58.5px,#0e0000 60.5px,#000 64.5px,#000 103.5px)"></i>
<i style="top:60px;background:linear-gradient(90deg,#000 0.5px,#060000 28.5px,#1c0000 31.5px,#590000 34.5px,#b20000 38.5px,#ca0000 40.5px,#ca0000 41.5px,#b50000 42.5px,#620000 44.5px,#410000 45.5px,#350000 46.5px,#400000 47.5px,#610000 48.5px,#fa0000 51.5px,#ff1d00 52.5px,#ff2b00 53.5px,#ff2400 54.5px,#ff0a00 55.5px,#e10000 56.5px,#560000 59.5px,#1e0000 61.5px,#070000 63.5px,#000 73.5px,#000 103.5px)"></i>
<i style="top:61px;background:linear-gradient(90deg,#000 0.5px,#050000 31.5px,#2b0000 35.5px,#7b0000 39.5px,#c30000 42.5px,#c00 43.5px,#bf0000 44.5px,#510000 47.5px,#410000 48.5px,#480000 49.5px,#640000 50.5px,#ec0000 53.5px,#ff1200 54.5px,#ff2600 55.5px,#ff2700 56.5px,#ff1200 57.5px,#ec0000 58.5px,#5e0000 61.5px,#210000 63.5px,#080000 65.5px,#000 73.5px,#000 103.5px)"></i>
<i style="top:62px;background:linear-gradient(90deg,#000 0.5px,#030000 33.5px,#190000 37.5px,#460000 40.5px,#7f0000 42.5px,#bd0000 44.5px,#cb0000 45.5px,#c60000 46.5px,#ad0000 47.5px,#670000 49.5px,#540000 50.5px,#530000 51.5px,#650000 52.5px,#af0000 54.5px,#ff0500 56.5px,#ff1f00 57.5px,#ff2600 58.5px,#ff1700 59.5px,#f40000 60.5px,#640000 63.5px,#200 65.5px,#070000 67.5px,#000 77.5px,#000 103.5px)"></i>
<i style="top:63px;background:linear-gradient(90deg,#000 0.5px,#050000 37.5px,#150000 40.5px,#350000 42.5px,#b60000 46.5px,#c70000 47.5px,#cb0000 48.5px,#bd0000 49.5px,#600 52.5px,#5a0000 53.5px,#610000 54.5px,#790000 55.5px,#f70000 58.5px,#ff2400 60.5px,#ff1a00 61.5px,#fa0000 62.5px,#600 65.5px,#3c0000 66.5px,#200000 67.5px,#060000 69.5px,#000 87.5px,#000 103.5px)"></i>
<i style="top:64px;background:linear-gradient(90deg,#000 0.5px,#040000 40.5px,#1a0000 43.5px,#490000 45.5px,#a70000 48.5px,#c70000 50.5px,#c50000 51.5px,#b30000 52.5px,#750000 54.5px,#600000 55.5px,#5e0000 56.5px,#700000 57.5px,#be0000 59.5px,#eb0000 60.5px,#ff0f00 61.5px,#ff2000 62.5px,#ff1b00 63.5px,#fc0000 64.5px,#600000 67.5px,#370000 68.5px,#1c0000 69.5px,#050000 71.5px,#000 103.5px)"></i>
<i style="top:65px;background:linear-gradient(90deg,#000 0.5px,#020000 42.5px,#170000 45.5px,#3d0000 47.5px,#ac0000 51.5px,#bf0000 52.5px,#c70000 53.5px,#bf0000 54.5px,#680000 57.5px,#5e0000 58.5px,#690000 59.5px,#870000 60.5px,#e00000 62.5px,#ff0800 63.5px,#ff1d00 64.5px,#ff1900 65.5px,#f90000 66.5px,#570000 69.5px,#310000 70.5px,#0b0000 72.5px,#000 77.5px,#000 103.5px)"></i>
<i style="top:66px;background:linear-gradient(90deg,#000 0.5px,#040000 45.5px,#1e0000 48.5px,#600000 51.5px,#b60000 54.5px,#c50000 55.5px,#c50000 56.5px,#b10000 57.5px,#6f0000 59.5px,#5d0000 60.5px,#620000 61.5px,#7d0000 62.5px,#d90000 64.5px,#ff0400 65.5px,#ff1b00 66.5px,#ff1500 67.5px,#f10000 68.5px,#500000 71.5px,#2d0000 72.5px,#0a0000 74.5px,#000 80.5px,#000 103.5px)"></i>
<i style="top:67px;background:linear-gradient(90deg,#000 0.5px,#030000 47.5px,#150000 50.5px,#360000 52.5px,#ac0000 56.5px,#c00000 57.5px,#c70000 58.5px,#b90000 59.5px,#700000 61.5px,#590000 62.5px,#5c0000 63.5px,#700 64.5px,#d90000 66.5px,#ff0600 67.5px,#ff1a00 68.5px,#ff0f00 69.5px,#e70000 70.5px,#7a0000 72.5px,#4c0000 73.5px,#2b0000 74.5px,#0a0000 76.5px,#000 82.5px,#000 103.5px)"></i>
<i style="top:68px;background:linear-gradient(90deg,#000 0.5px,#040000 50.5px,#1a0000 53.5px,#430000 55.5px,#b00 59.5px,#c60000 60.5px,#ba0000 61.5px,#6d0000 63.5px,#570000 64.5px,#5b0000 65.5px,#790000 66.5px,#df0000 68.5px,#ff0900 69.5px,#ff1900 70.5px,#ff0900 71.5px,#e00000 72.5px,#750000 74.5px,#490000 75.5px,#290000 76.5px,#090000 78.5px,#000 83.5px,#000 103.5px)"></i>
<i style="top:69px;background:linear-gradient(90deg,#000 0.5px,#050000 53.5px,#230000 56.5px,#500 58.5px,#b70000 61.5px,#c30000 62.5px,#b70000 63.5px,#700000 65.5px,#5c0000 66.5px,#620000 67.5px,#820000 68.5px,#e60000 70.5px,#ff0c00 71.5px,#ff1700 72.5px,#ff0500 73.5px,#db0000 74.5px,#720000 76.5px,#470000 77.5px,#270000 78.5px,#090000 80.5px,#000 85.5px,#000 103.5px)"></i>
<i style="top:70px;background:linear-gradient(90deg,#000 0.5px,#040000 55.5px,#1d0000 58.5px,#4e0000 60.5px,#b30000 63.5px,#c00000 64.5px,#b80000 65.5px,#7a0000 67.5px,#680000 68.5px,#6e0000 69.5px,#8d0000 70.5px,#eb0000 72.5px,#ff0d00 73.5px,#ff1500 74.5px,#ff0200 75.5px,#d70000 76.5px,#6f0000 78.5px,#400 79.5px,#250000 80.5px,#080000 82.5px,#000 90.5px,#000 103.5px)"></i>
<i style="top:71px;background:linear-gradient(90deg,#000 0.5px,#030000 57.5px,#190000 60.5px,#4b0000 62.5px,#b00000 65.5px,#bf0000 66.5px,#bd0000 67.5px,#870000 69.5px,#740000 70.5px,#700 71.5px,#930000 72.5px,#ed0000 74.5px,#ff0e00 75.5px,#ff1400 76.5px,#fe0000 77.5px,#d40000 78.5px,#6b0000 80.5px,#400000 81.5px,#200 82.5px,#070000 84.5px,#000 94.5px,#000 103.5px)"></i>
<i style="top:72px;background:linear-gradient(90deg,#000 0.5px,#050000 60.5px,#180000 62.5px,#480000 64.5px,#ab0000 67.5px,#bd0000 68.5px,#c10000 69.5px,#ae0000 70.5px,#7a0000 72.5px,#7b0000 73.5px,#970000 74.5px,#ef0000 76.5px,#ff0e00 77.5px,#ff1300 78.5px,#fb0000 79.5px,#900 81.5px,#3b0000 83.5px,#1f0000 84.5px,#050000 86.5px,#000 103.5px)"></i>
<i style="top:73px;background:linear-gradient(90deg,#000 0.5px,#050000 62.5px,#170000 64.5px,#400 66.5px,#a50000 69.5px,#b00 70.5px,#c30000 71.5px,#b20000 72.5px,#7c0000 74.5px,#7d0000 75.5px,#980000 76.5px,#f00000 78.5px,#ff0e00 79.5px,#f10 80.5px,#f70000 81.5px,#910000 83.5px,#5d0000 84.5px,#340000 85.5px,#1a0000 86.5px,#040000 88.5px,#000 103.5px)"></i>
<i style="top:74px;background:linear-gradient(90deg,#000 0.5px,#050000 64.5px,#150000 66.5px,#3d0000 68.5px,#a10000 71.5px,#ba0000 72.5px,#c30000 73.5px,#b20000 74.5px,#7b0000 76.5px,#7d0000 77.5px,#9a0000 78.5px,#f20000 80.5px,#ff0f00 81.5px,#ff0f00 82.5px,#f10000 83.5px,#520000 86.5px,#2c0000 87.5px,#140000 88.5px,#030000 90.5px,#000 103.5px)"></i>
<i style="top:75px;background:linear-gradient(90deg,#000 0.5px,#040000 66.5px,#120000 68.5px,#380000 70.5px,#a00000 73.5px,#ba0000 74.5px,#c20000 75.5px,#b00000 76.5px,#780000 78.5px,#7c0000 79.5px,#9c0000 80.5px,#f60000 82.5px,#ff0f00 83.5px,#ff0b00 84.5px,#e70000 85.5px,#450000 88.5px,#230000 89.5px,#060000 91.5px,#000 103.5px)"></i>
<i style="top:76px;background:linear-gradient(90deg,#000 0.5px,#030000 68.5px,#1e0000 71.5px,#560000 73.5px,#a00000 75.5px,#b90000 76.5px,#c00000 77.5px,#ab0000 78.5px,#890000 79.5px,#740000 80.5px,#7c0000 81.5px,#9f0000 82.5px,#fa0000 84.5px,#ff1000 85.5px,#ff0400 86.5px,#d90000 87.5px,#600 89.5px,#390000 90.5px,#1c0000 91.5px,#050000 93.5px,#000 103.5px)"></i>
<i style="top:77px;background:linear-gradient(90deg,#000 0.5px,#030000 70.5px,#0f0000 72.5px,#350000 74.5px,#a10000 77.5px,#b90000 78.5px,#bd0000 79.5px,#830000 81.5px,#710000 82.5px,#7e0000 83.5px,#ff0200 86.5px,#ff0f00 87.5px,#f90000 88.5px,#c90000 89.5px,#570000 91.5px,#2f0000 92.5px,#170000 93.5px,#040000 95.5px,#000 103.5px)"></i>
<i style="top:78px;background:linear-gradient(90deg,#000 0.5px,#030000 72.5px,#0f0000 74.5px,#370000 76.5px,#a40000 79.5px,#ba0000 80.5px,#ba0000 81.5px,#7d0000 83.5px,#710000 84.5px,#840000 85.5px,#e30000 87.5px,#ff0700 88.5px,#ff0b00 89.5px,#ec0000 90.5px,#4b0000 93.5px,#280000 94.5px,#080000 96.5px,#000 103.5px)"></i>
<i style="top:79px;background:linear-gradient(90deg,#000 0.5px,#030000 74.5px,#0f0000 76.5px,#390000 78.5px,#a70000 81.5px,#ba0000 82.5px,#b60000 83.5px,#780000 85.5px,#720000 86.5px,#8d0000 87.5px,#ef0000 89.5px,#ff0b00 90.5px,#ff0400 91.5px,#d00 92.5px,#6f0000 94.5px,#410000 95.5px,#200 96.5px,#060000 98.5px,#000 103.5px)"></i>
<i style="top:80px;background:linear-gradient(90deg,#000 0.5px,#030000 76.5px,#100000 78.5px,#3d0000 80.5px,#ab0000 83.5px,#b00 84.5px,#b10000 85.5px,#730000 87.5px,#760000 88.5px,#9a0000 89.5px,#f90000 91.5px,#ff0b00 92.5px,#fa0000 93.5px,#d00000 94.5px,#630000 96.5px,#390000 97.5px,#1d0000 98.5px,#050000 100.5px,#000 103.5px)"></i>
<i style="top:81px;background:linear-gradient(90deg,#000 0.5px,#030000 78.5px,#120000 80.5px,#420000 82.5px,#b00000 85.5px,#bc0000 86.5px,#a90000 87.5px,#850000 88.5px,#700000 89.5px,#7d0000 90.5px,#da0000 92.5px,#f00 93.5px,#ff0900 94.5px,#f10000 95.5px,#580000 98.5px,#320000 99.5px,#190000 100.5px,#040000 102.5px,#020000 103.5px)"></i>
<i style="top:82px;background:linear-gradient(90deg,#000 0.5px,#030000 80.5px,#140000 82.5px,#480000 84.5px,#980000 86.5px,#b50000 87.5px,#ba0000 88.5px,#7b0000 90.5px,#700000 91.5px,#860000 92.5px,#e40000 94.5px,#ff0400 95.5px,#ff0500 96.5px,#e80000 97.5px,#4f0000 100.5px,#2c0000 101.5px,#150000 102.5px,#090000 103.5px)"></i>
<i style="top:83px;background:linear-gradient(90deg,#000 0.5px,#040000 82.5px,#170000 84.5px,#2e0000 85.5px,#a20000 88.5px,#b90000 89.5px,#b50000 90.5px,#750000 92.5px,#720000 93.5px,#8f0000 94.5px,#ec0000 96.5px,#ff0600 97.5px,#f00 98.5px,#de0000 99.5px,#470000 102.5px,#260000 103.5px)"></i>
<i style="top:84px;background:linear-gradient(90deg,#000 0.5px,#050000 84.5px,#1b0000 86.5px,#360000 87.5px,#ab0000 90.5px,#bc0000 91.5px,#ad0000 92.5px,#710000 94.5px,#760000 95.5px,#980000 96.5px,#f20000 98.5px,#ff0600 99.5px,#fa0000 100.5px,#d40000 101.5px,#6b0000 103.5px)"></i>
<i style="top:85px;background:linear-gradient(90deg,#000 0.5px,#020000 85.5px,#0f0000 87.5px,#200 88.5px,#400000 89.5px,#930000 91.5px,#b20000 92.5px,#bc0000 93.5px,#a50000 94.5px,#820000 95.5px,#6e0000 96.5px,#7b0000 97.5px,#f70000 100.5px,#ff0500 101.5px,#f30000 102.5px,#ca0000 103.5px)"></i>
<i style="top:86px;background:linear-gradient(90deg,#000 0.5px,#030000 87.5px,#130000 89.5px,#290000 90.5px,#9d0000 93.5px,#b70000 94.5px,#b90000 95.5px,#7b0000 97.5px,#6e0000 98.5px,#800000 99.5px,#d90000 101.5px,#fb0000 102.5px,#ff0300 103.5px)"></i>
<i style="top:87px;background:linear-gradient(90deg,#000 0.5px,#040000 89.5px,#190000 91.5px,#310000 92.5px,#a40000 95.5px,#b90000 96.5px,#b40000 97.5px,#750000 99.5px,#6e0000 100.5px,#870000 101.5px,#e00000 103.5px)"></i>
<i style="top:88px;background:linear-gradient(90deg,#000 0.5px,#050000 91.5px,#1e0000 93.5px,#390000 94.5px,#a00 97.5px,#ba0000 98.5px,#ae0000 99.5px,#700000 101.5px,#700000 102.5px,#8d0000 103.5px)"></i>
<i style="top:89px;background:linear-gradient(90deg,#000 0.5px,#020000 92.5px,#100 94.5px,#230000 95.5px,#670000 97.5px,#ad0000 99.5px,#b90000 100.5px,#a70000 101.5px,#840000 102.5px,#6d0000 103.5px)"></i>
<i style="top:90px;background:linear-gradient(90deg,#000 0.5px,#030000 94.5px,#140000 96.5px,#480000 98.5px,#950000 100.5px,#b00000 101.5px,#b60000 102.5px,#9f0000 103.5px)"></i>
<i style="top:91px;background:linear-gradient(90deg,#000 0.5px,#040000 96.5px,#170000 98.5px,#4f0000 100.5px,#9a0000 102.5px,#b10000 103.5px)"></i>
<i style="top:92px;background:linear-gradient(90deg,#000 0.5px,#050000 98.5px,#1b0000 100.5px,#500 102.5px,#7c0000 103.5px)"></i>
<i style="top:93px;background:linear-gradient(90deg,#000 0.5px,#020000 99.5px,#0e0000 101.5px,#380000 103.5px)"></i>
<i style="top:94px;background:linear-gradient(90deg,#000 0.5px,#030000 101.5px,#100000 103.5px)"></i>
</div>
<svg width="550" height="423" viewBox="0 0 550 423" style="position:absolute;left:0;top:0">
<path d="M410.6 53.0L410.9 53.0L411.2 52.9L411.6 52.8L411.9 52.7L412.2 52.5L412.5 52.3L412.8 52.0L413.2 51.8L413.5 51.5L413.8 51.2L414.1 50.9L414.4 50.7L414.8 50.4L415.1 50.1L415.4 49.8L415.7 49.4L416.0 49.1L416.3 48.7L416.7 48.4L417.0 48.1L417.3 47.8L417.6 47.5L417.9 47.2L418.3 47.0L418.6 46.8L418.9 46.7L419.2 46.6L419.5 46.5L419.9 46.5L420.2 46.5L420.5 46.6L420.8 46.8L421.1 46.9L421.5 47.1L421.8 47.4L422.1 47.6L422.4 47.9L422.7 48.2L423.1 48.5L423.4 48.8L423.7 49.2L424.0 49.5L424.3 49.9L424.6 50.3L425.0 50.6L425.3 51.0L425.6 51.3L425.9 51.7L426.2 52.0L426.6 52.4L426.9 52.8L427.2 53.3L427.5 53.7L427.8 54.2L428.2 54.8L428.5 55.3L428.8 55.9L429.1 56.4L429.4 57.0L429.8 57.6L430.1 58.1L430.4 58.7L430.7 59.2L431.0 59.7L431.4 60.3L431.7 60.8L432.0 61.2L432.3 61.7L432.6 62.2L433.0 62.6L433.3 63.0L433.6 63.4L433.9 63.7L434.2 64.1L434.5 64.4L434.9 64.7L435.2 64.9L435.5 65.2L435.8 65.4L436.1 65.6L436.5 65.8L436.8 66.0L437.1 66.1L437.4 66.2L437.7 66.3L438.1 66.4L438.4 66.5L438.7 66.5L439.0 66.5L439.3 66.5L439.7 66.5L440.0 66.5L440.3 66.4L440.6 66.3L440.9 66.2L441.3 66.1L441.6 66.0L441.9 65.8L442.2 65.6L442.5 65.4L442.8 65.2L443.2 65.0L443.5 64.7L443.8 64.4L444.1 64.1L444.4 63.8L444.8 63.4L445.1 63.0L445.4 62.6L445.7 62.2L446.0 61.7L446.4 61.3L446.7 60.8L447.0 60.3L447.3 59.8L447.6 59.3L448.0 58.7L448.3 58.2L448.6 57.6L448.9 57.0L449.2 56.5L449.6 55.9L449.9 55.4L450.2 54.8L450.5 54.3L450.8 53.8L451.2 53.3L451.5 52.8L451.8 52.4L452.1 52.1L452.4 51.7L452.7 51.4L453.1 51.0L453.4 50.6L453.7 50.3L454.0 49.9L454.3 49.6L454.7 49.2L455.0 48.9L455.3 48.5L455.6 48.2L455.9 47.9L456.3 47.6L456.6 47.4L456.9 47.1L457.2 46.9L457.5 46.8L457.9 46.6L458.2 46.5L458.5 46.5L458.8 46.5L459.1 46.6L459.5 46.7L459.8 46.8L460.1 47.0L460.4 47.2L460.7 47.5L461.0 47.8L461.4 48.1L461.7 48.4L462.0 48.7L462.3 49.1L462.6 49.4L463.0 49.7L463.3 50.1L463.6 50.4L463.9 50.6L464.2 50.9L464.6 51.2L464.9 51.5L465.2 51.7L465.5 52.0L465.8 52.3L466.2 52.5L466.5 52.7L466.8 52.8L467.1 52.9L467.4 53.0L467.8 53.0L468.1 53.0L468.4 52.9L468.7 52.8L469.0 52.7L469.4 52.5L469.7 52.3L470.0 52.1L470.3 51.8L470.6 51.5L470.9 51.2L471.3 50.9L471.6 50.7L471.9 50.4L472.2 50.1L472.5 49.8L472.9 49.4L473.2 49.1L473.5 48.8L473.8 48.4L474.1 48.1L474.5 47.8L474.8 47.5L475.1 47.2L475.4 47.0L475.7 46.8L476.1 46.7L476.4 46.6L476.7 46.5L477.0 46.5L477.3 46.5L477.7 46.6L478.0 46.7L478.3 46.9L478.6 47.1L478.9 47.3L479.2 47.6L479.6 47.9L479.9 48.2L480.2 48.5L480.5 48.8L480.8 49.2L481.2 49.5L481.5 49.9L481.8 50.2L482.1 50.6L482.4 50.9L482.8 51.3L483.1 51.7L483.4 52.0L483.7 52.4L484.0 52.8L484.4 53.2L484.7 53.7L485.0 54.2L485.3 54.7L485.6 55.3L486.0 55.8L486.3 56.4L486.6 57.0L486.9 57.5L487.2 58.1L487.6 58.6L487.9 59.2L488.2 59.7L488.5 60.2L488.8 60.7L489.1 61.2L489.5 61.7L489.8 62.1L490.1 62.6L490.4 63.0L490.7 63.3L491.1 63.7L491.4 64.0L491.7 64.4L492.0 64.7L492.3 64.9L492.7 65.2L493.0 65.4L493.3 65.6L493.6 65.8L493.9 66.0L494.3 66.1L494.6 66.2L494.9 66.3L495.2 66.4L495.5 66.5L495.9 66.5L496.2 66.5L496.5 66.5L496.8 66.5L497.1 66.5L497.4 66.4L497.8 66.3L498.1 66.2L498.4 66.1L498.7 66.0L499.0 65.8L499.4 65.7L499.7 65.4L500.0 65.2L500.3 65.0L500.6 64.7L501.0 64.4L501.3 64.1L501.6 63.8L501.9 63.4L502.2 63.0L502.6 62.6L502.9 62.2L503.2 61.8L503.5 61.3L503.8 60.8L504.2 60.3L504.5 59.8L504.8 59.3L505.1 58.8L505.4 58.2L505.8 57.6L506.1 57.1L506.4 56.5L506.7 55.9L507.0 55.4L507.3 54.8L507.7 54.3L508.0 53.8L508.3 53.3L508.6 52.9L508.9 52.5L509.3 52.1L509.6 51.7L509.9 51.4L510.2 51.0L510.5 50.7L510.9 50.3L511.2 49.9L511.5 49.6L511.8 49.2L512.1 48.9L512.5 48.6L512.8 48.2L513.1 47.9L513.4 47.7L513.7 47.4L514.1 47.2L514.4 47.0L514.7 46.8L515.0 46.6L515.3 46.5L515.6 46.5L516.0 46.5L516.3 46.5L516.6 46.6L516.9 46.8L517.2 47.0L517.6 47.2L517.9 47.5L518.2 47.7L518.5 48.0L518.8 48.4L519.2 48.7L519.5 49.0L519.8 49.4L520.1 49.7L520.4 50.0L520.8 50.3L521.1 50.6L521.4 50.9L521.7 51.2L522.0 51.4L522.4 51.7L522.7 52.0L523.0 52.3L523.3 52.5L523.6 52.7L524.0 52.8L524.3 52.9L524.6 53.0L524.9 53.0L525.2 53.0L525.5 52.9L525.9 52.8L526.2 52.7L526.5 52.6L526.8 52.3L527.1 52.1L527.5 51.8L527.8 51.5L528.1 51.2L528.4 51.0L528.7 50.7L529.1 50.4L529.4 50.1L529.7 49.8L530.0 49.5L530.3 49.1L530.7 48.8L531.0 48.5L531.3 48.1L531.6 47.8L531.9 47.5L532.3 47.3L532.6 47.0L532.9 46.8L533.2 46.7L533.5 46.6L533.8 46.5L534.2 46.5L534.5 46.5L534.8 46.6L535.1 46.7L535.4 46.9L535.8 47.1L536.1 47.3L536.4 47.6L536.7 47.9L537.0 48.2L537.4 48.5L537.7 48.8L538.0 49.1" fill="none" stroke="#222" stroke-width="1.1" stroke-linejoin="round"/>
<path d="M410.6 53.0L410.9 52.9L411.2 52.8L411.6 52.7L411.9 52.5L412.2 52.2L412.5 51.9L412.8 51.6L413.2 51.2L413.5 50.9L413.8 50.5L414.1 50.2L414.4 49.9L414.8 49.6L415.1 49.4L415.4 49.2L415.7 49.1L416.0 49.1L416.3 49.2L416.7 49.5L417.0 50.0L417.3 50.6L417.6 51.2L417.9 52.0L418.3 52.8L418.6 53.6L418.9 54.4L419.2 55.2L419.5 56.1L419.9 57.1L420.2 58.2L420.5 59.4L420.8 60.7L421.1 62.0L421.5 63.4L421.8 64.8L422.1 66.3L422.4 68.0L422.7 69.8L423.1 71.7L423.4 73.6L423.7 75.4L424.0 77.1L424.3 78.7L424.6 80.2L425.0 81.7L425.3 83.2L425.6 84.6L425.9 86.0L426.2 87.2L426.6 88.3L426.9 89.4L427.2 90.2L427.5 91.0L427.8 91.6L428.2 92.2L428.5 92.8L428.8 93.3L429.1 93.8L429.4 94.2L429.8 94.6L430.1 95.0L430.4 95.3L430.7 95.7L431.0 96.0L431.4 96.3L431.7 96.5L432.0 96.8L432.3 97.0L432.6 97.2L433.0 97.4L433.3 97.6L433.6 97.7L433.9 97.9L434.2 98.0L434.5 98.2L434.9 98.3L435.2 98.4L435.5 98.5L435.8 98.6L436.1 98.7L436.5 98.8L436.8 98.8L437.1 98.9L437.4 98.9L437.7 99.0L438.1 99.0L438.4 99.0L438.7 99.0L439.0 99.0L439.3 99.0L439.7 99.0L440.0 99.0L440.3 99.0L440.6 99.0L440.9 98.9L441.3 98.9L441.6 98.8L441.9 98.8L442.2 98.7L442.5 98.6L442.8 98.5L443.2 98.4L443.5 98.3L443.8 98.2L444.1 98.1L444.4 97.9L444.8 97.8L445.1 97.6L445.4 97.4L445.7 97.2L446.0 97.0L446.4 96.8L446.7 96.5L447.0 96.3L447.3 96.0L447.6 95.7L448.0 95.4L448.3 95.0L448.6 94.6L448.9 94.2L449.2 93.8L449.6 93.3L449.9 92.8L450.2 92.2L450.5 91.7L450.8 91.0L451.2 90.3L451.5 89.4L451.8 88.4L452.1 87.3L452.4 86.0L452.7 84.7L453.1 83.3L453.4 81.8L453.7 80.3L454.0 78.8L454.3 77.2L454.7 75.5L455.0 73.7L455.3 71.8L455.6 70.0L455.9 68.1L456.3 66.4L456.6 64.9L456.9 63.5L457.2 62.1L457.5 60.8L457.9 59.5L458.2 58.3L458.5 57.2L458.8 56.2L459.1 55.2L459.5 54.4L459.8 53.6L460.1 52.8L460.4 52.0L460.7 51.3L461.0 50.6L461.4 50.0L461.7 49.6L462.0 49.2L462.3 49.1L462.6 49.1L463.0 49.2L463.3 49.4L463.6 49.6L463.9 49.9L464.2 50.2L464.6 50.5L464.9 50.9L465.2 51.2L465.5 51.6L465.8 51.9L466.2 52.2L466.5 52.4L466.8 52.6L467.1 52.8L467.4 52.9L467.8 53.0L468.1 52.9L468.4 52.8L468.7 52.7L469.0 52.5L469.4 52.2L469.7 51.9L470.0 51.6L470.3 51.3L470.6 50.9L470.9 50.6L471.3 50.2L471.6 49.9L471.9 49.6L472.2 49.4L472.5 49.2L472.9 49.1L473.2 49.1L473.5 49.2L473.8 49.5L474.1 50.0L474.5 50.5L474.8 51.2L475.1 51.9L475.4 52.7L475.7 53.5L476.1 54.3L476.4 55.1L476.7 56.0L477.0 57.0L477.3 58.1L477.7 59.3L478.0 60.6L478.3 61.9L478.6 63.3L478.9 64.7L479.2 66.2L479.6 67.9L479.9 69.7L480.2 71.6L480.5 73.5L480.8 75.3L481.2 77.0L481.5 78.5L481.8 80.1L482.1 81.6L482.4 83.1L482.8 84.5L483.1 85.9L483.4 87.1L483.7 88.3L484.0 89.3L484.4 90.2L484.7 90.9L485.0 91.6L485.3 92.2L485.6 92.7L486.0 93.2L486.3 93.7L486.6 94.2L486.9 94.6L487.2 95.0L487.6 95.3L487.9 95.7L488.2 96.0L488.5 96.2L488.8 96.5L489.1 96.8L489.5 97.0L489.8 97.2L490.1 97.4L490.4 97.6L490.7 97.7L491.1 97.9L491.4 98.0L491.7 98.2L492.0 98.3L492.3 98.4L492.7 98.5L493.0 98.6L493.3 98.7L493.6 98.7L493.9 98.8L494.3 98.9L494.6 98.9L494.9 99.0L495.2 99.0L495.5 99.0L495.9 99.0L496.2 99.0L496.5 99.0L496.8 99.0L497.1 99.0L497.4 99.0L497.8 99.0L498.1 98.9L498.4 98.9L498.7 98.8L499.0 98.8L499.4 98.7L499.7 98.6L500.0 98.5L500.3 98.4L500.6 98.3L501.0 98.2L501.3 98.1L501.6 97.9L501.9 97.8L502.2 97.6L502.6 97.4L502.9 97.2L503.2 97.0L503.5 96.8L503.8 96.6L504.2 96.3L504.5 96.0L504.8 95.7L505.1 95.4L505.4 95.0L505.8 94.7L506.1 94.3L506.4 93.8L506.7 93.3L507.0 92.8L507.3 92.3L507.7 91.7L508.0 91.1L508.3 90.3L508.6 89.5L508.9 88.5L509.3 87.4L509.6 86.1L509.9 84.8L510.2 83.4L510.5 81.9L510.9 80.4L511.2 78.9L511.5 77.3L511.8 75.7L512.1 73.9L512.5 72.0L512.8 70.1L513.1 68.3L513.4 66.5L513.7 65.0L514.1 63.6L514.4 62.2L514.7 60.9L515.0 59.6L515.3 58.4L515.6 57.3L516.0 56.2L516.3 55.3L516.6 54.5L516.9 53.7L517.2 52.9L517.6 52.1L517.9 51.3L518.2 50.7L518.5 50.1L518.8 49.6L519.2 49.3L519.5 49.1L519.8 49.1L520.1 49.2L520.4 49.4L520.8 49.6L521.1 49.8L521.4 50.1L521.7 50.5L522.0 50.8L522.4 51.2L522.7 51.5L523.0 51.9L523.3 52.2L523.6 52.4L524.0 52.6L524.3 52.8L524.6 52.9L524.9 53.0L525.2 52.9L525.5 52.8L525.9 52.7L526.2 52.5L526.5 52.2L526.8 52.0L527.1 51.6L527.5 51.3L527.8 50.9L528.1 50.6L528.4 50.2L528.7 49.9L529.1 49.6L529.4 49.4L529.7 49.2L530.0 49.1L530.3 49.1L530.7 49.2L531.0 49.5L531.3 49.9L531.6 50.5L531.9 51.1L532.3 51.9L532.6 52.6L532.9 53.5L533.2 54.3L533.5 55.1L533.8 55.9L534.2 57.0L534.5 58.1L534.8 59.3L535.1 60.5L535.4 61.9L535.8 63.2L536.1 64.6L536.4 66.1L536.7 67.8L537.0 69.6L537.4 71.4L537.7 73.3L538.0 75.2" fill="none" stroke="#f22" stroke-width="1.1" stroke-linejoin="round"/>
<path d="M410.6 53.0L410.9 52.9L411.2 52.7L411.6 52.5L411.9 52.2L412.2 51.9L412.5 51.6L412.8 51.3L413.2 51.1L413.5 51.0L413.8 51.1L414.1 51.5L414.4 52.1L414.8 53.0L415.1 53.9L415.4 54.9L415.7 56.3L416.0 58.1L416.3 60.4L416.7 62.9L417.0 65.4L417.3 67.9L417.6 70.3L417.9 73.0L418.3 75.6L418.6 78.3L418.9 80.8L419.2 83.0L419.5 85.3L419.9 87.5L420.2 89.6L420.5 91.5L420.8 93.0L421.1 94.2L421.5 95.3L421.8 96.3L422.1 97.1L422.4 97.9L422.7 98.7L423.1 99.3L423.4 99.9L423.7 100.5L424.0 101.0L424.3 101.5L424.6 101.9L425.0 102.4L425.3 102.8L425.6 103.2L425.9 103.6L426.2 103.9L426.6 104.2L426.9 104.5L427.2 104.8L427.5 105.1L427.8 105.4L428.2 105.6L428.5 105.8L428.8 106.0L429.1 106.2L429.4 106.4L429.8 106.6L430.1 106.7L430.4 106.9L430.7 107.0L431.0 107.1L431.4 107.2L431.7 107.3L432.0 107.4L432.3 107.5L432.6 107.6L433.0 107.6L433.3 107.7L433.6 107.8L433.9 107.8L434.2 107.9L434.5 107.9L434.9 108.0L435.2 108.0L435.5 108.0L435.8 108.1L436.1 108.1L436.5 108.1L436.8 108.1L437.1 108.2L437.4 108.2L437.7 108.2L438.1 108.2L438.4 108.2L438.7 108.2L439.0 108.2L439.3 108.2L439.7 108.2L440.0 108.2L440.3 108.2L440.6 108.2L440.9 108.2L441.3 108.2L441.6 108.1L441.9 108.1L442.2 108.1L442.5 108.1L442.8 108.0L443.2 108.0L443.5 108.0L443.8 107.9L444.1 107.9L444.4 107.8L444.8 107.8L445.1 107.7L445.4 107.6L445.7 107.6L446.0 107.5L446.4 107.4L446.7 107.3L447.0 107.2L447.3 107.1L447.6 107.0L448.0 106.9L448.3 106.7L448.6 106.6L448.9 106.4L449.2 106.2L449.6 106.1L449.9 105.8L450.2 105.6L450.5 105.4L450.8 105.1L451.2 104.9L451.5 104.6L451.8 104.3L452.1 103.9L452.4 103.6L452.7 103.2L453.1 102.8L453.4 102.4L453.7 102.0L454.0 101.5L454.3 101.0L454.7 100.5L455.0 100.0L455.3 99.4L455.6 98.7L455.9 98.0L456.3 97.2L456.6 96.3L456.9 95.4L457.2 94.3L457.5 93.1L457.9 91.6L458.2 89.8L458.5 87.7L458.8 85.5L459.1 83.2L459.5 80.9L459.8 78.5L460.1 75.8L460.4 73.1L460.7 70.5L461.0 68.0L461.4 65.6L461.7 63.1L462.0 60.6L462.3 58.3L462.6 56.4L463.0 55.0L463.3 54.0L463.6 53.0L463.9 52.2L464.2 51.5L464.6 51.1L464.9 51.0L465.2 51.1L465.5 51.3L465.8 51.6L466.2 51.9L466.5 52.2L466.8 52.5L467.1 52.7L467.4 52.9L467.8 53.0L468.1 52.9L468.4 52.7L468.7 52.5L469.0 52.3L469.4 51.9L469.7 51.6L470.0 51.3L470.3 51.1L470.6 51.0L470.9 51.1L471.3 51.5L471.6 52.1L471.9 52.9L472.2 53.8L472.5 54.8L472.9 56.1L473.2 58.0L473.5 60.2L473.8 62.7L474.1 65.3L474.5 67.7L474.8 70.2L475.1 72.8L475.4 75.4L475.7 78.1L476.1 80.6L476.4 82.9L476.7 85.1L477.0 87.4L477.3 89.5L477.7 91.4L478.0 92.9L478.3 94.2L478.6 95.2L478.9 96.2L479.2 97.1L479.6 97.9L479.9 98.6L480.2 99.3L480.5 99.9L480.8 100.4L481.2 101.0L481.5 101.5L481.8 101.9L482.1 102.3L482.4 102.8L482.8 103.2L483.1 103.5L483.4 103.9L483.7 104.2L484.0 104.5L484.4 104.8L484.7 105.1L485.0 105.4L485.3 105.6L485.6 105.8L486.0 106.0L486.3 106.2L486.6 106.4L486.9 106.6L487.2 106.7L487.6 106.9L487.9 107.0L488.2 107.1L488.5 107.2L488.8 107.3L489.1 107.4L489.5 107.5L489.8 107.6L490.1 107.6L490.4 107.7L490.7 107.8L491.1 107.8L491.4 107.9L491.7 107.9L492.0 107.9L492.3 108.0L492.7 108.0L493.0 108.1L493.3 108.1L493.6 108.1L493.9 108.1L494.3 108.2L494.6 108.2L494.9 108.2L495.2 108.2L495.5 108.2L495.9 108.2L496.2 108.2L496.5 108.2L496.8 108.2L497.1 108.2L497.4 108.2L497.8 108.2L498.1 108.2L498.4 108.2L498.7 108.1L499.0 108.1L499.4 108.1L499.7 108.1L500.0 108.0L500.3 108.0L500.6 108.0L501.0 107.9L501.3 107.9L501.6 107.8L501.9 107.8L502.2 107.7L502.6 107.6L502.9 107.6L503.2 107.5L503.5 107.4L503.8 107.3L504.2 107.2L504.5 107.1L504.8 107.0L505.1 106.9L505.4 106.7L505.8 106.6L506.1 106.4L506.4 106.3L506.7 106.1L507.0 105.9L507.3 105.6L507.7 105.4L508.0 105.1L508.3 104.9L508.6 104.6L508.9 104.3L509.3 104.0L509.6 103.6L509.9 103.2L510.2 102.8L510.5 102.4L510.9 102.0L511.2 101.6L511.5 101.1L511.8 100.6L512.1 100.0L512.5 99.4L512.8 98.8L513.1 98.0L513.4 97.3L513.7 96.4L514.1 95.5L514.4 94.4L514.7 93.2L515.0 91.7L515.3 89.9L515.6 87.8L516.0 85.6L516.3 83.4L516.6 81.1L516.9 78.6L517.2 76.0L517.6 73.3L517.9 70.7L518.2 68.2L518.5 65.8L518.8 63.3L519.2 60.8L519.5 58.5L519.8 56.5L520.1 55.1L520.4 54.0L520.8 53.1L521.1 52.2L521.4 51.6L521.7 51.1L522.0 51.0L522.4 51.0L522.7 51.2L523.0 51.5L523.3 51.9L523.6 52.2L524.0 52.5L524.3 52.7L524.6 52.9L524.9 53.0L525.2 52.9L525.5 52.8L525.9 52.6L526.2 52.3L526.5 52.0L526.8 51.6L527.1 51.3L527.5 51.1L527.8 51.0L528.1 51.1L528.4 51.4L528.7 52.0L529.1 52.8L529.4 53.8L529.7 54.8L530.0 56.0L530.3 57.9L530.7 60.1L531.0 62.5L531.3 65.1L531.6 67.5L531.9 70.0L532.3 72.6L532.6 75.3L532.9 77.9L533.2 80.4L533.5 82.7L533.8 85.0L534.2 87.2L534.5 89.3L534.8 91.2L535.1 92.8L535.4 94.1L535.8 95.2L536.1 96.1L536.4 97.0L536.7 97.8L537.0 98.6L537.4 99.2L537.7 99.8L538.0 100.4" fill="none" stroke="#22f" stroke-width="1.1" stroke-linejoin="round"/>
<path d="M538.0 30.3V132.8" stroke="#6a6a6a" stroke-width="1"/>
<path d="M538.0 30.3H410.6V132.8H538.0" fill="none" stroke="#3a3a3a" stroke-width="1"/>
<path d="M410.6 52.5V123.8" stroke="#55b" stroke-width="1"/>
<path d="M410.6 132.8h-1.8" stroke="#3a3a3a" stroke-width="1"/>
<path d="M410.6 132.8v1.8" stroke="#3a3a3a" stroke-width="1"/>
<path d="M410.6 81.6h-1.8" stroke="#3a3a3a" stroke-width="1"/>
<path d="M474.3 132.8v1.8" stroke="#3a3a3a" stroke-width="1"/>
<path d="M410.6 30.3h-1.8" stroke="#3a3a3a" stroke-width="1"/>
<path d="M538.0 132.8v1.8" stroke="#3a3a3a" stroke-width="1"/>
<path d="M410.6 107.2h-1.1" stroke="#3a3a3a" stroke-width="0.8"/>
<path d="M442.5 132.8v1.1" stroke="#3a3a3a" stroke-width="0.8"/>
<path d="M410.6 55.9h-1.1" stroke="#3a3a3a" stroke-width="0.8"/>
<path d="M506.1 132.8v1.1" stroke="#3a3a3a" stroke-width="0.8"/>
<path d="M410.6 181.0L410.7 180.7L410.9 180.4L411.0 180.1L411.2 179.8L411.3 179.5L411.4 179.2L411.6 178.9L411.7 178.6L411.9 178.3L412.0 178.1L412.1 177.8L412.3 177.6L412.4 177.4L412.6 177.2L412.7 177.0L412.8 176.8L413.0 176.7L413.1 176.5L413.3 176.4L413.4 176.3L413.5 176.3L413.7 176.2L413.8 176.1L414.0 176.0L414.1 175.9L414.2 175.9L414.4 175.8L414.5 175.7L414.7 175.6L414.8 175.6L414.9 175.5L415.1 175.5L415.2 175.4L415.4 175.3L415.5 175.3L415.6 175.2L415.8 175.2L415.9 175.1L416.1 175.1L416.7 174.9L417.3 174.9L417.9 174.8L418.5 174.8L419.1 174.9L419.7 174.9L420.3 174.9L421.0 174.9L421.6 175.0L422.2 175.0L422.8 175.0L423.4 175.1L424.0 175.1L424.6 175.1L425.3 175.2L425.9 175.2L426.5 175.2L427.1 175.3L427.7 175.3L428.3 175.3L428.9 175.4L429.5 175.4L430.2 175.4L430.8 175.4L431.4 175.4L432.0 175.5L432.6 175.5L433.2 175.5L433.8 175.5L434.4 175.6L435.1 175.6L435.7 175.6L436.3 175.6L436.9 175.6L437.5 175.6L438.1 175.7L438.7 175.7L439.3 175.7L440.0 175.7L440.6 175.7L441.2 175.8L441.8 175.8L442.4 175.8L443.0 175.8L443.6 175.8L444.2 175.9L444.9 175.9L445.5 175.9L446.1 175.9L446.7 175.9L447.3 175.9L447.9 176.0L448.5 176.0L449.1 176.0L449.8 176.0L450.4 176.0L451.0 176.0L451.6 176.1L452.2 176.1L452.8 176.1L453.4 176.1L454.1 176.1L454.7 176.1L455.3 176.1L455.9 176.2L456.5 176.2L457.1 176.2L457.7 176.2L458.3 176.2L459.0 176.2L459.6 176.2L460.2 176.3L460.8 176.3L461.4 176.3L462.0 176.3L462.6 176.3L463.2 176.3L463.9 176.3L464.5 176.4L465.1 176.4L465.7 176.4L466.3 176.4L466.9 176.4L467.5 176.4L468.1 176.4L468.8 176.5L469.4 176.5L470.0 176.5L470.6 176.5L471.2 176.5L471.8 176.5L472.4 176.5L473.0 176.6L473.7 176.6L474.3 176.6L474.9 176.6L475.5 176.6L476.1 176.6L476.7 176.6L477.3 176.7L477.9 176.7L478.6 176.7L479.2 176.7L479.8 176.7L480.4 176.7L481.0 176.7L481.6 176.7L482.2 176.8L482.9 176.8L483.5 176.8L484.1 176.8L484.7 176.8L485.3 176.8L485.9 176.8L486.5 176.9L487.1 176.9L487.8 176.9L488.4 176.9L489.0 176.9L489.6 176.9L490.2 176.9L490.8 176.9L491.4 177.0L492.0 177.0L492.7 177.0L493.3 177.0L493.9 177.0L494.5 177.0L495.1 177.0L495.7 177.0L496.3 177.1L496.9 177.1L497.6 177.1L498.2 177.1L498.8 177.1L499.4 177.1L500.0 177.1L500.6 177.1L501.2 177.1L501.8 177.2L502.5 177.2L503.1 177.2L503.7 177.2L504.3 177.2L504.9 177.2L505.5 177.2L506.1 177.2L506.7 177.3L507.4 177.3L508.0 177.3L508.6 177.3L509.2 177.3L509.8 177.3L510.4 177.3L511.0 177.3L511.7 177.3L512.3 177.4L512.9 177.4L513.5 177.4L514.1 177.4L514.7 177.4L515.3 177.4L515.9 177.4L516.6 177.4L517.2 177.4L517.8 177.4L518.4 177.5L519.0 177.5L519.6 177.5L520.2 177.5L520.8 177.5L521.5 177.5L522.1 177.5L522.7 177.5L523.3 177.5L523.9 177.5L524.5 177.6L525.1 177.6L525.7 177.6L526.4 177.6L527.0 177.6L527.6 177.6L528.2 177.6L528.8 177.6L529.4 177.6L530.0 177.6L530.6 177.6L531.3 177.7L531.9 177.7L532.5 177.7L533.1 177.7L533.7 177.7L534.3 177.7L534.9 177.7L535.5 177.7L536.2 177.7L536.8 177.7L537.4 177.7L538.0 177.7" fill="none" stroke="#222" stroke-width="1.1" stroke-linejoin="round"/>
<path d="M410.6 181.0L410.7 180.2L410.9 179.4L411.0 178.7L411.2 178.2L411.3 177.9L411.4 177.9L411.6 177.8L411.7 177.8L411.9 177.8L412.0 177.8L412.1 177.8L412.3 177.7L412.4 177.7L412.6 177.7L412.7 177.8L412.8 177.8L413.0 177.8L413.1 177.8L413.3 177.8L413.4 177.9L413.5 177.9L413.7 178.0L413.8 178.0L414.0 178.1L414.1 178.1L414.2 178.2L414.4 178.2L414.5 178.3L414.7 178.4L414.8 178.5L414.9 178.5L415.1 178.6L415.2 178.7L415.4 178.8L415.5 178.9L415.6 179.0L415.8 179.1L415.9 179.2L416.1 179.2L416.7 179.7L417.3 180.1L417.9 180.6L418.5 181.1L419.1 181.5L419.7 181.9L420.3 182.2L421.0 182.6L421.6 182.9L422.2 183.2L422.8 183.5L423.4 183.9L424.0 184.2L424.6 184.5L425.3 184.8L425.9 185.1L426.5 185.4L427.1 185.7L427.7 186.0L428.3 186.3L428.9 186.6L429.5 186.9L430.2 187.2L430.8 187.5L431.4 187.7L432.0 188.0L432.6 188.3L433.2 188.6L433.8 188.8L434.4 189.1L435.1 189.4L435.7 189.6L436.3 189.9L436.9 190.2L437.5 190.4L438.1 190.7L438.7 190.9L439.3 191.2L440.0 191.4L440.6 191.6L441.2 191.9L441.8 192.1L442.4 192.3L443.0 192.5L443.6 192.7L444.2 192.9L444.9 193.1L445.5 193.2L446.1 193.4L446.7 193.6L447.3 193.8L447.9 193.9L448.5 194.1L449.1 194.2L449.8 194.4L450.4 194.5L451.0 194.7L451.6 194.8L452.2 195.0L452.8 195.1L453.4 195.3L454.1 195.4L454.7 195.6L455.3 195.7L455.9 195.8L456.5 196.0L457.1 196.1L457.7 196.2L458.3 196.4L459.0 196.5L459.6 196.6L460.2 196.8L460.8 196.9L461.4 197.0L462.0 197.2L462.6 197.3L463.2 197.4L463.9 197.6L464.5 197.7L465.1 197.8L465.7 198.0L466.3 198.1L466.9 198.2L467.5 198.3L468.1 198.4L468.8 198.6L469.4 198.7L470.0 198.8L470.6 198.9L471.2 199.0L471.8 199.2L472.4 199.3L473.0 199.4L473.7 199.5L474.3 199.6L474.9 199.7L475.5 199.8L476.1 199.9L476.7 200.0L477.3 200.1L477.9 200.2L478.6 200.3L479.2 200.4L479.8 200.5L480.4 200.6L481.0 200.7L481.6 200.8L482.2 200.9L482.9 201.0L483.5 201.1L484.1 201.1L484.7 201.2L485.3 201.3L485.9 201.4L486.5 201.5L487.1 201.6L487.8 201.6L488.4 201.7L489.0 201.8L489.6 201.9L490.2 201.9L490.8 202.0L491.4 202.1L492.0 202.1L492.7 202.2L493.3 202.3L493.9 202.3L494.5 202.4L495.1 202.5L495.7 202.5L496.3 202.6L496.9 202.7L497.6 202.7L498.2 202.8L498.8 202.9L499.4 202.9L500.0 203.0L500.6 203.1L501.2 203.1L501.8 203.2L502.5 203.2L503.1 203.3L503.7 203.4L504.3 203.4L504.9 203.5L505.5 203.5L506.1 203.6L506.7 203.7L507.4 203.7L508.0 203.8L508.6 203.8L509.2 203.9L509.8 204.0L510.4 204.0L511.0 204.1L511.7 204.1L512.3 204.2L512.9 204.3L513.5 204.3L514.1 204.4L514.7 204.4L515.3 204.5L515.9 204.6L516.6 204.6L517.2 204.7L517.8 204.7L518.4 204.8L519.0 204.8L519.6 204.9L520.2 204.9L520.8 205.0L521.5 205.1L522.1 205.1L522.7 205.2L523.3 205.2L523.9 205.3L524.5 205.3L525.1 205.4L525.7 205.4L526.4 205.5L527.0 205.5L527.6 205.6L528.2 205.6L528.8 205.7L529.4 205.7L530.0 205.8L530.6 205.8L531.3 205.9L531.9 205.9L532.5 206.0L533.1 206.0L533.7 206.1L534.3 206.1L534.9 206.2L535.5 206.2L536.2 206.3L536.8 206.3L537.4 206.4L538.0 206.4" fill="none" stroke="#f22" stroke-width="1.1" stroke-linejoin="round"/>
<path d="M410.6 181.0L410.7 180.2L410.9 179.7L411.0 179.7L411.2 180.0L411.3 180.6L411.4 181.4L411.6 182.4L411.7 183.5L411.9 184.7L412.0 185.8L412.1 186.9L412.3 187.9L412.4 188.7L412.6 189.3L412.7 189.9L412.8 190.5L413.0 191.1L413.1 191.7L413.3 192.3L413.4 192.8L413.5 193.3L413.7 193.8L413.8 194.3L414.0 194.8L414.1 195.2L414.2 195.7L414.4 196.1L414.5 196.6L414.7 197.0L414.8 197.4L414.9 197.8L415.1 198.2L415.2 198.6L415.4 199.0L415.5 199.4L415.6 199.7L415.8 200.1L415.9 200.5L416.1 200.8L416.7 202.3L417.3 203.7L417.9 205.0L418.5 206.1L419.1 207.2L419.7 208.1L420.3 209.0L421.0 209.9L421.6 210.7L422.2 211.4L422.8 212.1L423.4 212.8L424.0 213.4L424.6 213.9L425.3 214.5L425.9 215.0L426.5 215.5L427.1 216.0L427.7 216.4L428.3 216.9L428.9 217.2L429.5 217.6L430.2 218.0L430.8 218.3L431.4 218.6L432.0 218.8L432.6 219.1L433.2 219.4L433.8 219.7L434.4 219.9L435.1 220.2L435.7 220.4L436.3 220.6L436.9 220.8L437.5 221.0L438.1 221.3L438.7 221.4L439.3 221.6L440.0 221.8L440.6 222.0L441.2 222.1L441.8 222.3L442.4 222.4L443.0 222.6L443.6 222.7L444.2 222.8L444.9 222.9L445.5 223.0L446.1 223.1L446.7 223.2L447.3 223.3L447.9 223.4L448.5 223.5L449.1 223.6L449.8 223.7L450.4 223.8L451.0 223.8L451.6 223.9L452.2 224.0L452.8 224.1L453.4 224.1L454.1 224.2L454.7 224.3L455.3 224.3L455.9 224.4L456.5 224.5L457.1 224.5L457.7 224.6L458.3 224.7L459.0 224.7L459.6 224.8L460.2 224.8L460.8 224.9L461.4 225.0L462.0 225.0L462.6 225.1L463.2 225.1L463.9 225.2L464.5 225.2L465.1 225.3L465.7 225.3L466.3 225.4L466.9 225.4L467.5 225.5L468.1 225.5L468.8 225.6L469.4 225.6L470.0 225.7L470.6 225.7L471.2 225.8L471.8 225.8L472.4 225.9L473.0 225.9L473.7 226.0L474.3 226.0L474.9 226.0L475.5 226.1L476.1 226.1L476.7 226.2L477.3 226.2L477.9 226.3L478.6 226.3L479.2 226.3L479.8 226.4L480.4 226.4L481.0 226.5L481.6 226.5L482.2 226.5L482.9 226.6L483.5 226.6L484.1 226.6L484.7 226.7L485.3 226.7L485.9 226.7L486.5 226.8L487.1 226.8L487.8 226.8L488.4 226.9L489.0 226.9L489.6 226.9L490.2 227.0L490.8 227.0L491.4 227.0L492.0 227.1L492.7 227.1L493.3 227.1L493.9 227.2L494.5 227.2L495.1 227.2L495.7 227.3L496.3 227.3L496.9 227.3L497.6 227.3L498.2 227.4L498.8 227.4L499.4 227.4L500.0 227.4L500.6 227.5L501.2 227.5L501.8 227.5L502.5 227.6L503.1 227.6L503.7 227.6L504.3 227.6L504.9 227.7L505.5 227.7L506.1 227.7L506.7 227.7L507.4 227.8L508.0 227.8L508.6 227.8L509.2 227.8L509.8 227.9L510.4 227.9L511.0 227.9L511.7 227.9L512.3 228.0L512.9 228.0L513.5 228.0L514.1 228.0L514.7 228.1L515.3 228.1L515.9 228.1L516.6 228.1L517.2 228.2L517.8 228.2L518.4 228.2L519.0 228.2L519.6 228.2L520.2 228.3L520.8 228.3L521.5 228.3L522.1 228.3L522.7 228.4L523.3 228.4L523.9 228.4L524.5 228.4L525.1 228.4L525.7 228.5L526.4 228.5L527.0 228.5L527.6 228.5L528.2 228.6L528.8 228.6L529.4 228.6L530.0 228.6L530.6 228.6L531.3 228.7L531.9 228.7L532.5 228.7L533.1 228.7L533.7 228.7L534.3 228.7L534.9 228.8L535.5 228.8L536.2 228.8L536.8 228.8L537.4 228.8L538.0 228.9" fill="none" stroke="#22f" stroke-width="1.1" stroke-linejoin="round"/>
<path d="M538.0 158.8V261.2" stroke="#6a6a6a" stroke-width="1"/>
<path d="M538.0 158.8H410.6V261.2H538.0" fill="none" stroke="#3a3a3a" stroke-width="1"/>
<path d="M410.6 261.2h-1.8" stroke="#3a3a3a" stroke-width="1"/>
<path d="M410.6 261.2v1.8" stroke="#3a3a3a" stroke-width="1"/>
<path d="M410.6 210.0h-1.8" stroke="#3a3a3a" stroke-width="1"/>
<path d="M474.3 261.2v1.8" stroke="#3a3a3a" stroke-width="1"/>
<path d="M410.6 158.8h-1.8" stroke="#3a3a3a" stroke-width="1"/>
<path d="M538.0 261.2v1.8" stroke="#3a3a3a" stroke-width="1"/>
<path d="M410.6 235.6h-1.1" stroke="#3a3a3a" stroke-width="0.8"/>
<path d="M442.5 261.2v1.1" stroke="#3a3a3a" stroke-width="0.8"/>
<path d="M410.6 184.4h-1.1" stroke="#3a3a3a" stroke-width="0.8"/>
<path d="M506.1 261.2v1.1" stroke="#3a3a3a" stroke-width="0.8"/>
<path d="M410.6 311.9L411.0 311.9L411.5 311.9L411.9 311.9L412.3 311.9L412.7 311.9L413.2 311.9L413.6 311.9L414.0 311.9L414.4 311.9L414.9 311.9L415.3 311.9L415.7 311.9L416.1 311.9L416.6 311.9L417.0 311.9L417.4 311.9L417.8 311.9L418.3 311.9L418.7 311.9L419.1 311.8L419.5 311.8L420.0 311.8L420.4 311.8L420.8 311.8L421.3 311.8L421.7 311.8L422.1 311.8L422.5 311.8L423.0 311.7L423.4 311.7L423.8 311.7L424.2 311.7L424.7 311.7L425.1 311.6L425.5 311.6L425.9 311.6L426.4 311.5L426.8 311.5L427.2 311.4L427.6 311.4L428.1 311.3L428.5 311.3L428.9 311.2L429.3 311.1L429.8 311.1L430.2 311.0L430.6 310.9L431.1 310.8L431.5 310.7L431.9 310.6L432.3 310.5L432.8 310.5L433.2 310.4L433.6 310.3L434.0 310.2L434.5 310.1L434.9 310.0L435.3 309.9L435.7 309.8L436.2 309.7L436.6 309.6L437.0 309.5L437.4 309.3L437.9 309.2L438.3 309.1L438.7 309.0L439.1 308.8L439.6 308.7L440.0 308.5L440.4 308.4L440.9 308.2L441.3 308.0L441.7 307.9L442.1 307.7L442.6 307.5L443.0 307.4L443.4 307.2L443.8 307.0L444.3 306.9L444.7 306.7L445.1 306.5L445.5 306.4L446.0 306.2L446.4 306.1L446.8 306.0L447.2 305.8L447.7 305.7L448.1 305.6L448.5 305.6L448.9 305.5L449.4 305.4L449.8 305.4L450.2 305.4L450.7 305.4L451.1 305.5L451.5 305.5L451.9 305.6L452.4 305.7L452.8 305.9L453.2 306.0L453.6 306.2L454.1 306.4L454.5 306.6L454.9 306.9L455.3 307.1L455.8 307.4L456.2 307.7L456.6 308.0L457.0 308.3L457.5 308.7L457.9 309.0L458.3 309.4L458.7 309.8L459.2 310.2L459.6 310.6L460.0 311.0L460.5 311.4L460.9 311.9L461.3 312.4L461.7 313.1L462.2 313.8L462.6 314.5L463.0 315.4L463.4 316.2L463.9 317.2L464.3 318.1L464.7 319.1L465.1 320.1L465.6 321.2L466.0 322.2L466.4 323.3L466.8 324.3L467.3 325.4L467.7 326.4L468.1 327.4L468.5 328.4L469.0 329.4L469.4 330.5L469.8 331.6L470.3 332.7L470.7 333.8L471.1 334.9L471.5 336.0L472.0 337.1L472.4 338.2L472.8 339.3L473.2 340.4L473.7 341.4L474.1 342.4L474.5 343.5L474.9 344.6L475.4 345.7L475.8 346.7L476.2 347.8L476.6 348.8L477.1 349.7L477.5 350.6L477.9 351.4L478.3 352.2L478.8 352.7L479.2 353.3L479.6 353.8L480.1 354.2L480.5 354.7L480.9 355.1L481.3 355.5L481.8 355.8L482.2 356.2L482.6 356.5L483.0 356.9L483.5 357.2L483.9 357.5L484.3 357.8L484.7 358.1L485.2 358.4L485.6 358.7L486.0 359.0L486.4 359.3L486.9 359.6L487.3 359.8L487.7 360.1L488.1 360.4L488.6 360.7L489.0 360.9L489.4 361.2L489.9 361.5L490.3 361.7L490.7 362.0L491.1 362.2L491.6 362.4L492.0 362.7L492.4 362.9L492.8 363.1L493.3 363.4L493.7 363.6L494.1 363.8L494.5 364.0L495.0 364.2L495.4 364.4L495.8 364.6L496.2 364.8L496.7 365.0L497.1 365.2L497.5 365.4L497.9 365.6L498.4 365.7L498.8 365.9L499.2 366.1L499.7 366.3L500.1 366.5L500.5 366.6L500.9 366.8L501.4 367.0L501.8 367.1L502.2 367.3L502.6 367.5L503.1 367.6L503.5 367.8L503.9 367.9L504.3 368.1L504.8 368.2L505.2 368.4L505.6 368.5L506.0 368.7L506.5 368.8L506.9 369.0L507.3 369.1L507.7 369.3L508.2 369.4L508.6 369.6L509.0 369.7L509.5 369.9L509.9 370.0L510.3 370.2L510.7 370.3L511.2 370.4L511.6 370.6L512.0 370.7L512.4 370.9L512.9 371.0L513.3 371.2L513.7 371.3L514.1 371.4L514.6 371.6L515.0 371.7L515.4 371.8L515.8 372.0L516.3 372.1L516.7 372.2L517.1 372.3L517.5 372.5L518.0 372.6L518.4 372.7L518.8 372.8L519.3 373.0L519.7 373.1L520.1 373.2L520.5 373.3L521.0 373.4L521.4 373.5L521.8 373.6L522.2 373.7L522.7 373.8L523.1 373.9L523.5 374.0L523.9 374.1L524.4 374.2L524.8 374.3L525.2 374.4L525.6 374.5L526.1 374.6L526.5 374.7L526.9 374.8L527.3 374.9L527.8 375.0L528.2 375.1L528.6 375.2L529.1 375.3L529.5 375.4L529.9 375.5L530.3 375.6L530.8 375.7L531.2 375.8L531.6 375.9L532.0 375.9L532.5 376.0L532.9 376.1L533.3 376.2L533.7 376.3L534.2 376.3L534.6 376.4L535.0 376.5L535.4 376.6L535.9 376.6L536.3 376.7L536.7 376.7L537.1 376.8L537.6 376.9L538.0 376.9" fill="none" stroke="#222" stroke-width="1.1" stroke-linejoin="round"/>
<path d="M410.6 311.9L411.0 311.9L411.5 311.9L411.9 311.9L412.3 311.9L412.7 311.9L413.2 311.9L413.6 311.9L414.0 311.9L414.4 311.9L414.9 311.9L415.3 311.9L415.7 311.9L416.1 311.8L416.6 311.8L417.0 311.8L417.4 311.8L417.8 311.8L418.3 311.8L418.7 311.8L419.1 311.8L419.5 311.8L420.0 311.7L420.4 311.7L420.8 311.7L421.3 311.7L421.7 311.7L422.1 311.6L422.5 311.6L423.0 311.6L423.4 311.6L423.8 311.5L424.2 311.5L424.7 311.4L425.1 311.4L425.5 311.4L425.9 311.3L426.4 311.3L426.8 311.2L427.2 311.1L427.6 311.1L428.1 311.0L428.5 310.9L428.9 310.8L429.3 310.7L429.8 310.6L430.2 310.5L430.6 310.4L431.1 310.3L431.5 310.2L431.9 310.1L432.3 310.0L432.8 309.9L433.2 309.8L433.6 309.6L434.0 309.5L434.5 309.4L434.9 309.3L435.3 309.1L435.7 309.0L436.2 308.9L436.6 308.8L437.0 308.7L437.4 308.6L437.9 308.4L438.3 308.4L438.7 308.3L439.1 308.2L439.6 308.1L440.0 308.1L440.4 308.0L440.9 308.0L441.3 308.0L441.7 308.0L442.1 308.1L442.6 308.2L443.0 308.3L443.4 308.5L443.8 308.8L444.3 309.1L444.7 309.4L445.1 309.7L445.5 310.1L446.0 310.5L446.4 311.0L446.8 311.4L447.2 311.9L447.7 312.4L448.1 312.9L448.5 313.4L448.9 313.9L449.4 314.5L449.8 315.1L450.2 315.8L450.7 316.5L451.1 317.4L451.5 318.2L451.9 319.1L452.4 320.1L452.8 321.1L453.2 322.2L453.6 323.2L454.1 324.4L454.5 325.6L454.9 327.1L455.3 328.6L455.8 330.2L456.2 331.9L456.6 333.6L457.0 335.2L457.5 336.8L457.9 338.2L458.3 339.8L458.7 341.3L459.2 342.9L459.6 344.4L460.0 345.8L460.5 347.2L460.9 348.5L461.3 349.6L461.7 350.5L462.2 351.3L462.6 352.1L463.0 352.9L463.4 353.6L463.9 354.3L464.3 354.9L464.7 355.5L465.1 356.1L465.6 356.6L466.0 357.2L466.4 357.6L466.8 358.1L467.3 358.6L467.7 359.0L468.1 359.5L468.5 359.9L469.0 360.3L469.4 360.7L469.8 361.1L470.3 361.5L470.7 361.8L471.1 362.2L471.5 362.5L472.0 362.9L472.4 363.2L472.8 363.5L473.2 363.8L473.7 364.1L474.1 364.3L474.5 364.6L474.9 364.9L475.4 365.1L475.8 365.4L476.2 365.6L476.6 365.9L477.1 366.1L477.5 366.3L477.9 366.6L478.3 366.8L478.8 367.0L479.2 367.2L479.6 367.5L480.1 367.7L480.5 367.9L480.9 368.1L481.3 368.3L481.8 368.5L482.2 368.7L482.6 368.9L483.0 369.1L483.5 369.3L483.9 369.5L484.3 369.6L484.7 369.8L485.2 370.0L485.6 370.1L486.0 370.3L486.4 370.5L486.9 370.6L487.3 370.8L487.7 370.9L488.1 371.0L488.6 371.2L489.0 371.3L489.4 371.4L489.9 371.6L490.3 371.7L490.7 371.8L491.1 372.0L491.6 372.1L492.0 372.2L492.4 372.3L492.8 372.4L493.3 372.6L493.7 372.7L494.1 372.8L494.5 372.9L495.0 373.0L495.4 373.1L495.8 373.3L496.2 373.4L496.7 373.5L497.1 373.6L497.5 373.7L497.9 373.8L498.4 373.9L498.8 374.0L499.2 374.1L499.7 374.2L500.1 374.3L500.5 374.4L500.9 374.5L501.4 374.6L501.8 374.7L502.2 374.8L502.6 374.9L503.1 375.0L503.5 375.0L503.9 375.1L504.3 375.2L504.8 375.3L505.2 375.4L505.6 375.5L506.0 375.6L506.5 375.7L506.9 375.7L507.3 375.8L507.7 375.9L508.2 376.0L508.6 376.1L509.0 376.1L509.5 376.2L509.9 376.3L510.3 376.4L510.7 376.5L511.2 376.6L511.6 376.6L512.0 376.7L512.4 376.8L512.9 376.9L513.3 377.0L513.7 377.0L514.1 377.1L514.6 377.2L515.0 377.3L515.4 377.4L515.8 377.5L516.3 377.5L516.7 377.6L517.1 377.7L517.5 377.8L518.0 377.9L518.4 377.9L518.8 378.0L519.3 378.1L519.7 378.2L520.1 378.3L520.5 378.3L521.0 378.4L521.4 378.5L521.8 378.6L522.2 378.7L522.7 378.7L523.1 378.8L523.5 378.9L523.9 379.0L524.4 379.0L524.8 379.1L525.2 379.2L525.6 379.2L526.1 379.3L526.5 379.4L526.9 379.4L527.3 379.5L527.8 379.6L528.2 379.6L528.6 379.7L529.1 379.8L529.5 379.8L529.9 379.9L530.3 380.0L530.8 380.0L531.2 380.1L531.6 380.1L532.0 380.2L532.5 380.2L532.9 380.3L533.3 380.3L533.7 380.4L534.2 380.4L534.6 380.5L535.0 380.5L535.4 380.6L535.9 380.6L536.3 380.6L536.7 380.7L537.1 380.7L537.6 380.7L538.0 380.8" fill="none" stroke="#f22" stroke-width="1.1" stroke-linejoin="round"/>
<path d="M410.6 311.9L411.0 311.9L411.5 311.9L411.9 311.9L412.3 311.9L412.7 311.9L413.2 311.9L413.6 311.9L414.0 311.9L414.4 311.9L414.9 311.9L415.3 311.8L415.7 311.8L416.1 311.8L416.6 311.8L417.0 311.8L417.4 311.8L417.8 311.8L418.3 311.8L418.7 311.7L419.1 311.7L419.5 311.7L420.0 311.7L420.4 311.7L420.8 311.6L421.3 311.6L421.7 311.6L422.1 311.5L422.5 311.5L423.0 311.5L423.4 311.4L423.8 311.4L424.2 311.3L424.7 311.3L425.1 311.2L425.5 311.1L425.9 311.1L426.4 311.0L426.8 310.9L427.2 310.8L427.6 310.8L428.1 310.7L428.5 310.6L428.9 310.5L429.3 310.4L429.8 310.3L430.2 310.2L430.6 310.1L431.1 310.1L431.5 310.0L431.9 310.0L432.3 309.9L432.8 309.9L433.2 309.9L433.6 309.9L434.0 309.9L434.5 310.0L434.9 310.1L435.3 310.3L435.7 310.5L436.2 310.7L436.6 311.0L437.0 311.3L437.4 311.6L437.9 312.0L438.3 312.4L438.7 312.8L439.1 313.2L439.6 313.7L440.0 314.2L440.4 314.9L440.9 315.6L441.3 316.6L441.7 317.6L442.1 318.7L442.6 319.9L443.0 321.2L443.4 322.5L443.8 323.8L444.3 325.1L444.7 326.4L445.1 327.8L445.5 329.2L446.0 330.7L446.4 332.2L446.8 333.8L447.2 335.4L447.7 337.0L448.1 338.5L448.5 340.1L448.9 341.5L449.4 343.0L449.8 344.5L450.2 346.0L450.7 347.5L451.1 348.9L451.5 350.2L451.9 351.4L452.4 352.4L452.8 353.3L453.2 354.2L453.6 354.9L454.1 355.7L454.5 356.4L454.9 357.1L455.3 357.7L455.8 358.3L456.2 358.8L456.6 359.4L457.0 359.9L457.5 360.4L457.9 360.9L458.3 361.4L458.7 361.8L459.2 362.3L459.6 362.7L460.0 363.2L460.5 363.6L460.9 364.0L461.3 364.4L461.7 364.8L462.2 365.2L462.6 365.6L463.0 365.9L463.4 366.3L463.9 366.6L464.3 366.9L464.7 367.2L465.1 367.5L465.6 367.7L466.0 368.0L466.4 368.2L466.8 368.5L467.3 368.7L467.7 369.0L468.1 369.2L468.5 369.5L469.0 369.7L469.4 369.9L469.8 370.1L470.3 370.3L470.7 370.6L471.1 370.8L471.5 371.0L472.0 371.2L472.4 371.3L472.8 371.5L473.2 371.7L473.7 371.9L474.1 372.0L474.5 372.2L474.9 372.4L475.4 372.5L475.8 372.7L476.2 372.8L476.6 372.9L477.1 373.1L477.5 373.2L477.9 373.3L478.3 373.5L478.8 373.6L479.2 373.7L479.6 373.8L480.1 374.0L480.5 374.1L480.9 374.2L481.3 374.3L481.8 374.4L482.2 374.5L482.6 374.7L483.0 374.8L483.5 374.9L483.9 375.0L484.3 375.1L484.7 375.2L485.2 375.3L485.6 375.4L486.0 375.5L486.4 375.6L486.9 375.7L487.3 375.8L487.7 375.9L488.1 376.0L488.6 376.1L489.0 376.2L489.4 376.3L489.9 376.3L490.3 376.4L490.7 376.5L491.1 376.6L491.6 376.7L492.0 376.8L492.4 376.8L492.8 376.9L493.3 377.0L493.7 377.1L494.1 377.1L494.5 377.2L495.0 377.3L495.4 377.4L495.8 377.4L496.2 377.5L496.7 377.6L497.1 377.6L497.5 377.7L497.9 377.8L498.4 377.8L498.8 377.9L499.2 377.9L499.7 378.0L500.1 378.1L500.5 378.1L500.9 378.2L501.4 378.3L501.8 378.3L502.2 378.4L502.6 378.4L503.1 378.5L503.5 378.5L503.9 378.6L504.3 378.7L504.8 378.7L505.2 378.8L505.6 378.8L506.0 378.9L506.5 378.9L506.9 379.0L507.3 379.0L507.7 379.1L508.2 379.1L508.6 379.2L509.0 379.2L509.5 379.3L509.9 379.3L510.3 379.4L510.7 379.4L511.2 379.5L511.6 379.5L512.0 379.6L512.4 379.6L512.9 379.6L513.3 379.7L513.7 379.7L514.1 379.8L514.6 379.8L515.0 379.9L515.4 379.9L515.8 380.0L516.3 380.0L516.7 380.0L517.1 380.1L517.5 380.1L518.0 380.2L518.4 380.2L518.8 380.3L519.3 380.3L519.7 380.3L520.1 380.4L520.5 380.4L521.0 380.5L521.4 380.5L521.8 380.6L522.2 380.6L522.7 380.6L523.1 380.7L523.5 380.7L523.9 380.8L524.4 380.8L524.8 380.8L525.2 380.9L525.6 380.9L526.1 381.0L526.5 381.0L526.9 381.0L527.3 381.1L527.8 381.1L528.2 381.2L528.6 381.2L529.1 381.2L529.5 381.3L529.9 381.3L530.3 381.3L530.8 381.4L531.2 381.4L531.6 381.4L532.0 381.5L532.5 381.5L532.9 381.5L533.3 381.6L533.7 381.6L534.2 381.6L534.6 381.7L535.0 381.7L535.4 381.7L535.9 381.7L536.3 381.8L536.7 381.8L537.1 381.8L537.6 381.8L538.0 381.9" fill="none" stroke="#22f" stroke-width="1.1" stroke-linejoin="round"/>
<path d="M538.0 289.2V391.6" stroke="#6a6a6a" stroke-width="1"/>
<path d="M538.0 289.2H410.6V391.6H538.0" fill="none" stroke="#3a3a3a" stroke-width="1"/>
<path d="M410.6 391.6h-1.8" stroke="#3a3a3a" stroke-width="1"/>
<path d="M410.6 391.6v1.8" stroke="#3a3a3a" stroke-width="1"/>
<path d="M410.6 340.4h-1.8" stroke="#3a3a3a" stroke-width="1"/>
<path d="M474.3 391.6v1.8" stroke="#3a3a3a" stroke-width="1"/>
<path d="M410.6 289.2h-1.8" stroke="#3a3a3a" stroke-width="1"/>
<path d="M538.0 391.6v1.8" stroke="#3a3a3a" stroke-width="1"/>
<path d="M410.6 366.0h-1.1" stroke="#3a3a3a" stroke-width="0.8"/>
<path d="M442.5 391.6v1.1" stroke="#3a3a3a" stroke-width="0.8"/>
<path d="M410.6 314.8h-1.1" stroke="#3a3a3a" stroke-width="0.8"/>
<path d="M506.1 391.6v1.1" stroke="#3a3a3a" stroke-width="0.8"/>
<path d="M438.3 114.0H459.5" stroke="#222" stroke-width="1.2"/>
<path d="M487.8 114.0H509.6" stroke="#f22" stroke-width="1.2"/>
<path d="M438.3 127.1H459.5" stroke="#22f" stroke-width="1.2"/>
<path d="M411.3 230.1H433.1" stroke="#222" stroke-width="1.2"/>
<path d="M411.3 243.2H433.1" stroke="#f22" stroke-width="1.2"/>
<path d="M411.3 256.5H433.1" stroke="#22f" stroke-width="1.2"/>
<path d="M488.2 293.9H509.6" stroke="#222" stroke-width="1.2"/>
<path d="M488.2 306.7H509.6" stroke="#f22" stroke-width="1.2"/>
<path d="M488.2 319.8H509.6" stroke="#22f" stroke-width="1.2"/>
<g transform="translate(0.0 0.0)" stroke="#fff" fill="#fff" stroke-width="0.9"><path d="M49.7 121V130H57" fill="none"/><path d="M49.7 119.6l-1.4 3.6h2.8z" stroke="none"/><path d="M60.6 130l-4 -1.4v2.8z" stroke="none"/></g>
<g transform="translate(0.0 129.3)" stroke="#fff" fill="#fff" stroke-width="0.9"><path d="M49.7 121V130H57" fill="none"/><path d="M49.7 119.6l-1.4 3.6h2.8z" stroke="none"/><path d="M60.6 130l-4 -1.4v2.8z" stroke="none"/></g>
<g transform="translate(0.0 259.9)" stroke="#fff" fill="#fff" stroke-width="0.9"><path d="M49.7 121V130H57" fill="none"/><path d="M49.7 119.6l-1.4 3.6h2.8z" stroke="none"/><path d="M60.6 130l-4 -1.4v2.8z" stroke="none"/></g>
</svg>
<span class="t" style="left:80.92px;top:4.79px;font-size:18px;transform:scale(1.043,1.037)">α=0.5</span>
<span class="t" style="left:184.11px;top:4.79px;font-size:18px;transform:scale(1.051,1.037)">α=0.7</span>
<span class="t" style="left:299.13px;top:4.79px;font-size:18px;transform:scale(1.022,1.037)">α=0.9</span>
<span class="t" style="left:3.78px;top:131.14px;font-size:16px;transform:rotate(-90deg) scale(0.965,1.025)">D(z)=cos(0.1z)</span>
<span class="t" style="left:3.78px;top:238.26px;font-size:16px;transform:rotate(-90deg) scale(1.022,1.025)">D(z)=1/z</span>
<span class="t" style="left:3.78px;top:363.05px;font-size:16px;transform:rotate(-90deg) scale(1.011,1.025)">D(z)=z</span>
<span class="t" style="left:31.02px;top:23.03px;font-size:15px;transform:scale(0.868,1.015)">15</span>
<span class="t" style="left:37.67px;top:75.65px;font-size:15px;transform:scale(0.862,0.950)">0</span>
<span class="t" style="left:22.18px;top:127.02px;font-size:15px;transform:scale(0.962,1.026)">−15</span>
<span class="t" style="left:31.02px;top:152.43px;font-size:15px;transform:scale(0.868,1.015)">15</span>
<span class="t" style="left:37.67px;top:205.05px;font-size:15px;transform:scale(0.862,0.950)">0</span>
<span class="t" style="left:22.18px;top:256.42px;font-size:15px;transform:scale(0.962,1.026)">−15</span>
<span class="t" style="left:31.69px;top:283.21px;font-size:15px;transform:scale(0.821,0.990)">30</span>
<span class="t" style="left:37.67px;top:335.55px;font-size:15px;transform:scale(0.862,0.950)">0</span>
<span class="t" style="left:22.18px;top:387.20px;font-size:15px;transform:scale(0.962,1.000)">−30</span>
<span class="t" style="left:44.84px;top:137.36px;font-size:15px;transform:scale(0.723,0.940)">0</span>
<span class="t" style="left:92.03px;top:137.36px;font-size:15px;transform:scale(0.943,0.940)">35</span>
<span class="t" style="left:145.06px;top:137.36px;font-size:15px;transform:scale(0.858,0.940)">70</span>
<span class="t" style="left:44.84px;top:266.76px;font-size:15px;transform:scale(0.723,0.940)">0</span>
<span class="t" style="left:92.03px;top:266.76px;font-size:15px;transform:scale(0.943,0.940)">35</span>
<span class="t" style="left:145.06px;top:266.76px;font-size:15px;transform:scale(0.858,0.940)">70</span>
<span class="t" style="left:44.84px;top:397.05px;font-size:15px;transform:scale(0.723,0.950)">0</span>
<span class="t" style="left:95.55px;top:396.78px;font-size:15px;transform:scale(0.908,0.974)">5</span>
<span class="t" style="left:144.59px;top:397.05px;font-size:15px;transform:scale(0.891,0.950)">10</span>
<span class="t" style="left:47.91px;top:29.58px;font-size:16px;transform:scale(1.057,1.025);color:#fff">(a0)</span>
<span class="t" style="left:159.81px;top:29.58px;font-size:16px;transform:scale(1.057,1.025);color:#fff">(a1)</span>
<span class="t" style="left:272.21px;top:29.58px;font-size:16px;transform:scale(1.057,1.025);color:#fff">(a2)</span>
<span class="t" style="left:48.20px;top:110.48px;font-size:10px;transform:scale(0.820,1.089);color:#fff">x</span>
<span class="t" style="left:61.61px;top:124.79px;font-size:10px;transform:scale(1.175,1.044);color:#fff">z</span>
<span class="t" style="left:47.93px;top:159.08px;font-size:16px;transform:scale(1.027,1.025);color:#fff">(b0)</span>
<span class="t" style="left:159.83px;top:159.08px;font-size:16px;transform:scale(1.027,1.025);color:#fff">(b1)</span>
<span class="t" style="left:272.23px;top:159.08px;font-size:16px;transform:scale(1.027,1.025);color:#fff">(b2)</span>
<span class="t" style="left:48.20px;top:239.98px;font-size:10px;transform:scale(0.820,1.089);color:#fff">x</span>
<span class="t" style="left:61.61px;top:254.29px;font-size:10px;transform:scale(1.175,1.044);color:#fff">z</span>
<span class="t" style="left:47.87px;top:289.58px;font-size:16px;transform:scale(1.101,1.025);color:#fff">(c0)</span>
<span class="t" style="left:159.77px;top:289.58px;font-size:16px;transform:scale(1.101,1.025);color:#fff">(c1)</span>
<span class="t" style="left:273.17px;top:289.58px;font-size:16px;transform:scale(1.101,1.025);color:#fff">(c2)</span>
<span class="t" style="left:48.20px;top:370.48px;font-size:10px;transform:scale(0.820,1.089);color:#fff">x</span>
<span class="t" style="left:61.61px;top:384.79px;font-size:10px;transform:scale(1.175,1.044);color:#fff">z</span>
<span class="t" style="left:391.91px;top:24.07px;font-size:12.5px;transform:scale(0.983,0.988)">0.6</span>
<span class="t" style="left:391.38px;top:75.27px;font-size:12.5px;transform:scale(1.044,0.988)">0.3</span>
<span class="t" style="left:401.59px;top:126.74px;font-size:12.5px;transform:scale(1.029,1.006)">0</span>
<span class="t" style="left:391.91px;top:152.57px;font-size:12.5px;transform:scale(0.983,0.988)">0.6</span>
<span class="t" style="left:391.38px;top:203.77px;font-size:12.5px;transform:scale(1.044,0.988)">0.3</span>
<span class="t" style="left:401.59px;top:255.24px;font-size:12.5px;transform:scale(1.029,1.006)">0</span>
<span class="t" style="left:391.91px;top:282.97px;font-size:12.5px;transform:scale(0.983,0.988)">0.6</span>
<span class="t" style="left:391.38px;top:334.17px;font-size:12.5px;transform:scale(1.044,0.988)">0.3</span>
<span class="t" style="left:401.59px;top:385.64px;font-size:12.5px;transform:scale(1.029,1.006)">0</span>
<span class="t" style="left:411.61px;top:31.10px;font-size:16px;transform:scale(1.057,0.996)">(a3)</span>
<span class="t" style="left:411.60px;top:159.18px;font-size:16px;transform:scale(1.062,1.025)">(b3)</span>
<span class="t" style="left:411.59px;top:289.60px;font-size:16px;transform:scale(1.080,1.004)">(c3)</span>
<span class="t" style="left:407.69px;top:135.71px;font-size:13px;transform:scale(1.018,1.035)">0</span>
<span class="t" style="left:468.31px;top:135.71px;font-size:13px;transform:scale(0.975,1.035)">35</span>
<span class="t" style="left:532.07px;top:135.71px;font-size:13px;transform:scale(0.979,1.035)">70</span>
<span class="t" style="left:407.69px;top:264.41px;font-size:13px;transform:scale(1.018,1.035)">0</span>
<span class="t" style="left:468.31px;top:264.41px;font-size:13px;transform:scale(0.975,1.035)">35</span>
<span class="t" style="left:532.07px;top:264.41px;font-size:13px;transform:scale(0.979,1.035)">70</span>
<span class="t" style="left:407.93px;top:394.87px;font-size:13px;transform:scale(0.945,1.012)">0</span>
<span class="t" style="left:470.85px;top:394.87px;font-size:13px;transform:scale(1.091,1.012)">5</span>
<span class="t" style="left:533.22px;top:394.87px;font-size:13px;transform:scale(0.878,1.012)">10</span>
<span class="t" style="left:469.90px;top:406.55px;font-size:13px;transform:scale(1.200,1.059)">Z</span>
<span class="t" style="left:461.80px;top:110.70px;font-size:10.5px;transform:scale(1.000,1.029)">α=0.5</span>
<span class="t" style="left:512.01px;top:110.70px;font-size:10.5px;transform:scale(0.981,1.029)">α=0.7</span>
<span class="t" style="left:461.80px;top:123.80px;font-size:10.5px;transform:scale(1.000,1.029)">α=0.9</span>
<span class="t" style="left:435.31px;top:226.70px;font-size:10.5px;transform:scale(0.971,1.000)">α=0.5</span>
<span class="t" style="left:435.32px;top:239.80px;font-size:10.5px;transform:scale(0.961,1.000)">α=0.7</span>
<span class="t" style="left:435.31px;top:253.10px;font-size:10.5px;transform:scale(0.971,1.000)">α=0.9</span>
<span class="t" style="left:512.01px;top:290.60px;font-size:10.5px;transform:scale(0.988,1.000)">α=0.5</span>
<span class="t" style="left:512.01px;top:303.40px;font-size:10.5px;transform:scale(0.977,1.000)">α=0.7</span>
<span class="t" style="left:512.01px;top:316.50px;font-size:10.5px;transform:scale(0.988,1.000)">α=0.9</span>
<span class="t s" style="left:374.62px;top:91.20px;font-size:16px;transform:rotate(-90deg) scale(1.000,0.960)"><b style="font-weight:400">|</b>U<b style="font-weight:400">|</b></span>
<span class="t s" style="left:376.14px;top:217.40px;font-size:16px;transform:rotate(-90deg) scale(1.000,0.927)"><b style="font-weight:400">|</b>U<b style="font-weight:400">|</b></span>
<span class="t s" style="left:376.55px;top:347.40px;font-size:16px;transform:rotate(-90deg) scale(1.000,0.900)"><b style="font-weight:400">|</b>U<b style="font-weight:400">|</b></span>
</body></html>
